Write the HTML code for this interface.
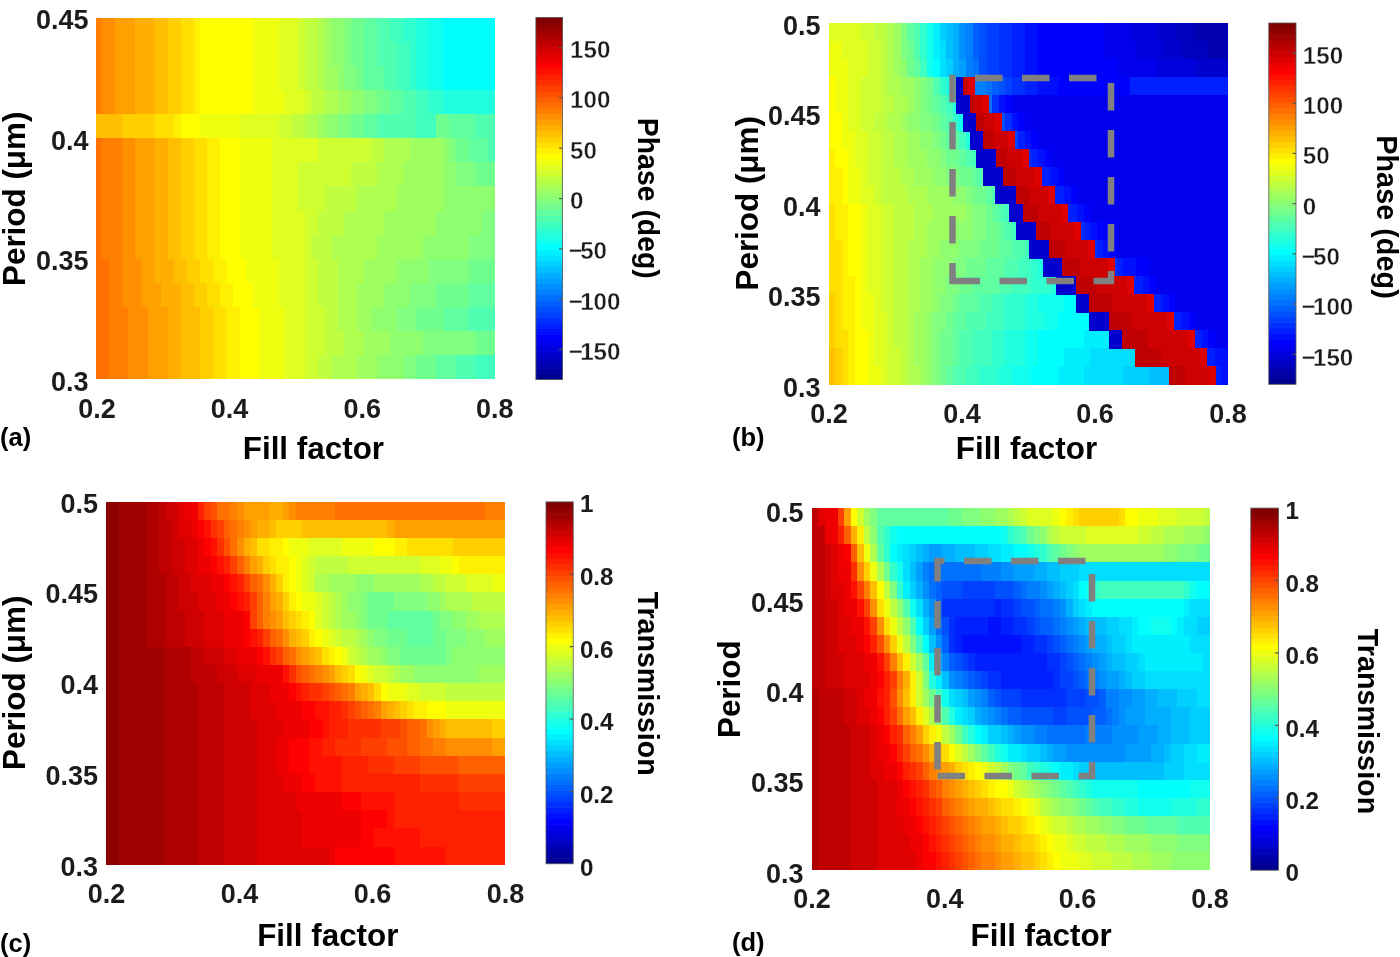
<!DOCTYPE html>
<html><head><meta charset="utf-8"><title>Figure</title><style>
html,body{margin:0;padding:0;background:#fff;width:1400px;height:957px;overflow:hidden}
svg{display:block;filter:blur(0.45px)}

text{font-family:"Liberation Sans",Arial,Helvetica,sans-serif}
.tk{font-size:27px;font-weight:bold;fill:#1c1c1c}
.cb{font-size:24.2px;font-weight:bold;fill:#1c1c1c;stroke:#fff;stroke-width:0.4px}
.cbb{font-size:24.2px;font-weight:bold;fill:#1c1c1c}
.lab{font-size:31.4px;font-weight:bold;fill:#000}
.cbl{font-size:29.6px;font-weight:bold;fill:#000}
.pl{font-size:25.5px;font-weight:bold;fill:#000}

</style></head><body>
<svg width="1400" height="957" viewBox="0 0 1400 957">
<rect width="1400" height="957" fill="#fff"/>
<g shape-rendering="crispEdges">
<rect x="95.5" y="17.6" width="7.15" height="24.72" fill="#ff8000"/>
<rect x="102.05" y="17.6" width="13.7" height="24.72" fill="#ff8f00"/>
<rect x="115.14" y="17.6" width="20.24" height="24.72" fill="#ff9f00"/>
<rect x="134.79" y="17.6" width="20.24" height="24.72" fill="#ffaf00"/>
<rect x="154.43" y="17.6" width="13.7" height="24.72" fill="#ffbf00"/>
<rect x="167.52" y="17.6" width="13.7" height="24.72" fill="#ffcf00"/>
<rect x="180.62" y="17.6" width="13.7" height="24.72" fill="#ffdf00"/>
<rect x="193.71" y="17.6" width="7.15" height="24.72" fill="#ffef00"/>
<rect x="200.26" y="17.6" width="52.98" height="24.72" fill="#ffff00"/>
<rect x="252.64" y="17.6" width="26.79" height="24.72" fill="#efff10"/>
<rect x="278.83" y="17.6" width="20.24" height="24.72" fill="#dfff20"/>
<rect x="298.47" y="17.6" width="7.15" height="24.72" fill="#cfff30"/>
<rect x="305.02" y="17.6" width="13.7" height="24.72" fill="#bfff40"/>
<rect x="318.12" y="17.6" width="7.15" height="24.72" fill="#afff50"/>
<rect x="324.66" y="17.6" width="7.15" height="24.72" fill="#9fff60"/>
<rect x="331.21" y="17.6" width="13.7" height="24.72" fill="#8fff70"/>
<rect x="344.31" y="17.6" width="7.15" height="24.72" fill="#80ff80"/>
<rect x="350.85" y="17.6" width="13.7" height="24.72" fill="#70ff8f"/>
<rect x="363.95" y="17.6" width="13.7" height="24.72" fill="#60ff9f"/>
<rect x="377.04" y="17.6" width="13.7" height="24.72" fill="#50ffaf"/>
<rect x="390.14" y="17.6" width="13.7" height="24.72" fill="#40ffbf"/>
<rect x="403.23" y="17.6" width="13.7" height="24.72" fill="#30ffcf"/>
<rect x="416.33" y="17.6" width="13.7" height="24.72" fill="#20ffdf"/>
<rect x="429.42" y="17.6" width="13.7" height="24.72" fill="#10ffef"/>
<rect x="442.52" y="17.6" width="52.38" height="24.72" fill="#00ffff"/>
<rect x="95.5" y="41.72" width="7.15" height="24.72" fill="#ff8000"/>
<rect x="102.05" y="41.72" width="13.7" height="24.72" fill="#ff8f00"/>
<rect x="115.14" y="41.72" width="20.24" height="24.72" fill="#ff9f00"/>
<rect x="134.79" y="41.72" width="20.24" height="24.72" fill="#ffaf00"/>
<rect x="154.43" y="41.72" width="13.7" height="24.72" fill="#ffbf00"/>
<rect x="167.52" y="41.72" width="13.7" height="24.72" fill="#ffcf00"/>
<rect x="180.62" y="41.72" width="13.7" height="24.72" fill="#ffdf00"/>
<rect x="193.71" y="41.72" width="7.15" height="24.72" fill="#ffef00"/>
<rect x="200.26" y="41.72" width="52.98" height="24.72" fill="#ffff00"/>
<rect x="252.64" y="41.72" width="26.79" height="24.72" fill="#efff10"/>
<rect x="278.83" y="41.72" width="20.24" height="24.72" fill="#dfff20"/>
<rect x="298.47" y="41.72" width="7.15" height="24.72" fill="#cfff30"/>
<rect x="305.02" y="41.72" width="13.7" height="24.72" fill="#bfff40"/>
<rect x="318.12" y="41.72" width="7.15" height="24.72" fill="#afff50"/>
<rect x="324.66" y="41.72" width="7.15" height="24.72" fill="#9fff60"/>
<rect x="331.21" y="41.72" width="13.7" height="24.72" fill="#8fff70"/>
<rect x="344.31" y="41.72" width="7.15" height="24.72" fill="#80ff80"/>
<rect x="350.85" y="41.72" width="13.7" height="24.72" fill="#70ff8f"/>
<rect x="363.95" y="41.72" width="13.7" height="24.72" fill="#60ff9f"/>
<rect x="377.04" y="41.72" width="20.24" height="24.72" fill="#50ffaf"/>
<rect x="396.69" y="41.72" width="13.7" height="24.72" fill="#40ffbf"/>
<rect x="409.78" y="41.72" width="7.15" height="24.72" fill="#30ffcf"/>
<rect x="416.33" y="41.72" width="13.7" height="24.72" fill="#20ffdf"/>
<rect x="429.42" y="41.72" width="13.7" height="24.72" fill="#10ffef"/>
<rect x="442.52" y="41.72" width="52.38" height="24.72" fill="#00ffff"/>
<rect x="95.5" y="65.84" width="7.15" height="24.72" fill="#ff8000"/>
<rect x="102.05" y="65.84" width="13.7" height="24.72" fill="#ff8f00"/>
<rect x="115.14" y="65.84" width="20.24" height="24.72" fill="#ff9f00"/>
<rect x="134.79" y="65.84" width="20.24" height="24.72" fill="#ffaf00"/>
<rect x="154.43" y="65.84" width="13.7" height="24.72" fill="#ffbf00"/>
<rect x="167.52" y="65.84" width="13.7" height="24.72" fill="#ffcf00"/>
<rect x="180.62" y="65.84" width="13.7" height="24.72" fill="#ffdf00"/>
<rect x="193.71" y="65.84" width="7.15" height="24.72" fill="#ffef00"/>
<rect x="200.26" y="65.84" width="52.98" height="24.72" fill="#ffff00"/>
<rect x="252.64" y="65.84" width="26.79" height="24.72" fill="#efff10"/>
<rect x="278.83" y="65.84" width="20.24" height="24.72" fill="#dfff20"/>
<rect x="298.47" y="65.84" width="7.15" height="24.72" fill="#cfff30"/>
<rect x="305.02" y="65.84" width="13.7" height="24.72" fill="#bfff40"/>
<rect x="318.12" y="65.84" width="7.15" height="24.72" fill="#afff50"/>
<rect x="324.66" y="65.84" width="13.7" height="24.72" fill="#9fff60"/>
<rect x="337.76" y="65.84" width="7.15" height="24.72" fill="#8fff70"/>
<rect x="344.31" y="65.84" width="13.7" height="24.72" fill="#80ff80"/>
<rect x="357.4" y="65.84" width="7.15" height="24.72" fill="#70ff8f"/>
<rect x="363.95" y="65.84" width="20.24" height="24.72" fill="#60ff9f"/>
<rect x="383.59" y="65.84" width="13.7" height="24.72" fill="#50ffaf"/>
<rect x="396.69" y="65.84" width="13.7" height="24.72" fill="#40ffbf"/>
<rect x="409.78" y="65.84" width="7.15" height="24.72" fill="#30ffcf"/>
<rect x="416.33" y="65.84" width="13.7" height="24.72" fill="#20ffdf"/>
<rect x="429.42" y="65.84" width="13.7" height="24.72" fill="#10ffef"/>
<rect x="442.52" y="65.84" width="52.38" height="24.72" fill="#00ffff"/>
<rect x="95.5" y="89.96" width="7.15" height="24.72" fill="#ff8000"/>
<rect x="102.05" y="89.96" width="13.7" height="24.72" fill="#ff8f00"/>
<rect x="115.14" y="89.96" width="20.24" height="24.72" fill="#ff9f00"/>
<rect x="134.79" y="89.96" width="20.24" height="24.72" fill="#ffaf00"/>
<rect x="154.43" y="89.96" width="13.7" height="24.72" fill="#ffbf00"/>
<rect x="167.52" y="89.96" width="13.7" height="24.72" fill="#ffcf00"/>
<rect x="180.62" y="89.96" width="13.7" height="24.72" fill="#ffdf00"/>
<rect x="193.71" y="89.96" width="7.15" height="24.72" fill="#ffef00"/>
<rect x="200.26" y="89.96" width="52.98" height="24.72" fill="#ffff00"/>
<rect x="252.64" y="89.96" width="33.34" height="24.72" fill="#efff10"/>
<rect x="285.38" y="89.96" width="20.24" height="24.72" fill="#dfff20"/>
<rect x="305.02" y="89.96" width="7.15" height="24.72" fill="#cfff30"/>
<rect x="311.57" y="89.96" width="13.7" height="24.72" fill="#bfff40"/>
<rect x="324.66" y="89.96" width="13.7" height="24.72" fill="#afff50"/>
<rect x="337.76" y="89.96" width="13.7" height="24.72" fill="#9fff60"/>
<rect x="350.85" y="89.96" width="13.7" height="24.72" fill="#8fff70"/>
<rect x="363.95" y="89.96" width="13.7" height="24.72" fill="#80ff80"/>
<rect x="377.04" y="89.96" width="13.7" height="24.72" fill="#70ff8f"/>
<rect x="390.14" y="89.96" width="13.7" height="24.72" fill="#60ff9f"/>
<rect x="403.23" y="89.96" width="13.7" height="24.72" fill="#50ffaf"/>
<rect x="416.33" y="89.96" width="13.7" height="24.72" fill="#40ffbf"/>
<rect x="429.42" y="89.96" width="13.7" height="24.72" fill="#30ffcf"/>
<rect x="442.52" y="89.96" width="52.38" height="24.72" fill="#20ffdf"/>
<rect x="95.5" y="114.08" width="26.79" height="24.72" fill="#ffbf00"/>
<rect x="121.69" y="114.08" width="33.34" height="24.72" fill="#ffcf00"/>
<rect x="154.43" y="114.08" width="20.24" height="24.72" fill="#ffdf00"/>
<rect x="174.07" y="114.08" width="7.15" height="24.72" fill="#ffef00"/>
<rect x="180.62" y="114.08" width="20.24" height="24.72" fill="#ffff00"/>
<rect x="200.26" y="114.08" width="39.89" height="24.72" fill="#efff10"/>
<rect x="239.55" y="114.08" width="39.89" height="24.72" fill="#dfff20"/>
<rect x="278.83" y="114.08" width="13.7" height="24.72" fill="#cfff30"/>
<rect x="291.93" y="114.08" width="13.7" height="24.72" fill="#bfff40"/>
<rect x="305.02" y="114.08" width="13.7" height="24.72" fill="#afff50"/>
<rect x="318.12" y="114.08" width="7.15" height="24.72" fill="#9fff60"/>
<rect x="324.66" y="114.08" width="13.7" height="24.72" fill="#8fff70"/>
<rect x="337.76" y="114.08" width="13.7" height="24.72" fill="#80ff80"/>
<rect x="350.85" y="114.08" width="13.7" height="24.72" fill="#70ff8f"/>
<rect x="363.95" y="114.08" width="13.7" height="24.72" fill="#60ff9f"/>
<rect x="377.04" y="114.08" width="39.89" height="24.72" fill="#50ffaf"/>
<rect x="416.33" y="114.08" width="20.24" height="24.72" fill="#40ffbf"/>
<rect x="435.97" y="114.08" width="13.7" height="24.72" fill="#70ff8f"/>
<rect x="449.07" y="114.08" width="26.79" height="24.72" fill="#60ff9f"/>
<rect x="475.26" y="114.08" width="19.64" height="24.72" fill="#50ffaf"/>
<rect x="95.5" y="138.2" width="7.15" height="24.72" fill="#ff7000"/>
<rect x="102.05" y="138.2" width="20.24" height="24.72" fill="#ff8000"/>
<rect x="121.69" y="138.2" width="13.7" height="24.72" fill="#ff8f00"/>
<rect x="134.79" y="138.2" width="20.24" height="24.72" fill="#ff9f00"/>
<rect x="154.43" y="138.2" width="13.7" height="24.72" fill="#ffaf00"/>
<rect x="167.52" y="138.2" width="13.7" height="24.72" fill="#ffbf00"/>
<rect x="180.62" y="138.2" width="13.7" height="24.72" fill="#ffcf00"/>
<rect x="193.71" y="138.2" width="13.7" height="24.72" fill="#ffdf00"/>
<rect x="206.81" y="138.2" width="13.7" height="24.72" fill="#ffef00"/>
<rect x="219.9" y="138.2" width="20.24" height="24.72" fill="#ffff00"/>
<rect x="239.55" y="138.2" width="33.34" height="24.72" fill="#efff10"/>
<rect x="272.28" y="138.2" width="46.43" height="24.72" fill="#dfff20"/>
<rect x="318.12" y="138.2" width="52.98" height="24.72" fill="#cfff30"/>
<rect x="370.5" y="138.2" width="13.7" height="24.72" fill="#bfff40"/>
<rect x="383.59" y="138.2" width="26.79" height="24.72" fill="#afff50"/>
<rect x="409.78" y="138.2" width="33.34" height="24.72" fill="#9fff60"/>
<rect x="442.52" y="138.2" width="7.15" height="24.72" fill="#8fff70"/>
<rect x="449.07" y="138.2" width="7.15" height="24.72" fill="#80ff80"/>
<rect x="455.61" y="138.2" width="13.7" height="24.72" fill="#70ff8f"/>
<rect x="468.71" y="138.2" width="20.24" height="24.72" fill="#60ff9f"/>
<rect x="488.35" y="138.2" width="6.55" height="24.72" fill="#50ffaf"/>
<rect x="95.5" y="162.32" width="7.15" height="24.72" fill="#ff7000"/>
<rect x="102.05" y="162.32" width="20.24" height="24.72" fill="#ff8000"/>
<rect x="121.69" y="162.32" width="13.7" height="24.72" fill="#ff8f00"/>
<rect x="134.79" y="162.32" width="20.24" height="24.72" fill="#ff9f00"/>
<rect x="154.43" y="162.32" width="13.7" height="24.72" fill="#ffaf00"/>
<rect x="167.52" y="162.32" width="13.7" height="24.72" fill="#ffbf00"/>
<rect x="180.62" y="162.32" width="13.7" height="24.72" fill="#ffcf00"/>
<rect x="193.71" y="162.32" width="13.7" height="24.72" fill="#ffdf00"/>
<rect x="206.81" y="162.32" width="13.7" height="24.72" fill="#ffef00"/>
<rect x="219.9" y="162.32" width="20.24" height="24.72" fill="#ffff00"/>
<rect x="239.55" y="162.32" width="33.34" height="24.72" fill="#efff10"/>
<rect x="272.28" y="162.32" width="26.79" height="24.72" fill="#dfff20"/>
<rect x="298.47" y="162.32" width="52.98" height="24.72" fill="#cfff30"/>
<rect x="350.85" y="162.32" width="26.79" height="24.72" fill="#bfff40"/>
<rect x="377.04" y="162.32" width="26.79" height="24.72" fill="#afff50"/>
<rect x="403.23" y="162.32" width="39.89" height="24.72" fill="#9fff60"/>
<rect x="442.52" y="162.32" width="13.7" height="24.72" fill="#8fff70"/>
<rect x="455.61" y="162.32" width="20.24" height="24.72" fill="#80ff80"/>
<rect x="475.26" y="162.32" width="19.64" height="24.72" fill="#70ff8f"/>
<rect x="95.5" y="186.44" width="7.15" height="24.72" fill="#ff7000"/>
<rect x="102.05" y="186.44" width="20.24" height="24.72" fill="#ff8000"/>
<rect x="121.69" y="186.44" width="13.7" height="24.72" fill="#ff8f00"/>
<rect x="134.79" y="186.44" width="20.24" height="24.72" fill="#ff9f00"/>
<rect x="154.43" y="186.44" width="13.7" height="24.72" fill="#ffaf00"/>
<rect x="167.52" y="186.44" width="13.7" height="24.72" fill="#ffbf00"/>
<rect x="180.62" y="186.44" width="13.7" height="24.72" fill="#ffcf00"/>
<rect x="193.71" y="186.44" width="13.7" height="24.72" fill="#ffdf00"/>
<rect x="206.81" y="186.44" width="13.7" height="24.72" fill="#ffef00"/>
<rect x="219.9" y="186.44" width="20.24" height="24.72" fill="#ffff00"/>
<rect x="239.55" y="186.44" width="33.34" height="24.72" fill="#efff10"/>
<rect x="272.28" y="186.44" width="26.79" height="24.72" fill="#dfff20"/>
<rect x="298.47" y="186.44" width="26.79" height="24.72" fill="#cfff30"/>
<rect x="324.66" y="186.44" width="33.34" height="24.72" fill="#bfff40"/>
<rect x="357.4" y="186.44" width="39.89" height="24.72" fill="#afff50"/>
<rect x="396.69" y="186.44" width="46.43" height="24.72" fill="#9fff60"/>
<rect x="442.52" y="186.44" width="52.38" height="24.72" fill="#8fff70"/>
<rect x="95.5" y="210.56" width="7.15" height="24.72" fill="#ff7000"/>
<rect x="102.05" y="210.56" width="20.24" height="24.72" fill="#ff8000"/>
<rect x="121.69" y="210.56" width="13.7" height="24.72" fill="#ff8f00"/>
<rect x="134.79" y="210.56" width="20.24" height="24.72" fill="#ff9f00"/>
<rect x="154.43" y="210.56" width="13.7" height="24.72" fill="#ffaf00"/>
<rect x="167.52" y="210.56" width="13.7" height="24.72" fill="#ffbf00"/>
<rect x="180.62" y="210.56" width="13.7" height="24.72" fill="#ffcf00"/>
<rect x="193.71" y="210.56" width="13.7" height="24.72" fill="#ffdf00"/>
<rect x="206.81" y="210.56" width="13.7" height="24.72" fill="#ffef00"/>
<rect x="219.9" y="210.56" width="20.24" height="24.72" fill="#ffff00"/>
<rect x="239.55" y="210.56" width="33.34" height="24.72" fill="#efff10"/>
<rect x="272.28" y="210.56" width="33.34" height="24.72" fill="#dfff20"/>
<rect x="305.02" y="210.56" width="13.7" height="24.72" fill="#cfff30"/>
<rect x="318.12" y="210.56" width="26.79" height="24.72" fill="#bfff40"/>
<rect x="344.31" y="210.56" width="39.89" height="24.72" fill="#afff50"/>
<rect x="383.59" y="210.56" width="52.98" height="24.72" fill="#9fff60"/>
<rect x="435.97" y="210.56" width="46.43" height="24.72" fill="#8fff70"/>
<rect x="481.8" y="210.56" width="13.1" height="24.72" fill="#80ff80"/>
<rect x="95.5" y="234.68" width="7.15" height="24.72" fill="#ff7000"/>
<rect x="102.05" y="234.68" width="20.24" height="24.72" fill="#ff8000"/>
<rect x="121.69" y="234.68" width="13.7" height="24.72" fill="#ff8f00"/>
<rect x="134.79" y="234.68" width="20.24" height="24.72" fill="#ff9f00"/>
<rect x="154.43" y="234.68" width="13.7" height="24.72" fill="#ffaf00"/>
<rect x="167.52" y="234.68" width="13.7" height="24.72" fill="#ffbf00"/>
<rect x="180.62" y="234.68" width="13.7" height="24.72" fill="#ffcf00"/>
<rect x="193.71" y="234.68" width="13.7" height="24.72" fill="#ffdf00"/>
<rect x="206.81" y="234.68" width="13.7" height="24.72" fill="#ffef00"/>
<rect x="219.9" y="234.68" width="20.24" height="24.72" fill="#ffff00"/>
<rect x="239.55" y="234.68" width="33.34" height="24.72" fill="#efff10"/>
<rect x="272.28" y="234.68" width="33.34" height="24.72" fill="#dfff20"/>
<rect x="305.02" y="234.68" width="7.15" height="24.72" fill="#cfff30"/>
<rect x="311.57" y="234.68" width="20.24" height="24.72" fill="#bfff40"/>
<rect x="331.21" y="234.68" width="46.43" height="24.72" fill="#afff50"/>
<rect x="377.04" y="234.68" width="46.43" height="24.72" fill="#9fff60"/>
<rect x="422.88" y="234.68" width="46.43" height="24.72" fill="#8fff70"/>
<rect x="468.71" y="234.68" width="26.19" height="24.72" fill="#80ff80"/>
<rect x="95.5" y="258.8" width="13.7" height="24.72" fill="#ff7000"/>
<rect x="108.6" y="258.8" width="13.7" height="24.72" fill="#ff8000"/>
<rect x="121.69" y="258.8" width="20.24" height="24.72" fill="#ff8f00"/>
<rect x="141.33" y="258.8" width="13.7" height="24.72" fill="#ff9f00"/>
<rect x="154.43" y="258.8" width="20.24" height="24.72" fill="#ffaf00"/>
<rect x="174.07" y="258.8" width="13.7" height="24.72" fill="#ffbf00"/>
<rect x="187.17" y="258.8" width="13.7" height="24.72" fill="#ffcf00"/>
<rect x="200.26" y="258.8" width="13.7" height="24.72" fill="#ffdf00"/>
<rect x="213.36" y="258.8" width="13.7" height="24.72" fill="#ffef00"/>
<rect x="226.45" y="258.8" width="20.24" height="24.72" fill="#ffff00"/>
<rect x="246.09" y="258.8" width="33.34" height="24.72" fill="#efff10"/>
<rect x="278.83" y="258.8" width="26.79" height="24.72" fill="#dfff20"/>
<rect x="305.02" y="258.8" width="13.7" height="24.72" fill="#cfff30"/>
<rect x="318.12" y="258.8" width="20.24" height="24.72" fill="#bfff40"/>
<rect x="337.76" y="258.8" width="26.79" height="24.72" fill="#afff50"/>
<rect x="363.95" y="258.8" width="33.34" height="24.72" fill="#9fff60"/>
<rect x="396.69" y="258.8" width="33.34" height="24.72" fill="#8fff70"/>
<rect x="429.42" y="258.8" width="39.89" height="24.72" fill="#80ff80"/>
<rect x="468.71" y="258.8" width="26.19" height="24.72" fill="#70ff8f"/>
<rect x="95.5" y="282.92" width="13.7" height="24.72" fill="#ff7000"/>
<rect x="108.6" y="282.92" width="13.7" height="24.72" fill="#ff8000"/>
<rect x="121.69" y="282.92" width="20.24" height="24.72" fill="#ff8f00"/>
<rect x="141.33" y="282.92" width="20.24" height="24.72" fill="#ff9f00"/>
<rect x="160.98" y="282.92" width="20.24" height="24.72" fill="#ffaf00"/>
<rect x="180.62" y="282.92" width="13.7" height="24.72" fill="#ffbf00"/>
<rect x="193.71" y="282.92" width="13.7" height="24.72" fill="#ffcf00"/>
<rect x="206.81" y="282.92" width="13.7" height="24.72" fill="#ffdf00"/>
<rect x="219.9" y="282.92" width="13.7" height="24.72" fill="#ffef00"/>
<rect x="233" y="282.92" width="20.24" height="24.72" fill="#ffff00"/>
<rect x="252.64" y="282.92" width="26.79" height="24.72" fill="#efff10"/>
<rect x="278.83" y="282.92" width="26.79" height="24.72" fill="#dfff20"/>
<rect x="305.02" y="282.92" width="13.7" height="24.72" fill="#cfff30"/>
<rect x="318.12" y="282.92" width="20.24" height="24.72" fill="#bfff40"/>
<rect x="337.76" y="282.92" width="20.24" height="24.72" fill="#afff50"/>
<rect x="357.4" y="282.92" width="26.79" height="24.72" fill="#9fff60"/>
<rect x="383.59" y="282.92" width="26.79" height="24.72" fill="#8fff70"/>
<rect x="409.78" y="282.92" width="26.79" height="24.72" fill="#80ff80"/>
<rect x="435.97" y="282.92" width="33.34" height="24.72" fill="#70ff8f"/>
<rect x="468.71" y="282.92" width="26.19" height="24.72" fill="#60ff9f"/>
<rect x="95.5" y="307.04" width="13.7" height="24.72" fill="#ff7000"/>
<rect x="108.6" y="307.04" width="20.24" height="24.72" fill="#ff8000"/>
<rect x="128.24" y="307.04" width="20.24" height="24.72" fill="#ff8f00"/>
<rect x="147.88" y="307.04" width="20.24" height="24.72" fill="#ff9f00"/>
<rect x="167.52" y="307.04" width="13.7" height="24.72" fill="#ffaf00"/>
<rect x="180.62" y="307.04" width="20.24" height="24.72" fill="#ffbf00"/>
<rect x="200.26" y="307.04" width="13.7" height="24.72" fill="#ffcf00"/>
<rect x="213.36" y="307.04" width="13.7" height="24.72" fill="#ffdf00"/>
<rect x="226.45" y="307.04" width="13.7" height="24.72" fill="#ffef00"/>
<rect x="239.55" y="307.04" width="20.24" height="24.72" fill="#ffff00"/>
<rect x="259.19" y="307.04" width="26.79" height="24.72" fill="#efff10"/>
<rect x="285.38" y="307.04" width="20.24" height="24.72" fill="#dfff20"/>
<rect x="305.02" y="307.04" width="20.24" height="24.72" fill="#cfff30"/>
<rect x="324.66" y="307.04" width="13.7" height="24.72" fill="#bfff40"/>
<rect x="337.76" y="307.04" width="20.24" height="24.72" fill="#afff50"/>
<rect x="357.4" y="307.04" width="13.7" height="24.72" fill="#9fff60"/>
<rect x="370.5" y="307.04" width="26.79" height="24.72" fill="#8fff70"/>
<rect x="396.69" y="307.04" width="20.24" height="24.72" fill="#80ff80"/>
<rect x="416.33" y="307.04" width="26.79" height="24.72" fill="#70ff8f"/>
<rect x="442.52" y="307.04" width="26.79" height="24.72" fill="#60ff9f"/>
<rect x="468.71" y="307.04" width="26.19" height="24.72" fill="#50ffaf"/>
<rect x="95.5" y="331.16" width="13.7" height="24.72" fill="#ff7000"/>
<rect x="108.6" y="331.16" width="20.24" height="24.72" fill="#ff8000"/>
<rect x="128.24" y="331.16" width="20.24" height="24.72" fill="#ff8f00"/>
<rect x="147.88" y="331.16" width="20.24" height="24.72" fill="#ff9f00"/>
<rect x="167.52" y="331.16" width="13.7" height="24.72" fill="#ffaf00"/>
<rect x="180.62" y="331.16" width="20.24" height="24.72" fill="#ffbf00"/>
<rect x="200.26" y="331.16" width="13.7" height="24.72" fill="#ffcf00"/>
<rect x="213.36" y="331.16" width="13.7" height="24.72" fill="#ffdf00"/>
<rect x="226.45" y="331.16" width="13.7" height="24.72" fill="#ffef00"/>
<rect x="239.55" y="331.16" width="20.24" height="24.72" fill="#ffff00"/>
<rect x="259.19" y="331.16" width="26.79" height="24.72" fill="#efff10"/>
<rect x="285.38" y="331.16" width="20.24" height="24.72" fill="#dfff20"/>
<rect x="305.02" y="331.16" width="20.24" height="24.72" fill="#cfff30"/>
<rect x="324.66" y="331.16" width="20.24" height="24.72" fill="#bfff40"/>
<rect x="344.31" y="331.16" width="20.24" height="24.72" fill="#afff50"/>
<rect x="363.95" y="331.16" width="26.79" height="24.72" fill="#9fff60"/>
<rect x="390.14" y="331.16" width="33.34" height="24.72" fill="#8fff70"/>
<rect x="422.88" y="331.16" width="52.98" height="24.72" fill="#80ff80"/>
<rect x="475.26" y="331.16" width="19.64" height="24.72" fill="#70ff8f"/>
<rect x="95.5" y="355.28" width="13.7" height="24.12" fill="#ff7000"/>
<rect x="108.6" y="355.28" width="20.24" height="24.12" fill="#ff8000"/>
<rect x="128.24" y="355.28" width="20.24" height="24.12" fill="#ff8f00"/>
<rect x="147.88" y="355.28" width="20.24" height="24.12" fill="#ff9f00"/>
<rect x="167.52" y="355.28" width="13.7" height="24.12" fill="#ffaf00"/>
<rect x="180.62" y="355.28" width="20.24" height="24.12" fill="#ffbf00"/>
<rect x="200.26" y="355.28" width="13.7" height="24.12" fill="#ffcf00"/>
<rect x="213.36" y="355.28" width="13.7" height="24.12" fill="#ffdf00"/>
<rect x="226.45" y="355.28" width="13.7" height="24.12" fill="#ffef00"/>
<rect x="239.55" y="355.28" width="20.24" height="24.12" fill="#ffff00"/>
<rect x="259.19" y="355.28" width="26.79" height="24.12" fill="#efff10"/>
<rect x="285.38" y="355.28" width="20.24" height="24.12" fill="#dfff20"/>
<rect x="305.02" y="355.28" width="13.7" height="24.12" fill="#cfff30"/>
<rect x="318.12" y="355.28" width="13.7" height="24.12" fill="#bfff40"/>
<rect x="331.21" y="355.28" width="26.79" height="24.12" fill="#afff50"/>
<rect x="357.4" y="355.28" width="20.24" height="24.12" fill="#9fff60"/>
<rect x="377.04" y="355.28" width="26.79" height="24.12" fill="#8fff70"/>
<rect x="403.23" y="355.28" width="13.7" height="24.12" fill="#80ff80"/>
<rect x="416.33" y="355.28" width="20.24" height="24.12" fill="#70ff8f"/>
<rect x="435.97" y="355.28" width="20.24" height="24.12" fill="#60ff9f"/>
<rect x="455.61" y="355.28" width="20.24" height="24.12" fill="#50ffaf"/>
<rect x="475.26" y="355.28" width="19.64" height="24.12" fill="#40ffbf"/>
</g>
<g shape-rendering="crispEdges">
<rect x="828.5" y="22.8" width="33.33" height="18.69" fill="#dfff20"/>
<rect x="861.23" y="22.8" width="13.69" height="18.69" fill="#cfff30"/>
<rect x="874.32" y="22.8" width="13.69" height="18.69" fill="#bfff40"/>
<rect x="887.41" y="22.8" width="7.15" height="18.69" fill="#afff50"/>
<rect x="893.96" y="22.8" width="7.15" height="18.69" fill="#9fff60"/>
<rect x="900.5" y="22.8" width="7.15" height="18.69" fill="#80ff80"/>
<rect x="907.05" y="22.8" width="7.15" height="18.69" fill="#60ff9f"/>
<rect x="913.6" y="22.8" width="7.15" height="18.69" fill="#50ffaf"/>
<rect x="920.14" y="22.8" width="7.15" height="18.69" fill="#30ffcf"/>
<rect x="926.69" y="22.8" width="7.15" height="18.69" fill="#10ffef"/>
<rect x="933.23" y="22.8" width="7.15" height="18.69" fill="#00efff"/>
<rect x="939.78" y="22.8" width="7.15" height="18.69" fill="#00cfff"/>
<rect x="946.33" y="22.8" width="7.15" height="18.69" fill="#00bfff"/>
<rect x="952.87" y="22.8" width="7.15" height="18.69" fill="#00afff"/>
<rect x="959.42" y="22.8" width="7.15" height="18.69" fill="#008fff"/>
<rect x="965.96" y="22.8" width="7.15" height="18.69" fill="#0080ff"/>
<rect x="972.51" y="22.8" width="7.15" height="18.69" fill="#0060ff"/>
<rect x="979.06" y="22.8" width="7.15" height="18.69" fill="#0050ff"/>
<rect x="985.6" y="22.8" width="13.69" height="18.69" fill="#0040ff"/>
<rect x="998.69" y="22.8" width="13.69" height="18.69" fill="#0030ff"/>
<rect x="1011.79" y="22.8" width="13.69" height="18.69" fill="#0020ff"/>
<rect x="1024.88" y="22.8" width="13.69" height="18.69" fill="#0010ff"/>
<rect x="1037.97" y="22.8" width="66.06" height="18.69" fill="#0000ff"/>
<rect x="1103.43" y="22.8" width="26.78" height="18.69" fill="#0000ef"/>
<rect x="1129.61" y="22.8" width="26.78" height="18.69" fill="#0000df"/>
<rect x="1155.8" y="22.8" width="20.24" height="18.69" fill="#0000cf"/>
<rect x="1175.43" y="22.8" width="20.24" height="18.69" fill="#0000bf"/>
<rect x="1195.07" y="22.8" width="32.73" height="18.69" fill="#0000af"/>
<rect x="828.5" y="40.89" width="13.69" height="18.69" fill="#efff10"/>
<rect x="841.59" y="40.89" width="26.78" height="18.69" fill="#dfff20"/>
<rect x="867.78" y="40.89" width="13.69" height="18.69" fill="#cfff30"/>
<rect x="880.87" y="40.89" width="7.15" height="18.69" fill="#bfff40"/>
<rect x="887.41" y="40.89" width="7.15" height="18.69" fill="#afff50"/>
<rect x="893.96" y="40.89" width="7.15" height="18.69" fill="#9fff60"/>
<rect x="900.5" y="40.89" width="7.15" height="18.69" fill="#80ff80"/>
<rect x="907.05" y="40.89" width="7.15" height="18.69" fill="#70ff8f"/>
<rect x="913.6" y="40.89" width="7.15" height="18.69" fill="#50ffaf"/>
<rect x="920.14" y="40.89" width="7.15" height="18.69" fill="#30ffcf"/>
<rect x="926.69" y="40.89" width="7.15" height="18.69" fill="#10ffef"/>
<rect x="933.23" y="40.89" width="7.15" height="18.69" fill="#00efff"/>
<rect x="939.78" y="40.89" width="7.15" height="18.69" fill="#00dfff"/>
<rect x="946.33" y="40.89" width="7.15" height="18.69" fill="#00bfff"/>
<rect x="952.87" y="40.89" width="7.15" height="18.69" fill="#00afff"/>
<rect x="959.42" y="40.89" width="7.15" height="18.69" fill="#008fff"/>
<rect x="965.96" y="40.89" width="7.15" height="18.69" fill="#0080ff"/>
<rect x="972.51" y="40.89" width="7.15" height="18.69" fill="#0060ff"/>
<rect x="979.06" y="40.89" width="7.15" height="18.69" fill="#0050ff"/>
<rect x="985.6" y="40.89" width="13.69" height="18.69" fill="#0040ff"/>
<rect x="998.69" y="40.89" width="13.69" height="18.69" fill="#0030ff"/>
<rect x="1011.79" y="40.89" width="13.69" height="18.69" fill="#0020ff"/>
<rect x="1024.88" y="40.89" width="13.69" height="18.69" fill="#0010ff"/>
<rect x="1037.97" y="40.89" width="66.06" height="18.69" fill="#0000ff"/>
<rect x="1103.43" y="40.89" width="33.33" height="18.69" fill="#0000ef"/>
<rect x="1136.16" y="40.89" width="26.78" height="18.69" fill="#0000df"/>
<rect x="1162.34" y="40.89" width="20.24" height="18.69" fill="#0000cf"/>
<rect x="1181.98" y="40.89" width="26.78" height="18.69" fill="#0000bf"/>
<rect x="1208.16" y="40.89" width="19.64" height="18.69" fill="#0000af"/>
<rect x="828.5" y="58.97" width="20.24" height="18.69" fill="#efff10"/>
<rect x="848.14" y="58.97" width="20.24" height="18.69" fill="#dfff20"/>
<rect x="867.78" y="58.97" width="13.69" height="18.69" fill="#cfff30"/>
<rect x="880.87" y="58.97" width="7.15" height="18.69" fill="#bfff40"/>
<rect x="887.41" y="58.97" width="7.15" height="18.69" fill="#afff50"/>
<rect x="893.96" y="58.97" width="7.15" height="18.69" fill="#9fff60"/>
<rect x="900.5" y="58.97" width="7.15" height="18.69" fill="#8fff70"/>
<rect x="907.05" y="58.97" width="7.15" height="18.69" fill="#70ff8f"/>
<rect x="913.6" y="58.97" width="7.15" height="18.69" fill="#60ff9f"/>
<rect x="920.14" y="58.97" width="7.15" height="18.69" fill="#40ffbf"/>
<rect x="926.69" y="58.97" width="7.15" height="18.69" fill="#10ffef"/>
<rect x="933.23" y="58.97" width="7.15" height="18.69" fill="#00ffff"/>
<rect x="939.78" y="58.97" width="7.15" height="18.69" fill="#00dfff"/>
<rect x="946.33" y="58.97" width="7.15" height="18.69" fill="#00cfff"/>
<rect x="952.87" y="58.97" width="7.15" height="18.69" fill="#00afff"/>
<rect x="959.42" y="58.97" width="7.15" height="18.69" fill="#009fff"/>
<rect x="965.96" y="58.97" width="7.15" height="18.69" fill="#0080ff"/>
<rect x="972.51" y="58.97" width="7.15" height="18.69" fill="#0070ff"/>
<rect x="979.06" y="58.97" width="7.15" height="18.69" fill="#0050ff"/>
<rect x="985.6" y="58.97" width="13.69" height="18.69" fill="#0040ff"/>
<rect x="998.69" y="58.97" width="13.69" height="18.69" fill="#0030ff"/>
<rect x="1011.79" y="58.97" width="13.69" height="18.69" fill="#0020ff"/>
<rect x="1024.88" y="58.97" width="13.69" height="18.69" fill="#0010ff"/>
<rect x="1037.97" y="58.97" width="79.15" height="18.69" fill="#0000ff"/>
<rect x="1116.52" y="58.97" width="39.88" height="18.69" fill="#0000ef"/>
<rect x="1155.8" y="58.97" width="39.88" height="18.69" fill="#0000df"/>
<rect x="1195.07" y="58.97" width="32.73" height="18.69" fill="#0000cf"/>
<rect x="828.5" y="77.06" width="7.15" height="18.69" fill="#ffff00"/>
<rect x="835.05" y="77.06" width="13.69" height="18.69" fill="#efff10"/>
<rect x="848.14" y="77.06" width="13.69" height="18.69" fill="#dfff20"/>
<rect x="861.23" y="77.06" width="20.24" height="18.69" fill="#cfff30"/>
<rect x="880.87" y="77.06" width="7.15" height="18.69" fill="#bfff40"/>
<rect x="887.41" y="77.06" width="13.69" height="18.69" fill="#afff50"/>
<rect x="900.5" y="77.06" width="13.69" height="18.69" fill="#9fff60"/>
<rect x="913.6" y="77.06" width="7.15" height="18.69" fill="#8fff70"/>
<rect x="920.14" y="77.06" width="7.15" height="18.69" fill="#80ff80"/>
<rect x="926.69" y="77.06" width="7.15" height="18.69" fill="#70ff8f"/>
<rect x="933.23" y="77.06" width="7.15" height="18.69" fill="#50ffaf"/>
<rect x="939.78" y="77.06" width="7.15" height="18.69" fill="#30ffcf"/>
<rect x="946.33" y="77.06" width="7.15" height="18.69" fill="#20ffdf"/>
<rect x="952.87" y="77.06" width="7.15" height="18.69" fill="#00ffff"/>
<rect x="959.42" y="77.06" width="7.15" height="18.69" fill="#00dfff"/>
<rect x="965.96" y="77.06" width="7.15" height="18.69" fill="#00afff"/>
<rect x="972.51" y="77.06" width="13.69" height="18.69" fill="#0080ff"/>
<rect x="985.6" y="77.06" width="7.15" height="18.69" fill="#0070ff"/>
<rect x="992.15" y="77.06" width="7.15" height="18.69" fill="#0060ff"/>
<rect x="998.69" y="77.06" width="7.15" height="18.69" fill="#0050ff"/>
<rect x="1005.24" y="77.06" width="7.15" height="18.69" fill="#0040ff"/>
<rect x="1011.79" y="77.06" width="13.69" height="18.69" fill="#0030ff"/>
<rect x="1024.88" y="77.06" width="13.69" height="18.69" fill="#0020ff"/>
<rect x="1037.97" y="77.06" width="20.24" height="18.69" fill="#0010ff"/>
<rect x="1057.61" y="77.06" width="72.6" height="18.69" fill="#0000ff"/>
<rect x="1129.61" y="77.06" width="98.19" height="18.69" fill="#0020ff"/>
<rect x="828.5" y="95.14" width="7.15" height="18.69" fill="#ffff00"/>
<rect x="835.05" y="95.14" width="13.69" height="18.69" fill="#efff10"/>
<rect x="848.14" y="95.14" width="13.69" height="18.69" fill="#dfff20"/>
<rect x="861.23" y="95.14" width="20.24" height="18.69" fill="#cfff30"/>
<rect x="880.87" y="95.14" width="13.69" height="18.69" fill="#bfff40"/>
<rect x="893.96" y="95.14" width="13.69" height="18.69" fill="#afff50"/>
<rect x="907.05" y="95.14" width="7.15" height="18.69" fill="#9fff60"/>
<rect x="913.6" y="95.14" width="7.15" height="18.69" fill="#8fff70"/>
<rect x="920.14" y="95.14" width="7.15" height="18.69" fill="#80ff80"/>
<rect x="926.69" y="95.14" width="7.15" height="18.69" fill="#70ff8f"/>
<rect x="933.23" y="95.14" width="7.15" height="18.69" fill="#60ff9f"/>
<rect x="939.78" y="95.14" width="7.15" height="18.69" fill="#50ffaf"/>
<rect x="946.33" y="95.14" width="7.15" height="18.69" fill="#40ffbf"/>
<rect x="952.87" y="95.14" width="7.15" height="18.69" fill="#20ffdf"/>
<rect x="959.42" y="95.14" width="7.15" height="18.69" fill="#00ffff"/>
<rect x="965.96" y="95.14" width="7.15" height="18.69" fill="#00cfff"/>
<rect x="972.51" y="95.14" width="7.15" height="18.69" fill="#00afff"/>
<rect x="979.06" y="95.14" width="7.15" height="18.69" fill="#008fff"/>
<rect x="985.6" y="95.14" width="7.15" height="18.69" fill="#0070ff"/>
<rect x="992.15" y="95.14" width="7.15" height="18.69" fill="#0030ff"/>
<rect x="998.69" y="95.14" width="7.15" height="18.69" fill="#0010ff"/>
<rect x="1005.24" y="95.14" width="7.15" height="18.69" fill="#0000ff"/>
<rect x="1011.79" y="95.14" width="216.01" height="18.69" fill="#0000ef"/>
<rect x="828.5" y="113.23" width="13.69" height="18.69" fill="#ffff00"/>
<rect x="841.59" y="113.23" width="7.15" height="18.69" fill="#efff10"/>
<rect x="848.14" y="113.23" width="13.69" height="18.69" fill="#dfff20"/>
<rect x="861.23" y="113.23" width="13.69" height="18.69" fill="#cfff30"/>
<rect x="874.32" y="113.23" width="13.69" height="18.69" fill="#bfff40"/>
<rect x="887.41" y="113.23" width="13.69" height="18.69" fill="#afff50"/>
<rect x="900.5" y="113.23" width="7.15" height="18.69" fill="#9fff60"/>
<rect x="907.05" y="113.23" width="13.69" height="18.69" fill="#8fff70"/>
<rect x="920.14" y="113.23" width="13.69" height="18.69" fill="#80ff80"/>
<rect x="933.23" y="113.23" width="7.15" height="18.69" fill="#70ff8f"/>
<rect x="939.78" y="113.23" width="7.15" height="18.69" fill="#60ff9f"/>
<rect x="946.33" y="113.23" width="7.15" height="18.69" fill="#50ffaf"/>
<rect x="952.87" y="113.23" width="7.15" height="18.69" fill="#30ffcf"/>
<rect x="959.42" y="113.23" width="7.15" height="18.69" fill="#10ffef"/>
<rect x="965.96" y="113.23" width="7.15" height="18.69" fill="#00efff"/>
<rect x="972.51" y="113.23" width="7.15" height="18.69" fill="#00cfff"/>
<rect x="979.06" y="113.23" width="7.15" height="18.69" fill="#00afff"/>
<rect x="985.6" y="113.23" width="7.15" height="18.69" fill="#008fff"/>
<rect x="992.15" y="113.23" width="7.15" height="18.69" fill="#0070ff"/>
<rect x="998.69" y="113.23" width="7.15" height="18.69" fill="#0050ff"/>
<rect x="1005.24" y="113.23" width="7.15" height="18.69" fill="#0030ff"/>
<rect x="1011.79" y="113.23" width="7.15" height="18.69" fill="#0010ff"/>
<rect x="1018.33" y="113.23" width="7.15" height="18.69" fill="#0000ff"/>
<rect x="1024.88" y="113.23" width="202.92" height="18.69" fill="#0000ef"/>
<rect x="828.5" y="131.31" width="13.69" height="18.69" fill="#ffff00"/>
<rect x="841.59" y="131.31" width="13.69" height="18.69" fill="#efff10"/>
<rect x="854.68" y="131.31" width="13.69" height="18.69" fill="#dfff20"/>
<rect x="867.78" y="131.31" width="13.69" height="18.69" fill="#cfff30"/>
<rect x="880.87" y="131.31" width="13.69" height="18.69" fill="#bfff40"/>
<rect x="893.96" y="131.31" width="13.69" height="18.69" fill="#afff50"/>
<rect x="907.05" y="131.31" width="13.69" height="18.69" fill="#9fff60"/>
<rect x="920.14" y="131.31" width="13.69" height="18.69" fill="#8fff70"/>
<rect x="933.23" y="131.31" width="7.15" height="18.69" fill="#80ff80"/>
<rect x="939.78" y="131.31" width="7.15" height="18.69" fill="#70ff8f"/>
<rect x="946.33" y="131.31" width="13.69" height="18.69" fill="#60ff9f"/>
<rect x="959.42" y="131.31" width="7.15" height="18.69" fill="#40ffbf"/>
<rect x="965.96" y="131.31" width="7.15" height="18.69" fill="#20ffdf"/>
<rect x="972.51" y="131.31" width="7.15" height="18.69" fill="#00ffff"/>
<rect x="979.06" y="131.31" width="7.15" height="18.69" fill="#00dfff"/>
<rect x="985.6" y="131.31" width="7.15" height="18.69" fill="#00bfff"/>
<rect x="992.15" y="131.31" width="7.15" height="18.69" fill="#009fff"/>
<rect x="998.69" y="131.31" width="7.15" height="18.69" fill="#0080ff"/>
<rect x="1005.24" y="131.31" width="7.15" height="18.69" fill="#0060ff"/>
<rect x="1011.79" y="131.31" width="7.15" height="18.69" fill="#0040ff"/>
<rect x="1018.33" y="131.31" width="7.15" height="18.69" fill="#0020ff"/>
<rect x="1024.88" y="131.31" width="7.15" height="18.69" fill="#0010ff"/>
<rect x="1031.42" y="131.31" width="7.15" height="18.69" fill="#0000ff"/>
<rect x="1037.97" y="131.31" width="189.83" height="18.69" fill="#0000ef"/>
<rect x="828.5" y="149.4" width="7.15" height="18.69" fill="#ffef00"/>
<rect x="835.05" y="149.4" width="13.69" height="18.69" fill="#ffff00"/>
<rect x="848.14" y="149.4" width="7.15" height="18.69" fill="#efff10"/>
<rect x="854.68" y="149.4" width="13.69" height="18.69" fill="#dfff20"/>
<rect x="867.78" y="149.4" width="13.69" height="18.69" fill="#cfff30"/>
<rect x="880.87" y="149.4" width="13.69" height="18.69" fill="#bfff40"/>
<rect x="893.96" y="149.4" width="13.69" height="18.69" fill="#afff50"/>
<rect x="907.05" y="149.4" width="20.24" height="18.69" fill="#9fff60"/>
<rect x="926.69" y="149.4" width="13.69" height="18.69" fill="#8fff70"/>
<rect x="939.78" y="149.4" width="7.15" height="18.69" fill="#80ff80"/>
<rect x="946.33" y="149.4" width="13.69" height="18.69" fill="#70ff8f"/>
<rect x="959.42" y="149.4" width="7.15" height="18.69" fill="#60ff9f"/>
<rect x="965.96" y="149.4" width="7.15" height="18.69" fill="#50ffaf"/>
<rect x="972.51" y="149.4" width="7.15" height="18.69" fill="#40ffbf"/>
<rect x="979.06" y="149.4" width="7.15" height="18.69" fill="#20ffdf"/>
<rect x="985.6" y="149.4" width="7.15" height="18.69" fill="#00ffff"/>
<rect x="992.15" y="149.4" width="7.15" height="18.69" fill="#00dfff"/>
<rect x="998.69" y="149.4" width="7.15" height="18.69" fill="#00bfff"/>
<rect x="1005.24" y="149.4" width="7.15" height="18.69" fill="#008fff"/>
<rect x="1011.79" y="149.4" width="7.15" height="18.69" fill="#0070ff"/>
<rect x="1018.33" y="149.4" width="7.15" height="18.69" fill="#0050ff"/>
<rect x="1024.88" y="149.4" width="7.15" height="18.69" fill="#0030ff"/>
<rect x="1031.42" y="149.4" width="7.15" height="18.69" fill="#0020ff"/>
<rect x="1037.97" y="149.4" width="7.15" height="18.69" fill="#0010ff"/>
<rect x="1044.51" y="149.4" width="7.15" height="18.69" fill="#0000ff"/>
<rect x="1051.06" y="149.4" width="176.74" height="18.69" fill="#0000ef"/>
<rect x="828.5" y="167.48" width="13.69" height="18.69" fill="#ffef00"/>
<rect x="841.59" y="167.48" width="7.15" height="18.69" fill="#ffff00"/>
<rect x="848.14" y="167.48" width="13.69" height="18.69" fill="#efff10"/>
<rect x="861.23" y="167.48" width="7.15" height="18.69" fill="#dfff20"/>
<rect x="867.78" y="167.48" width="13.69" height="18.69" fill="#cfff30"/>
<rect x="880.87" y="167.48" width="20.24" height="18.69" fill="#bfff40"/>
<rect x="900.5" y="167.48" width="13.69" height="18.69" fill="#afff50"/>
<rect x="913.6" y="167.48" width="20.24" height="18.69" fill="#9fff60"/>
<rect x="933.23" y="167.48" width="13.69" height="18.69" fill="#8fff70"/>
<rect x="946.33" y="167.48" width="13.69" height="18.69" fill="#80ff80"/>
<rect x="959.42" y="167.48" width="13.69" height="18.69" fill="#70ff8f"/>
<rect x="972.51" y="167.48" width="7.15" height="18.69" fill="#60ff9f"/>
<rect x="979.06" y="167.48" width="7.15" height="18.69" fill="#50ffaf"/>
<rect x="985.6" y="167.48" width="7.15" height="18.69" fill="#30ffcf"/>
<rect x="992.15" y="167.48" width="7.15" height="18.69" fill="#10ffef"/>
<rect x="998.69" y="167.48" width="7.15" height="18.69" fill="#00efff"/>
<rect x="1005.24" y="167.48" width="7.15" height="18.69" fill="#00bfff"/>
<rect x="1011.79" y="167.48" width="7.15" height="18.69" fill="#009fff"/>
<rect x="1018.33" y="167.48" width="7.15" height="18.69" fill="#0080ff"/>
<rect x="1024.88" y="167.48" width="7.15" height="18.69" fill="#0060ff"/>
<rect x="1031.42" y="167.48" width="7.15" height="18.69" fill="#0040ff"/>
<rect x="1037.97" y="167.48" width="13.69" height="18.69" fill="#0020ff"/>
<rect x="1051.06" y="167.48" width="7.15" height="18.69" fill="#0010ff"/>
<rect x="1057.61" y="167.48" width="7.15" height="18.69" fill="#0000ff"/>
<rect x="1064.15" y="167.48" width="163.65" height="18.69" fill="#0000ef"/>
<rect x="828.5" y="185.57" width="13.69" height="18.69" fill="#ffef00"/>
<rect x="841.59" y="185.57" width="7.15" height="18.69" fill="#ffff00"/>
<rect x="848.14" y="185.57" width="13.69" height="18.69" fill="#efff10"/>
<rect x="861.23" y="185.57" width="13.69" height="18.69" fill="#dfff20"/>
<rect x="874.32" y="185.57" width="7.15" height="18.69" fill="#cfff30"/>
<rect x="880.87" y="185.57" width="26.78" height="18.69" fill="#bfff40"/>
<rect x="907.05" y="185.57" width="20.24" height="18.69" fill="#afff50"/>
<rect x="926.69" y="185.57" width="26.78" height="18.69" fill="#9fff60"/>
<rect x="952.87" y="185.57" width="13.69" height="18.69" fill="#8fff70"/>
<rect x="965.96" y="185.57" width="7.15" height="18.69" fill="#80ff80"/>
<rect x="972.51" y="185.57" width="13.69" height="18.69" fill="#70ff8f"/>
<rect x="985.6" y="185.57" width="7.15" height="18.69" fill="#60ff9f"/>
<rect x="992.15" y="185.57" width="7.15" height="18.69" fill="#50ffaf"/>
<rect x="998.69" y="185.57" width="7.15" height="18.69" fill="#30ffcf"/>
<rect x="1005.24" y="185.57" width="7.15" height="18.69" fill="#10ffef"/>
<rect x="1011.79" y="185.57" width="7.15" height="18.69" fill="#00efff"/>
<rect x="1018.33" y="185.57" width="7.15" height="18.69" fill="#00cfff"/>
<rect x="1024.88" y="185.57" width="7.15" height="18.69" fill="#00afff"/>
<rect x="1031.42" y="185.57" width="7.15" height="18.69" fill="#008fff"/>
<rect x="1037.97" y="185.57" width="7.15" height="18.69" fill="#0070ff"/>
<rect x="1044.51" y="185.57" width="7.15" height="18.69" fill="#0040ff"/>
<rect x="1051.06" y="185.57" width="13.69" height="18.69" fill="#0020ff"/>
<rect x="1064.15" y="185.57" width="7.15" height="18.69" fill="#0010ff"/>
<rect x="1070.7" y="185.57" width="7.15" height="18.69" fill="#0000ff"/>
<rect x="1077.24" y="185.57" width="150.56" height="18.69" fill="#0000ef"/>
<rect x="828.5" y="203.65" width="7.15" height="18.69" fill="#ffdf00"/>
<rect x="835.05" y="203.65" width="13.69" height="18.69" fill="#ffef00"/>
<rect x="848.14" y="203.65" width="13.69" height="18.69" fill="#ffff00"/>
<rect x="861.23" y="203.65" width="7.15" height="18.69" fill="#efff10"/>
<rect x="867.78" y="203.65" width="13.69" height="18.69" fill="#dfff20"/>
<rect x="880.87" y="203.65" width="13.69" height="18.69" fill="#cfff30"/>
<rect x="893.96" y="203.65" width="20.24" height="18.69" fill="#bfff40"/>
<rect x="913.6" y="203.65" width="20.24" height="18.69" fill="#afff50"/>
<rect x="933.23" y="203.65" width="33.33" height="18.69" fill="#9fff60"/>
<rect x="965.96" y="203.65" width="7.15" height="18.69" fill="#8fff70"/>
<rect x="972.51" y="203.65" width="13.69" height="18.69" fill="#80ff80"/>
<rect x="985.6" y="203.65" width="7.15" height="18.69" fill="#70ff8f"/>
<rect x="992.15" y="203.65" width="7.15" height="18.69" fill="#60ff9f"/>
<rect x="998.69" y="203.65" width="7.15" height="18.69" fill="#50ffaf"/>
<rect x="1005.24" y="203.65" width="7.15" height="18.69" fill="#40ffbf"/>
<rect x="1011.79" y="203.65" width="7.15" height="18.69" fill="#20ffdf"/>
<rect x="1018.33" y="203.65" width="7.15" height="18.69" fill="#00ffff"/>
<rect x="1024.88" y="203.65" width="7.15" height="18.69" fill="#00dfff"/>
<rect x="1031.42" y="203.65" width="7.15" height="18.69" fill="#00bfff"/>
<rect x="1037.97" y="203.65" width="7.15" height="18.69" fill="#009fff"/>
<rect x="1044.51" y="203.65" width="7.15" height="18.69" fill="#0080ff"/>
<rect x="1051.06" y="203.65" width="7.15" height="18.69" fill="#0060ff"/>
<rect x="1057.61" y="203.65" width="7.15" height="18.69" fill="#0040ff"/>
<rect x="1064.15" y="203.65" width="13.69" height="18.69" fill="#0020ff"/>
<rect x="1077.24" y="203.65" width="7.15" height="18.69" fill="#0010ff"/>
<rect x="1083.79" y="203.65" width="7.15" height="18.69" fill="#0000ff"/>
<rect x="1090.34" y="203.65" width="137.46" height="18.69" fill="#0000ef"/>
<rect x="828.5" y="221.74" width="7.15" height="18.69" fill="#ffdf00"/>
<rect x="835.05" y="221.74" width="13.69" height="18.69" fill="#ffef00"/>
<rect x="848.14" y="221.74" width="13.69" height="18.69" fill="#ffff00"/>
<rect x="861.23" y="221.74" width="7.15" height="18.69" fill="#efff10"/>
<rect x="867.78" y="221.74" width="13.69" height="18.69" fill="#dfff20"/>
<rect x="880.87" y="221.74" width="13.69" height="18.69" fill="#cfff30"/>
<rect x="893.96" y="221.74" width="20.24" height="18.69" fill="#bfff40"/>
<rect x="913.6" y="221.74" width="13.69" height="18.69" fill="#afff50"/>
<rect x="926.69" y="221.74" width="26.78" height="18.69" fill="#9fff60"/>
<rect x="952.87" y="221.74" width="20.24" height="18.69" fill="#8fff70"/>
<rect x="972.51" y="221.74" width="13.69" height="18.69" fill="#80ff80"/>
<rect x="985.6" y="221.74" width="13.69" height="18.69" fill="#70ff8f"/>
<rect x="998.69" y="221.74" width="7.15" height="18.69" fill="#60ff9f"/>
<rect x="1005.24" y="221.74" width="7.15" height="18.69" fill="#50ffaf"/>
<rect x="1011.79" y="221.74" width="7.15" height="18.69" fill="#40ffbf"/>
<rect x="1018.33" y="221.74" width="7.15" height="18.69" fill="#20ffdf"/>
<rect x="1024.88" y="221.74" width="7.15" height="18.69" fill="#10ffef"/>
<rect x="1031.42" y="221.74" width="7.15" height="18.69" fill="#00efff"/>
<rect x="1037.97" y="221.74" width="7.15" height="18.69" fill="#00cfff"/>
<rect x="1044.51" y="221.74" width="7.15" height="18.69" fill="#00bfff"/>
<rect x="1051.06" y="221.74" width="7.15" height="18.69" fill="#009fff"/>
<rect x="1057.61" y="221.74" width="7.15" height="18.69" fill="#0080ff"/>
<rect x="1064.15" y="221.74" width="7.15" height="18.69" fill="#0060ff"/>
<rect x="1070.7" y="221.74" width="7.15" height="18.69" fill="#0050ff"/>
<rect x="1077.24" y="221.74" width="7.15" height="18.69" fill="#0030ff"/>
<rect x="1083.79" y="221.74" width="7.15" height="18.69" fill="#0020ff"/>
<rect x="1090.34" y="221.74" width="7.15" height="18.69" fill="#0010ff"/>
<rect x="1096.88" y="221.74" width="20.24" height="18.69" fill="#0000ff"/>
<rect x="1116.52" y="221.74" width="111.28" height="18.69" fill="#0000ef"/>
<rect x="828.5" y="239.82" width="13.69" height="18.69" fill="#ffdf00"/>
<rect x="841.59" y="239.82" width="7.15" height="18.69" fill="#ffef00"/>
<rect x="848.14" y="239.82" width="13.69" height="18.69" fill="#ffff00"/>
<rect x="861.23" y="239.82" width="7.15" height="18.69" fill="#efff10"/>
<rect x="867.78" y="239.82" width="13.69" height="18.69" fill="#dfff20"/>
<rect x="880.87" y="239.82" width="13.69" height="18.69" fill="#cfff30"/>
<rect x="893.96" y="239.82" width="13.69" height="18.69" fill="#bfff40"/>
<rect x="907.05" y="239.82" width="20.24" height="18.69" fill="#afff50"/>
<rect x="926.69" y="239.82" width="13.69" height="18.69" fill="#9fff60"/>
<rect x="939.78" y="239.82" width="20.24" height="18.69" fill="#8fff70"/>
<rect x="959.42" y="239.82" width="20.24" height="18.69" fill="#80ff80"/>
<rect x="979.06" y="239.82" width="20.24" height="18.69" fill="#70ff8f"/>
<rect x="998.69" y="239.82" width="13.69" height="18.69" fill="#60ff9f"/>
<rect x="1011.79" y="239.82" width="13.69" height="18.69" fill="#50ffaf"/>
<rect x="1024.88" y="239.82" width="7.15" height="18.69" fill="#40ffbf"/>
<rect x="1031.42" y="239.82" width="7.15" height="18.69" fill="#20ffdf"/>
<rect x="1037.97" y="239.82" width="7.15" height="18.69" fill="#10ffef"/>
<rect x="1044.51" y="239.82" width="7.15" height="18.69" fill="#00efff"/>
<rect x="1051.06" y="239.82" width="7.15" height="18.69" fill="#00cfff"/>
<rect x="1057.61" y="239.82" width="7.15" height="18.69" fill="#00afff"/>
<rect x="1064.15" y="239.82" width="7.15" height="18.69" fill="#009fff"/>
<rect x="1070.7" y="239.82" width="7.15" height="18.69" fill="#0080ff"/>
<rect x="1077.24" y="239.82" width="7.15" height="18.69" fill="#0060ff"/>
<rect x="1083.79" y="239.82" width="7.15" height="18.69" fill="#0040ff"/>
<rect x="1090.34" y="239.82" width="7.15" height="18.69" fill="#0030ff"/>
<rect x="1096.88" y="239.82" width="7.15" height="18.69" fill="#0020ff"/>
<rect x="1103.43" y="239.82" width="7.15" height="18.69" fill="#0010ff"/>
<rect x="1109.97" y="239.82" width="7.15" height="18.69" fill="#0000ff"/>
<rect x="1116.52" y="239.82" width="111.28" height="18.69" fill="#0000ef"/>
<rect x="828.5" y="257.91" width="13.69" height="18.69" fill="#ffdf00"/>
<rect x="841.59" y="257.91" width="7.15" height="18.69" fill="#ffef00"/>
<rect x="848.14" y="257.91" width="13.69" height="18.69" fill="#ffff00"/>
<rect x="861.23" y="257.91" width="7.15" height="18.69" fill="#efff10"/>
<rect x="867.78" y="257.91" width="13.69" height="18.69" fill="#dfff20"/>
<rect x="880.87" y="257.91" width="13.69" height="18.69" fill="#cfff30"/>
<rect x="893.96" y="257.91" width="13.69" height="18.69" fill="#bfff40"/>
<rect x="907.05" y="257.91" width="13.69" height="18.69" fill="#afff50"/>
<rect x="920.14" y="257.91" width="13.69" height="18.69" fill="#9fff60"/>
<rect x="933.23" y="257.91" width="20.24" height="18.69" fill="#8fff70"/>
<rect x="952.87" y="257.91" width="13.69" height="18.69" fill="#80ff80"/>
<rect x="965.96" y="257.91" width="20.24" height="18.69" fill="#70ff8f"/>
<rect x="985.6" y="257.91" width="20.24" height="18.69" fill="#60ff9f"/>
<rect x="1005.24" y="257.91" width="13.69" height="18.69" fill="#50ffaf"/>
<rect x="1018.33" y="257.91" width="13.69" height="18.69" fill="#40ffbf"/>
<rect x="1031.42" y="257.91" width="7.15" height="18.69" fill="#30ffcf"/>
<rect x="1037.97" y="257.91" width="7.15" height="18.69" fill="#20ffdf"/>
<rect x="1044.51" y="257.91" width="7.15" height="18.69" fill="#10ffef"/>
<rect x="1051.06" y="257.91" width="7.15" height="18.69" fill="#00ffff"/>
<rect x="1057.61" y="257.91" width="7.15" height="18.69" fill="#00dfff"/>
<rect x="1064.15" y="257.91" width="7.15" height="18.69" fill="#00cfff"/>
<rect x="1070.7" y="257.91" width="7.15" height="18.69" fill="#00afff"/>
<rect x="1077.24" y="257.91" width="7.15" height="18.69" fill="#009fff"/>
<rect x="1083.79" y="257.91" width="7.15" height="18.69" fill="#0080ff"/>
<rect x="1090.34" y="257.91" width="7.15" height="18.69" fill="#0060ff"/>
<rect x="1096.88" y="257.91" width="7.15" height="18.69" fill="#0050ff"/>
<rect x="1103.43" y="257.91" width="7.15" height="18.69" fill="#0040ff"/>
<rect x="1109.97" y="257.91" width="7.15" height="18.69" fill="#0030ff"/>
<rect x="1116.52" y="257.91" width="7.15" height="18.69" fill="#0020ff"/>
<rect x="1123.07" y="257.91" width="13.69" height="18.69" fill="#0010ff"/>
<rect x="1136.16" y="257.91" width="13.69" height="18.69" fill="#0000ff"/>
<rect x="1149.25" y="257.91" width="78.55" height="18.69" fill="#0000ef"/>
<rect x="828.5" y="275.99" width="13.69" height="18.69" fill="#ffdf00"/>
<rect x="841.59" y="275.99" width="13.69" height="18.69" fill="#ffef00"/>
<rect x="854.68" y="275.99" width="7.15" height="18.69" fill="#ffff00"/>
<rect x="861.23" y="275.99" width="7.15" height="18.69" fill="#efff10"/>
<rect x="867.78" y="275.99" width="13.69" height="18.69" fill="#dfff20"/>
<rect x="880.87" y="275.99" width="13.69" height="18.69" fill="#cfff30"/>
<rect x="893.96" y="275.99" width="13.69" height="18.69" fill="#bfff40"/>
<rect x="907.05" y="275.99" width="13.69" height="18.69" fill="#afff50"/>
<rect x="920.14" y="275.99" width="13.69" height="18.69" fill="#9fff60"/>
<rect x="933.23" y="275.99" width="13.69" height="18.69" fill="#8fff70"/>
<rect x="946.33" y="275.99" width="13.69" height="18.69" fill="#80ff80"/>
<rect x="959.42" y="275.99" width="13.69" height="18.69" fill="#70ff8f"/>
<rect x="972.51" y="275.99" width="26.78" height="18.69" fill="#60ff9f"/>
<rect x="998.69" y="275.99" width="13.69" height="18.69" fill="#50ffaf"/>
<rect x="1011.79" y="275.99" width="20.24" height="18.69" fill="#40ffbf"/>
<rect x="1031.42" y="275.99" width="20.24" height="18.69" fill="#30ffcf"/>
<rect x="1051.06" y="275.99" width="7.15" height="18.69" fill="#20ffdf"/>
<rect x="1057.61" y="275.99" width="7.15" height="18.69" fill="#10ffef"/>
<rect x="1064.15" y="275.99" width="7.15" height="18.69" fill="#00ffff"/>
<rect x="1070.7" y="275.99" width="7.15" height="18.69" fill="#00dfff"/>
<rect x="1077.24" y="275.99" width="7.15" height="18.69" fill="#00cfff"/>
<rect x="1083.79" y="275.99" width="7.15" height="18.69" fill="#00bfff"/>
<rect x="1090.34" y="275.99" width="7.15" height="18.69" fill="#009fff"/>
<rect x="1096.88" y="275.99" width="7.15" height="18.69" fill="#008fff"/>
<rect x="1103.43" y="275.99" width="7.15" height="18.69" fill="#0080ff"/>
<rect x="1109.97" y="275.99" width="7.15" height="18.69" fill="#0060ff"/>
<rect x="1116.52" y="275.99" width="7.15" height="18.69" fill="#0050ff"/>
<rect x="1123.07" y="275.99" width="7.15" height="18.69" fill="#0040ff"/>
<rect x="1129.61" y="275.99" width="13.69" height="18.69" fill="#0020ff"/>
<rect x="1142.7" y="275.99" width="7.15" height="18.69" fill="#0010ff"/>
<rect x="1149.25" y="275.99" width="7.15" height="18.69" fill="#0000ff"/>
<rect x="1155.8" y="275.99" width="72" height="18.69" fill="#0000ef"/>
<rect x="828.5" y="294.08" width="7.15" height="18.69" fill="#ffcf00"/>
<rect x="835.05" y="294.08" width="7.15" height="18.69" fill="#ffdf00"/>
<rect x="841.59" y="294.08" width="13.69" height="18.69" fill="#ffef00"/>
<rect x="854.68" y="294.08" width="7.15" height="18.69" fill="#ffff00"/>
<rect x="861.23" y="294.08" width="13.69" height="18.69" fill="#efff10"/>
<rect x="874.32" y="294.08" width="7.15" height="18.69" fill="#dfff20"/>
<rect x="880.87" y="294.08" width="13.69" height="18.69" fill="#cfff30"/>
<rect x="893.96" y="294.08" width="13.69" height="18.69" fill="#bfff40"/>
<rect x="907.05" y="294.08" width="13.69" height="18.69" fill="#afff50"/>
<rect x="920.14" y="294.08" width="13.69" height="18.69" fill="#9fff60"/>
<rect x="933.23" y="294.08" width="7.15" height="18.69" fill="#8fff70"/>
<rect x="939.78" y="294.08" width="13.69" height="18.69" fill="#80ff80"/>
<rect x="952.87" y="294.08" width="7.15" height="18.69" fill="#70ff8f"/>
<rect x="959.42" y="294.08" width="20.24" height="18.69" fill="#60ff9f"/>
<rect x="979.06" y="294.08" width="13.69" height="18.69" fill="#50ffaf"/>
<rect x="992.15" y="294.08" width="13.69" height="18.69" fill="#40ffbf"/>
<rect x="1005.24" y="294.08" width="20.24" height="18.69" fill="#30ffcf"/>
<rect x="1024.88" y="294.08" width="13.69" height="18.69" fill="#20ffdf"/>
<rect x="1037.97" y="294.08" width="26.78" height="18.69" fill="#10ffef"/>
<rect x="1064.15" y="294.08" width="13.69" height="18.69" fill="#00ffff"/>
<rect x="1077.24" y="294.08" width="7.15" height="18.69" fill="#00efff"/>
<rect x="1083.79" y="294.08" width="7.15" height="18.69" fill="#00dfff"/>
<rect x="1090.34" y="294.08" width="7.15" height="18.69" fill="#00cfff"/>
<rect x="1096.88" y="294.08" width="7.15" height="18.69" fill="#00bfff"/>
<rect x="1103.43" y="294.08" width="7.15" height="18.69" fill="#00afff"/>
<rect x="1109.97" y="294.08" width="7.15" height="18.69" fill="#008fff"/>
<rect x="1116.52" y="294.08" width="7.15" height="18.69" fill="#0080ff"/>
<rect x="1123.07" y="294.08" width="7.15" height="18.69" fill="#0070ff"/>
<rect x="1129.61" y="294.08" width="7.15" height="18.69" fill="#0060ff"/>
<rect x="1136.16" y="294.08" width="7.15" height="18.69" fill="#0050ff"/>
<rect x="1142.7" y="294.08" width="7.15" height="18.69" fill="#0040ff"/>
<rect x="1149.25" y="294.08" width="13.69" height="18.69" fill="#0020ff"/>
<rect x="1162.34" y="294.08" width="7.15" height="18.69" fill="#0010ff"/>
<rect x="1168.89" y="294.08" width="7.15" height="18.69" fill="#0000ff"/>
<rect x="1175.43" y="294.08" width="52.37" height="18.69" fill="#0000ef"/>
<rect x="828.5" y="312.16" width="7.15" height="18.69" fill="#ffcf00"/>
<rect x="835.05" y="312.16" width="7.15" height="18.69" fill="#ffdf00"/>
<rect x="841.59" y="312.16" width="13.69" height="18.69" fill="#ffef00"/>
<rect x="854.68" y="312.16" width="7.15" height="18.69" fill="#ffff00"/>
<rect x="861.23" y="312.16" width="13.69" height="18.69" fill="#efff10"/>
<rect x="874.32" y="312.16" width="13.69" height="18.69" fill="#dfff20"/>
<rect x="887.41" y="312.16" width="7.15" height="18.69" fill="#cfff30"/>
<rect x="893.96" y="312.16" width="13.69" height="18.69" fill="#bfff40"/>
<rect x="907.05" y="312.16" width="7.15" height="18.69" fill="#afff50"/>
<rect x="913.6" y="312.16" width="13.69" height="18.69" fill="#9fff60"/>
<rect x="926.69" y="312.16" width="7.15" height="18.69" fill="#8fff70"/>
<rect x="933.23" y="312.16" width="13.69" height="18.69" fill="#80ff80"/>
<rect x="946.33" y="312.16" width="7.15" height="18.69" fill="#70ff8f"/>
<rect x="952.87" y="312.16" width="13.69" height="18.69" fill="#60ff9f"/>
<rect x="965.96" y="312.16" width="20.24" height="18.69" fill="#50ffaf"/>
<rect x="985.6" y="312.16" width="20.24" height="18.69" fill="#40ffbf"/>
<rect x="1005.24" y="312.16" width="20.24" height="18.69" fill="#30ffcf"/>
<rect x="1024.88" y="312.16" width="20.24" height="18.69" fill="#20ffdf"/>
<rect x="1044.51" y="312.16" width="13.69" height="18.69" fill="#10ffef"/>
<rect x="1057.61" y="312.16" width="33.33" height="18.69" fill="#00ffff"/>
<rect x="1090.34" y="312.16" width="7.15" height="18.69" fill="#00efff"/>
<rect x="1096.88" y="312.16" width="7.15" height="18.69" fill="#00dfff"/>
<rect x="1103.43" y="312.16" width="7.15" height="18.69" fill="#00cfff"/>
<rect x="1109.97" y="312.16" width="7.15" height="18.69" fill="#00bfff"/>
<rect x="1116.52" y="312.16" width="7.15" height="18.69" fill="#00afff"/>
<rect x="1123.07" y="312.16" width="7.15" height="18.69" fill="#009fff"/>
<rect x="1129.61" y="312.16" width="7.15" height="18.69" fill="#008fff"/>
<rect x="1136.16" y="312.16" width="7.15" height="18.69" fill="#0080ff"/>
<rect x="1142.7" y="312.16" width="7.15" height="18.69" fill="#0070ff"/>
<rect x="1149.25" y="312.16" width="7.15" height="18.69" fill="#0050ff"/>
<rect x="1155.8" y="312.16" width="7.15" height="18.69" fill="#0040ff"/>
<rect x="1162.34" y="312.16" width="7.15" height="18.69" fill="#0030ff"/>
<rect x="1168.89" y="312.16" width="13.69" height="18.69" fill="#0020ff"/>
<rect x="1181.98" y="312.16" width="7.15" height="18.69" fill="#0010ff"/>
<rect x="1188.52" y="312.16" width="7.15" height="18.69" fill="#0000ff"/>
<rect x="1195.07" y="312.16" width="32.73" height="18.69" fill="#0000ef"/>
<rect x="828.5" y="330.25" width="7.15" height="18.69" fill="#ffcf00"/>
<rect x="835.05" y="330.25" width="13.69" height="18.69" fill="#ffdf00"/>
<rect x="848.14" y="330.25" width="7.15" height="18.69" fill="#ffef00"/>
<rect x="854.68" y="330.25" width="13.69" height="18.69" fill="#ffff00"/>
<rect x="867.78" y="330.25" width="7.15" height="18.69" fill="#efff10"/>
<rect x="874.32" y="330.25" width="13.69" height="18.69" fill="#dfff20"/>
<rect x="887.41" y="330.25" width="7.15" height="18.69" fill="#cfff30"/>
<rect x="893.96" y="330.25" width="13.69" height="18.69" fill="#bfff40"/>
<rect x="907.05" y="330.25" width="7.15" height="18.69" fill="#afff50"/>
<rect x="913.6" y="330.25" width="13.69" height="18.69" fill="#9fff60"/>
<rect x="926.69" y="330.25" width="7.15" height="18.69" fill="#8fff70"/>
<rect x="933.23" y="330.25" width="7.15" height="18.69" fill="#80ff80"/>
<rect x="939.78" y="330.25" width="13.69" height="18.69" fill="#70ff8f"/>
<rect x="952.87" y="330.25" width="7.15" height="18.69" fill="#60ff9f"/>
<rect x="959.42" y="330.25" width="13.69" height="18.69" fill="#50ffaf"/>
<rect x="972.51" y="330.25" width="20.24" height="18.69" fill="#40ffbf"/>
<rect x="992.15" y="330.25" width="13.69" height="18.69" fill="#30ffcf"/>
<rect x="1005.24" y="330.25" width="20.24" height="18.69" fill="#20ffdf"/>
<rect x="1024.88" y="330.25" width="13.69" height="18.69" fill="#10ffef"/>
<rect x="1037.97" y="330.25" width="46.42" height="18.69" fill="#00ffff"/>
<rect x="1083.79" y="330.25" width="26.78" height="18.69" fill="#00efff"/>
<rect x="1109.97" y="330.25" width="7.15" height="18.69" fill="#00dfff"/>
<rect x="1116.52" y="330.25" width="7.15" height="18.69" fill="#00cfff"/>
<rect x="1123.07" y="330.25" width="7.15" height="18.69" fill="#00bfff"/>
<rect x="1129.61" y="330.25" width="7.15" height="18.69" fill="#00afff"/>
<rect x="1136.16" y="330.25" width="7.15" height="18.69" fill="#009fff"/>
<rect x="1142.7" y="330.25" width="7.15" height="18.69" fill="#008fff"/>
<rect x="1149.25" y="330.25" width="7.15" height="18.69" fill="#0080ff"/>
<rect x="1155.8" y="330.25" width="7.15" height="18.69" fill="#0070ff"/>
<rect x="1162.34" y="330.25" width="13.69" height="18.69" fill="#0060ff"/>
<rect x="1175.43" y="330.25" width="7.15" height="18.69" fill="#0050ff"/>
<rect x="1181.98" y="330.25" width="7.15" height="18.69" fill="#0040ff"/>
<rect x="1188.52" y="330.25" width="7.15" height="18.69" fill="#0030ff"/>
<rect x="1195.07" y="330.25" width="7.15" height="18.69" fill="#0020ff"/>
<rect x="1201.62" y="330.25" width="7.15" height="18.69" fill="#0010ff"/>
<rect x="1208.16" y="330.25" width="7.15" height="18.69" fill="#0000ff"/>
<rect x="1214.71" y="330.25" width="13.09" height="18.69" fill="#0000ef"/>
<rect x="828.5" y="348.33" width="7.15" height="18.69" fill="#ffbf00"/>
<rect x="835.05" y="348.33" width="7.15" height="18.69" fill="#ffcf00"/>
<rect x="841.59" y="348.33" width="7.15" height="18.69" fill="#ffdf00"/>
<rect x="848.14" y="348.33" width="7.15" height="18.69" fill="#ffef00"/>
<rect x="854.68" y="348.33" width="13.69" height="18.69" fill="#ffff00"/>
<rect x="867.78" y="348.33" width="7.15" height="18.69" fill="#efff10"/>
<rect x="874.32" y="348.33" width="13.69" height="18.69" fill="#dfff20"/>
<rect x="887.41" y="348.33" width="13.69" height="18.69" fill="#cfff30"/>
<rect x="900.5" y="348.33" width="7.15" height="18.69" fill="#bfff40"/>
<rect x="907.05" y="348.33" width="7.15" height="18.69" fill="#afff50"/>
<rect x="913.6" y="348.33" width="13.69" height="18.69" fill="#9fff60"/>
<rect x="926.69" y="348.33" width="7.15" height="18.69" fill="#8fff70"/>
<rect x="933.23" y="348.33" width="7.15" height="18.69" fill="#80ff80"/>
<rect x="939.78" y="348.33" width="13.69" height="18.69" fill="#70ff8f"/>
<rect x="952.87" y="348.33" width="7.15" height="18.69" fill="#60ff9f"/>
<rect x="959.42" y="348.33" width="13.69" height="18.69" fill="#50ffaf"/>
<rect x="972.51" y="348.33" width="20.24" height="18.69" fill="#40ffbf"/>
<rect x="992.15" y="348.33" width="13.69" height="18.69" fill="#30ffcf"/>
<rect x="1005.24" y="348.33" width="20.24" height="18.69" fill="#20ffdf"/>
<rect x="1024.88" y="348.33" width="13.69" height="18.69" fill="#10ffef"/>
<rect x="1037.97" y="348.33" width="26.78" height="18.69" fill="#00ffff"/>
<rect x="1064.15" y="348.33" width="26.78" height="18.69" fill="#00efff"/>
<rect x="1090.34" y="348.33" width="46.42" height="18.69" fill="#00dfff"/>
<rect x="1136.16" y="348.33" width="7.15" height="18.69" fill="#00cfff"/>
<rect x="1142.7" y="348.33" width="7.15" height="18.69" fill="#00bfff"/>
<rect x="1149.25" y="348.33" width="7.15" height="18.69" fill="#00afff"/>
<rect x="1155.8" y="348.33" width="7.15" height="18.69" fill="#009fff"/>
<rect x="1162.34" y="348.33" width="7.15" height="18.69" fill="#008fff"/>
<rect x="1168.89" y="348.33" width="7.15" height="18.69" fill="#0080ff"/>
<rect x="1175.43" y="348.33" width="7.15" height="18.69" fill="#0070ff"/>
<rect x="1181.98" y="348.33" width="7.15" height="18.69" fill="#0060ff"/>
<rect x="1188.52" y="348.33" width="7.15" height="18.69" fill="#0050ff"/>
<rect x="1195.07" y="348.33" width="7.15" height="18.69" fill="#0030ff"/>
<rect x="1201.62" y="348.33" width="13.69" height="18.69" fill="#0020ff"/>
<rect x="1214.71" y="348.33" width="13.09" height="18.69" fill="#0010ff"/>
<rect x="828.5" y="366.42" width="7.15" height="18.09" fill="#ffbf00"/>
<rect x="835.05" y="366.42" width="7.15" height="18.09" fill="#ffcf00"/>
<rect x="841.59" y="366.42" width="7.15" height="18.09" fill="#ffdf00"/>
<rect x="848.14" y="366.42" width="7.15" height="18.09" fill="#ffef00"/>
<rect x="854.68" y="366.42" width="13.69" height="18.09" fill="#ffff00"/>
<rect x="867.78" y="366.42" width="13.69" height="18.09" fill="#efff10"/>
<rect x="880.87" y="366.42" width="7.15" height="18.09" fill="#dfff20"/>
<rect x="887.41" y="366.42" width="13.69" height="18.09" fill="#cfff30"/>
<rect x="900.5" y="366.42" width="7.15" height="18.09" fill="#bfff40"/>
<rect x="907.05" y="366.42" width="13.69" height="18.09" fill="#afff50"/>
<rect x="920.14" y="366.42" width="7.15" height="18.09" fill="#9fff60"/>
<rect x="926.69" y="366.42" width="7.15" height="18.09" fill="#8fff70"/>
<rect x="933.23" y="366.42" width="7.15" height="18.09" fill="#80ff80"/>
<rect x="939.78" y="366.42" width="7.15" height="18.09" fill="#70ff8f"/>
<rect x="946.33" y="366.42" width="7.15" height="18.09" fill="#60ff9f"/>
<rect x="952.87" y="366.42" width="13.69" height="18.09" fill="#50ffaf"/>
<rect x="965.96" y="366.42" width="13.69" height="18.09" fill="#40ffbf"/>
<rect x="979.06" y="366.42" width="20.24" height="18.09" fill="#30ffcf"/>
<rect x="998.69" y="366.42" width="13.69" height="18.09" fill="#20ffdf"/>
<rect x="1011.79" y="366.42" width="20.24" height="18.09" fill="#10ffef"/>
<rect x="1031.42" y="366.42" width="26.78" height="18.09" fill="#00ffff"/>
<rect x="1057.61" y="366.42" width="26.78" height="18.09" fill="#00efff"/>
<rect x="1083.79" y="366.42" width="39.88" height="18.09" fill="#00dfff"/>
<rect x="1123.07" y="366.42" width="26.78" height="18.09" fill="#00cfff"/>
<rect x="1149.25" y="366.42" width="20.24" height="18.09" fill="#00bfff"/>
<rect x="1168.89" y="366.42" width="7.15" height="18.09" fill="#00afff"/>
<rect x="1175.43" y="366.42" width="7.15" height="18.09" fill="#009fff"/>
<rect x="1181.98" y="366.42" width="7.15" height="18.09" fill="#0080ff"/>
<rect x="1188.52" y="366.42" width="7.15" height="18.09" fill="#0070ff"/>
<rect x="1195.07" y="366.42" width="7.15" height="18.09" fill="#0060ff"/>
<rect x="1201.62" y="366.42" width="7.15" height="18.09" fill="#0040ff"/>
<rect x="1208.16" y="366.42" width="7.15" height="18.09" fill="#0030ff"/>
<rect x="1214.71" y="366.42" width="7.15" height="18.09" fill="#0020ff"/>
<rect x="1221.25" y="366.42" width="6.55" height="18.09" fill="#0010ff"/>
<rect x="955.7" y="77.06" width="7.5" height="18.69" fill="#0000cf"/>
<rect x="963.2" y="77.06" width="1.96" height="18.69" fill="#bf0000"/>
<rect x="965.16" y="77.06" width="2.94" height="18.69" fill="#cf0000"/>
<rect x="968.1" y="77.06" width="7" height="18.69" fill="#df0000"/>
<rect x="955.7" y="95.14" width="13.8" height="18.69" fill="#0000cf"/>
<rect x="969.5" y="95.14" width="4.96" height="18.69" fill="#bf0000"/>
<rect x="974.46" y="95.14" width="7.44" height="18.69" fill="#cf0000"/>
<rect x="981.9" y="95.14" width="7" height="18.69" fill="#df0000"/>
<rect x="962.6" y="113.23" width="13.8" height="18.69" fill="#0000cf"/>
<rect x="976.4" y="113.23" width="7.44" height="18.69" fill="#bf0000"/>
<rect x="983.84" y="113.23" width="11.16" height="18.69" fill="#cf0000"/>
<rect x="995" y="113.23" width="7" height="18.69" fill="#df0000"/>
<rect x="969.5" y="131.31" width="13.1" height="18.69" fill="#0000cf"/>
<rect x="982.6" y="131.31" width="10.24" height="18.69" fill="#bf0000"/>
<rect x="992.84" y="131.31" width="15.36" height="18.69" fill="#cf0000"/>
<rect x="1008.2" y="131.31" width="7" height="18.69" fill="#df0000"/>
<rect x="975.7" y="149.4" width="20.7" height="18.69" fill="#0000cf"/>
<rect x="996.4" y="149.4" width="10.24" height="18.69" fill="#bf0000"/>
<rect x="1006.64" y="149.4" width="15.36" height="18.69" fill="#cf0000"/>
<rect x="1022" y="149.4" width="7" height="18.69" fill="#df0000"/>
<rect x="982.6" y="167.48" width="20.4" height="18.69" fill="#0000cf"/>
<rect x="1003" y="167.48" width="12.88" height="18.69" fill="#bf0000"/>
<rect x="1015.88" y="167.48" width="19.32" height="18.69" fill="#cf0000"/>
<rect x="1035.2" y="167.48" width="7" height="18.69" fill="#df0000"/>
<rect x="995.1" y="185.57" width="20.7" height="18.69" fill="#0000cf"/>
<rect x="1015.8" y="185.57" width="13" height="18.69" fill="#bf0000"/>
<rect x="1028.8" y="185.57" width="19.5" height="18.69" fill="#cf0000"/>
<rect x="1048.3" y="185.57" width="7" height="18.69" fill="#df0000"/>
<rect x="1008.9" y="203.65" width="13.8" height="18.69" fill="#0000cf"/>
<rect x="1022.7" y="203.65" width="15.24" height="18.69" fill="#bf0000"/>
<rect x="1037.94" y="203.65" width="22.86" height="18.69" fill="#cf0000"/>
<rect x="1060.8" y="203.65" width="7" height="18.69" fill="#df0000"/>
<rect x="1015.8" y="221.74" width="20" height="18.69" fill="#0000cf"/>
<rect x="1035.8" y="221.74" width="15.44" height="18.69" fill="#bf0000"/>
<rect x="1051.24" y="221.74" width="23.16" height="18.69" fill="#cf0000"/>
<rect x="1074.4" y="221.74" width="7" height="18.69" fill="#df0000"/>
<rect x="1028.9" y="239.82" width="19.9" height="18.69" fill="#0000cf"/>
<rect x="1048.8" y="239.82" width="15.76" height="18.69" fill="#bf0000"/>
<rect x="1064.56" y="239.82" width="23.64" height="18.69" fill="#cf0000"/>
<rect x="1088.2" y="239.82" width="7" height="18.69" fill="#df0000"/>
<rect x="1042.5" y="257.91" width="19.5" height="18.69" fill="#0000cf"/>
<rect x="1062" y="257.91" width="18.24" height="18.69" fill="#bf0000"/>
<rect x="1080.24" y="257.91" width="27.36" height="18.69" fill="#cf0000"/>
<rect x="1107.6" y="257.91" width="7" height="18.69" fill="#df0000"/>
<rect x="1055.7" y="275.99" width="20" height="18.69" fill="#0000cf"/>
<rect x="1075.7" y="275.99" width="20.52" height="18.69" fill="#bf0000"/>
<rect x="1096.22" y="275.99" width="30.78" height="18.69" fill="#cf0000"/>
<rect x="1127" y="275.99" width="7" height="18.69" fill="#df0000"/>
<rect x="1075.7" y="294.08" width="13.3" height="18.69" fill="#0000cf"/>
<rect x="1089" y="294.08" width="23.32" height="18.69" fill="#bf0000"/>
<rect x="1112.32" y="294.08" width="34.98" height="18.69" fill="#cf0000"/>
<rect x="1147.3" y="294.08" width="7" height="18.69" fill="#df0000"/>
<rect x="1089" y="312.16" width="20" height="18.69" fill="#0000cf"/>
<rect x="1109" y="312.16" width="23.2" height="18.69" fill="#bf0000"/>
<rect x="1132.2" y="312.16" width="34.8" height="18.69" fill="#cf0000"/>
<rect x="1167" y="312.16" width="7" height="18.69" fill="#df0000"/>
<rect x="1109" y="330.25" width="12.5" height="18.69" fill="#0000cf"/>
<rect x="1121.5" y="330.25" width="26.68" height="18.69" fill="#bf0000"/>
<rect x="1148.18" y="330.25" width="40.02" height="18.69" fill="#cf0000"/>
<rect x="1188.2" y="330.25" width="7" height="18.69" fill="#df0000"/>
<rect x="1134.9" y="348.33" width="26.04" height="18.69" fill="#bf0000"/>
<rect x="1160.94" y="348.33" width="39.06" height="18.69" fill="#cf0000"/>
<rect x="1200" y="348.33" width="7" height="18.69" fill="#df0000"/>
<rect x="1168.6" y="366.42" width="16" height="18.09" fill="#bf0000"/>
<rect x="1184.6" y="366.42" width="24" height="18.09" fill="#cf0000"/>
<rect x="1208.6" y="366.42" width="7" height="18.09" fill="#df0000"/>
</g>
<g shape-rendering="crispEdges">
<rect x="106.3" y="501.6" width="13.67" height="18.76" fill="#8f0000"/>
<rect x="119.37" y="501.6" width="26.74" height="18.76" fill="#9f0000"/>
<rect x="145.52" y="501.6" width="13.67" height="18.76" fill="#af0000"/>
<rect x="158.59" y="501.6" width="7.14" height="18.76" fill="#bf0000"/>
<rect x="165.12" y="501.6" width="13.67" height="18.76" fill="#cf0000"/>
<rect x="178.2" y="501.6" width="7.14" height="18.76" fill="#df0000"/>
<rect x="184.73" y="501.6" width="13.67" height="18.76" fill="#ef0000"/>
<rect x="197.8" y="501.6" width="7.14" height="18.76" fill="#ff2000"/>
<rect x="204.34" y="501.6" width="7.14" height="18.76" fill="#ff4000"/>
<rect x="210.88" y="501.6" width="7.14" height="18.76" fill="#ff5000"/>
<rect x="217.41" y="501.6" width="13.67" height="18.76" fill="#ff7000"/>
<rect x="230.49" y="501.6" width="7.14" height="18.76" fill="#ff8000"/>
<rect x="237.02" y="501.6" width="7.14" height="18.76" fill="#ff8f00"/>
<rect x="243.56" y="501.6" width="26.74" height="18.76" fill="#ff9f00"/>
<rect x="269.7" y="501.6" width="13.67" height="18.76" fill="#ffaf00"/>
<rect x="282.77" y="501.6" width="7.14" height="18.76" fill="#ff9f00"/>
<rect x="289.31" y="501.6" width="7.14" height="18.76" fill="#ff8f00"/>
<rect x="295.85" y="501.6" width="39.82" height="18.76" fill="#ff8000"/>
<rect x="335.06" y="501.6" width="150.93" height="18.76" fill="#ff7000"/>
<rect x="485.39" y="501.6" width="19.61" height="18.76" fill="#ff8000"/>
<rect x="106.3" y="519.75" width="13.67" height="18.76" fill="#8f0000"/>
<rect x="119.37" y="519.75" width="26.74" height="18.76" fill="#9f0000"/>
<rect x="145.52" y="519.75" width="13.67" height="18.76" fill="#af0000"/>
<rect x="158.59" y="519.75" width="13.67" height="18.76" fill="#bf0000"/>
<rect x="171.66" y="519.75" width="7.14" height="18.76" fill="#cf0000"/>
<rect x="178.2" y="519.75" width="13.67" height="18.76" fill="#df0000"/>
<rect x="191.27" y="519.75" width="7.14" height="18.76" fill="#ef0000"/>
<rect x="197.8" y="519.75" width="7.14" height="18.76" fill="#ff0000"/>
<rect x="204.34" y="519.75" width="7.14" height="18.76" fill="#ff1000"/>
<rect x="210.88" y="519.75" width="7.14" height="18.76" fill="#ff3000"/>
<rect x="217.41" y="519.75" width="7.14" height="18.76" fill="#ff4000"/>
<rect x="223.95" y="519.75" width="7.14" height="18.76" fill="#ff6000"/>
<rect x="230.49" y="519.75" width="7.14" height="18.76" fill="#ff7000"/>
<rect x="237.02" y="519.75" width="7.14" height="18.76" fill="#ff8000"/>
<rect x="243.56" y="519.75" width="7.14" height="18.76" fill="#ff8f00"/>
<rect x="250.09" y="519.75" width="7.14" height="18.76" fill="#ff9f00"/>
<rect x="256.63" y="519.75" width="13.67" height="18.76" fill="#ffaf00"/>
<rect x="269.7" y="519.75" width="7.14" height="18.76" fill="#ffbf00"/>
<rect x="276.24" y="519.75" width="26.74" height="18.76" fill="#ffcf00"/>
<rect x="302.38" y="519.75" width="85.57" height="18.76" fill="#ffbf00"/>
<rect x="387.35" y="519.75" width="7.14" height="18.76" fill="#ffaf00"/>
<rect x="393.89" y="519.75" width="111.11" height="18.76" fill="#ff9f00"/>
<rect x="106.3" y="537.91" width="13.67" height="18.76" fill="#8f0000"/>
<rect x="119.37" y="537.91" width="26.74" height="18.76" fill="#9f0000"/>
<rect x="145.52" y="537.91" width="13.67" height="18.76" fill="#af0000"/>
<rect x="158.59" y="537.91" width="13.67" height="18.76" fill="#bf0000"/>
<rect x="171.66" y="537.91" width="13.67" height="18.76" fill="#cf0000"/>
<rect x="184.73" y="537.91" width="13.67" height="18.76" fill="#df0000"/>
<rect x="197.8" y="537.91" width="7.14" height="18.76" fill="#ef0000"/>
<rect x="204.34" y="537.91" width="7.14" height="18.76" fill="#ff0000"/>
<rect x="210.88" y="537.91" width="7.14" height="18.76" fill="#ff1000"/>
<rect x="217.41" y="537.91" width="7.14" height="18.76" fill="#ff3000"/>
<rect x="223.95" y="537.91" width="7.14" height="18.76" fill="#ff5000"/>
<rect x="230.49" y="537.91" width="7.14" height="18.76" fill="#ff7000"/>
<rect x="237.02" y="537.91" width="7.14" height="18.76" fill="#ff8f00"/>
<rect x="243.56" y="537.91" width="7.14" height="18.76" fill="#ffaf00"/>
<rect x="250.09" y="537.91" width="7.14" height="18.76" fill="#ffbf00"/>
<rect x="256.63" y="537.91" width="13.67" height="18.76" fill="#ffdf00"/>
<rect x="269.7" y="537.91" width="13.67" height="18.76" fill="#ffef00"/>
<rect x="282.77" y="537.91" width="7.14" height="18.76" fill="#ffff00"/>
<rect x="289.31" y="537.91" width="20.21" height="18.76" fill="#efff10"/>
<rect x="308.92" y="537.91" width="33.28" height="18.76" fill="#dfff20"/>
<rect x="341.6" y="537.91" width="33.28" height="18.76" fill="#efff10"/>
<rect x="374.28" y="537.91" width="20.21" height="18.76" fill="#ffff00"/>
<rect x="393.89" y="537.91" width="13.67" height="18.76" fill="#ffef00"/>
<rect x="406.96" y="537.91" width="46.35" height="18.76" fill="#ffdf00"/>
<rect x="452.71" y="537.91" width="52.29" height="18.76" fill="#ffcf00"/>
<rect x="106.3" y="556.07" width="13.67" height="18.76" fill="#8f0000"/>
<rect x="119.37" y="556.07" width="26.74" height="18.76" fill="#9f0000"/>
<rect x="145.52" y="556.07" width="13.67" height="18.76" fill="#af0000"/>
<rect x="158.59" y="556.07" width="13.67" height="18.76" fill="#bf0000"/>
<rect x="171.66" y="556.07" width="13.67" height="18.76" fill="#cf0000"/>
<rect x="184.73" y="556.07" width="13.67" height="18.76" fill="#df0000"/>
<rect x="197.8" y="556.07" width="13.67" height="18.76" fill="#ef0000"/>
<rect x="210.88" y="556.07" width="7.14" height="18.76" fill="#ff0000"/>
<rect x="217.41" y="556.07" width="7.14" height="18.76" fill="#ff1000"/>
<rect x="223.95" y="556.07" width="7.14" height="18.76" fill="#ff2000"/>
<rect x="230.49" y="556.07" width="7.14" height="18.76" fill="#ff4000"/>
<rect x="237.02" y="556.07" width="7.14" height="18.76" fill="#ff6000"/>
<rect x="243.56" y="556.07" width="7.14" height="18.76" fill="#ff8000"/>
<rect x="250.09" y="556.07" width="7.14" height="18.76" fill="#ff9f00"/>
<rect x="256.63" y="556.07" width="7.14" height="18.76" fill="#ffaf00"/>
<rect x="263.17" y="556.07" width="7.14" height="18.76" fill="#ffcf00"/>
<rect x="269.7" y="556.07" width="7.14" height="18.76" fill="#ffdf00"/>
<rect x="276.24" y="556.07" width="13.67" height="18.76" fill="#ffef00"/>
<rect x="289.31" y="556.07" width="7.14" height="18.76" fill="#ffff00"/>
<rect x="295.85" y="556.07" width="7.14" height="18.76" fill="#efff10"/>
<rect x="302.38" y="556.07" width="7.14" height="18.76" fill="#dfff20"/>
<rect x="308.92" y="556.07" width="7.14" height="18.76" fill="#cfff30"/>
<rect x="315.45" y="556.07" width="33.28" height="18.76" fill="#bfff40"/>
<rect x="348.13" y="556.07" width="72.5" height="18.76" fill="#cfff30"/>
<rect x="420.03" y="556.07" width="20.21" height="18.76" fill="#dfff20"/>
<rect x="439.64" y="556.07" width="13.67" height="18.76" fill="#efff10"/>
<rect x="452.71" y="556.07" width="7.14" height="18.76" fill="#ffff00"/>
<rect x="459.25" y="556.07" width="45.75" height="18.76" fill="#ffef00"/>
<rect x="106.3" y="574.22" width="13.67" height="18.76" fill="#8f0000"/>
<rect x="119.37" y="574.22" width="26.74" height="18.76" fill="#9f0000"/>
<rect x="145.52" y="574.22" width="20.21" height="18.76" fill="#af0000"/>
<rect x="165.12" y="574.22" width="13.67" height="18.76" fill="#bf0000"/>
<rect x="178.2" y="574.22" width="13.67" height="18.76" fill="#cf0000"/>
<rect x="191.27" y="574.22" width="20.21" height="18.76" fill="#df0000"/>
<rect x="210.88" y="574.22" width="13.67" height="18.76" fill="#ef0000"/>
<rect x="223.95" y="574.22" width="7.14" height="18.76" fill="#ff0000"/>
<rect x="230.49" y="574.22" width="7.14" height="18.76" fill="#ff1000"/>
<rect x="237.02" y="574.22" width="7.14" height="18.76" fill="#ff2000"/>
<rect x="243.56" y="574.22" width="7.14" height="18.76" fill="#ff4000"/>
<rect x="250.09" y="574.22" width="7.14" height="18.76" fill="#ff6000"/>
<rect x="256.63" y="574.22" width="7.14" height="18.76" fill="#ff7000"/>
<rect x="263.17" y="574.22" width="7.14" height="18.76" fill="#ff8f00"/>
<rect x="269.7" y="574.22" width="7.14" height="18.76" fill="#ffaf00"/>
<rect x="276.24" y="574.22" width="7.14" height="18.76" fill="#ffcf00"/>
<rect x="282.77" y="574.22" width="7.14" height="18.76" fill="#ffef00"/>
<rect x="289.31" y="574.22" width="7.14" height="18.76" fill="#ffff00"/>
<rect x="295.85" y="574.22" width="7.14" height="18.76" fill="#efff10"/>
<rect x="302.38" y="574.22" width="7.14" height="18.76" fill="#dfff20"/>
<rect x="308.92" y="574.22" width="7.14" height="18.76" fill="#cfff30"/>
<rect x="315.45" y="574.22" width="13.67" height="18.76" fill="#afff50"/>
<rect x="328.53" y="574.22" width="26.74" height="18.76" fill="#9fff60"/>
<rect x="354.67" y="574.22" width="20.21" height="18.76" fill="#8fff70"/>
<rect x="374.28" y="574.22" width="46.35" height="18.76" fill="#9fff60"/>
<rect x="420.03" y="574.22" width="13.67" height="18.76" fill="#afff50"/>
<rect x="433.1" y="574.22" width="13.67" height="18.76" fill="#bfff40"/>
<rect x="446.18" y="574.22" width="20.21" height="18.76" fill="#cfff30"/>
<rect x="465.78" y="574.22" width="26.74" height="18.76" fill="#dfff20"/>
<rect x="491.93" y="574.22" width="13.07" height="18.76" fill="#efff10"/>
<rect x="106.3" y="592.38" width="13.67" height="18.76" fill="#8f0000"/>
<rect x="119.37" y="592.38" width="26.74" height="18.76" fill="#9f0000"/>
<rect x="145.52" y="592.38" width="20.21" height="18.76" fill="#af0000"/>
<rect x="165.12" y="592.38" width="13.67" height="18.76" fill="#bf0000"/>
<rect x="178.2" y="592.38" width="20.21" height="18.76" fill="#cf0000"/>
<rect x="197.8" y="592.38" width="20.21" height="18.76" fill="#df0000"/>
<rect x="217.41" y="592.38" width="13.67" height="18.76" fill="#ef0000"/>
<rect x="230.49" y="592.38" width="7.14" height="18.76" fill="#ff0000"/>
<rect x="237.02" y="592.38" width="7.14" height="18.76" fill="#ff1000"/>
<rect x="243.56" y="592.38" width="7.14" height="18.76" fill="#ff2000"/>
<rect x="250.09" y="592.38" width="7.14" height="18.76" fill="#ff4000"/>
<rect x="256.63" y="592.38" width="7.14" height="18.76" fill="#ff6000"/>
<rect x="263.17" y="592.38" width="7.14" height="18.76" fill="#ff8000"/>
<rect x="269.7" y="592.38" width="7.14" height="18.76" fill="#ff9f00"/>
<rect x="276.24" y="592.38" width="7.14" height="18.76" fill="#ffaf00"/>
<rect x="282.77" y="592.38" width="7.14" height="18.76" fill="#ffcf00"/>
<rect x="289.31" y="592.38" width="7.14" height="18.76" fill="#ffef00"/>
<rect x="295.85" y="592.38" width="7.14" height="18.76" fill="#ffff00"/>
<rect x="302.38" y="592.38" width="13.67" height="18.76" fill="#efff10"/>
<rect x="315.45" y="592.38" width="7.14" height="18.76" fill="#dfff20"/>
<rect x="321.99" y="592.38" width="7.14" height="18.76" fill="#cfff30"/>
<rect x="328.53" y="592.38" width="7.14" height="18.76" fill="#bfff40"/>
<rect x="335.06" y="592.38" width="7.14" height="18.76" fill="#afff50"/>
<rect x="341.6" y="592.38" width="7.14" height="18.76" fill="#9fff60"/>
<rect x="348.13" y="592.38" width="13.67" height="18.76" fill="#8fff70"/>
<rect x="361.21" y="592.38" width="7.14" height="18.76" fill="#80ff80"/>
<rect x="367.74" y="592.38" width="26.74" height="18.76" fill="#70ff8f"/>
<rect x="393.89" y="592.38" width="33.28" height="18.76" fill="#80ff80"/>
<rect x="426.57" y="592.38" width="13.67" height="18.76" fill="#8fff70"/>
<rect x="439.64" y="592.38" width="7.14" height="18.76" fill="#9fff60"/>
<rect x="446.18" y="592.38" width="26.74" height="18.76" fill="#afff50"/>
<rect x="472.32" y="592.38" width="32.68" height="18.76" fill="#bfff40"/>
<rect x="106.3" y="610.53" width="13.67" height="18.76" fill="#8f0000"/>
<rect x="119.37" y="610.53" width="26.74" height="18.76" fill="#9f0000"/>
<rect x="145.52" y="610.53" width="20.21" height="18.76" fill="#af0000"/>
<rect x="165.12" y="610.53" width="20.21" height="18.76" fill="#bf0000"/>
<rect x="184.73" y="610.53" width="20.21" height="18.76" fill="#cf0000"/>
<rect x="204.34" y="610.53" width="20.21" height="18.76" fill="#df0000"/>
<rect x="223.95" y="610.53" width="20.21" height="18.76" fill="#ef0000"/>
<rect x="243.56" y="610.53" width="7.14" height="18.76" fill="#ff0000"/>
<rect x="250.09" y="610.53" width="7.14" height="18.76" fill="#ff4000"/>
<rect x="256.63" y="610.53" width="7.14" height="18.76" fill="#ff6000"/>
<rect x="263.17" y="610.53" width="7.14" height="18.76" fill="#ff8000"/>
<rect x="269.7" y="610.53" width="7.14" height="18.76" fill="#ff8f00"/>
<rect x="276.24" y="610.53" width="7.14" height="18.76" fill="#ff9f00"/>
<rect x="282.77" y="610.53" width="7.14" height="18.76" fill="#ffbf00"/>
<rect x="289.31" y="610.53" width="7.14" height="18.76" fill="#ffcf00"/>
<rect x="295.85" y="610.53" width="7.14" height="18.76" fill="#ffdf00"/>
<rect x="302.38" y="610.53" width="7.14" height="18.76" fill="#ffef00"/>
<rect x="308.92" y="610.53" width="7.14" height="18.76" fill="#ffff00"/>
<rect x="315.45" y="610.53" width="7.14" height="18.76" fill="#dfff20"/>
<rect x="321.99" y="610.53" width="7.14" height="18.76" fill="#cfff30"/>
<rect x="328.53" y="610.53" width="7.14" height="18.76" fill="#bfff40"/>
<rect x="335.06" y="610.53" width="7.14" height="18.76" fill="#afff50"/>
<rect x="341.6" y="610.53" width="13.67" height="18.76" fill="#9fff60"/>
<rect x="354.67" y="610.53" width="7.14" height="18.76" fill="#8fff70"/>
<rect x="361.21" y="610.53" width="7.14" height="18.76" fill="#80ff80"/>
<rect x="367.74" y="610.53" width="20.21" height="18.76" fill="#70ff8f"/>
<rect x="387.35" y="610.53" width="46.35" height="18.76" fill="#60ff9f"/>
<rect x="433.1" y="610.53" width="7.14" height="18.76" fill="#70ff8f"/>
<rect x="439.64" y="610.53" width="13.67" height="18.76" fill="#80ff80"/>
<rect x="452.71" y="610.53" width="13.67" height="18.76" fill="#8fff70"/>
<rect x="465.78" y="610.53" width="13.67" height="18.76" fill="#9fff60"/>
<rect x="478.86" y="610.53" width="26.14" height="18.76" fill="#afff50"/>
<rect x="106.3" y="628.69" width="13.67" height="18.76" fill="#8f0000"/>
<rect x="119.37" y="628.69" width="26.74" height="18.76" fill="#9f0000"/>
<rect x="145.52" y="628.69" width="20.21" height="18.76" fill="#af0000"/>
<rect x="165.12" y="628.69" width="20.21" height="18.76" fill="#bf0000"/>
<rect x="184.73" y="628.69" width="20.21" height="18.76" fill="#cf0000"/>
<rect x="204.34" y="628.69" width="20.21" height="18.76" fill="#df0000"/>
<rect x="223.95" y="628.69" width="20.21" height="18.76" fill="#ef0000"/>
<rect x="243.56" y="628.69" width="7.14" height="18.76" fill="#ff0000"/>
<rect x="250.09" y="628.69" width="7.14" height="18.76" fill="#ff1000"/>
<rect x="256.63" y="628.69" width="7.14" height="18.76" fill="#ff2000"/>
<rect x="263.17" y="628.69" width="7.14" height="18.76" fill="#ff4000"/>
<rect x="269.7" y="628.69" width="7.14" height="18.76" fill="#ff6000"/>
<rect x="276.24" y="628.69" width="7.14" height="18.76" fill="#ff7000"/>
<rect x="282.77" y="628.69" width="7.14" height="18.76" fill="#ff8f00"/>
<rect x="289.31" y="628.69" width="7.14" height="18.76" fill="#ffaf00"/>
<rect x="295.85" y="628.69" width="7.14" height="18.76" fill="#ffbf00"/>
<rect x="302.38" y="628.69" width="7.14" height="18.76" fill="#ffcf00"/>
<rect x="308.92" y="628.69" width="7.14" height="18.76" fill="#ffef00"/>
<rect x="315.45" y="628.69" width="7.14" height="18.76" fill="#ffff00"/>
<rect x="321.99" y="628.69" width="7.14" height="18.76" fill="#efff10"/>
<rect x="328.53" y="628.69" width="7.14" height="18.76" fill="#dfff20"/>
<rect x="335.06" y="628.69" width="7.14" height="18.76" fill="#cfff30"/>
<rect x="341.6" y="628.69" width="13.67" height="18.76" fill="#bfff40"/>
<rect x="354.67" y="628.69" width="7.14" height="18.76" fill="#afff50"/>
<rect x="361.21" y="628.69" width="7.14" height="18.76" fill="#9fff60"/>
<rect x="367.74" y="628.69" width="7.14" height="18.76" fill="#8fff70"/>
<rect x="374.28" y="628.69" width="13.67" height="18.76" fill="#80ff80"/>
<rect x="387.35" y="628.69" width="20.21" height="18.76" fill="#70ff8f"/>
<rect x="406.96" y="628.69" width="26.74" height="18.76" fill="#60ff9f"/>
<rect x="433.1" y="628.69" width="13.67" height="18.76" fill="#70ff8f"/>
<rect x="446.18" y="628.69" width="20.21" height="18.76" fill="#80ff80"/>
<rect x="465.78" y="628.69" width="20.21" height="18.76" fill="#8fff70"/>
<rect x="485.39" y="628.69" width="19.61" height="18.76" fill="#9fff60"/>
<rect x="106.3" y="646.84" width="13.67" height="18.76" fill="#8f0000"/>
<rect x="119.37" y="646.84" width="46.35" height="18.76" fill="#9f0000"/>
<rect x="165.12" y="646.84" width="26.74" height="18.76" fill="#af0000"/>
<rect x="191.27" y="646.84" width="13.67" height="18.76" fill="#bf0000"/>
<rect x="204.34" y="646.84" width="20.21" height="18.76" fill="#cf0000"/>
<rect x="223.95" y="646.84" width="13.67" height="18.76" fill="#df0000"/>
<rect x="237.02" y="646.84" width="20.21" height="18.76" fill="#ef0000"/>
<rect x="256.63" y="646.84" width="7.14" height="18.76" fill="#ff0000"/>
<rect x="263.17" y="646.84" width="7.14" height="18.76" fill="#ff1000"/>
<rect x="269.7" y="646.84" width="7.14" height="18.76" fill="#ff3000"/>
<rect x="276.24" y="646.84" width="7.14" height="18.76" fill="#ff4000"/>
<rect x="282.77" y="646.84" width="7.14" height="18.76" fill="#ff6000"/>
<rect x="289.31" y="646.84" width="7.14" height="18.76" fill="#ff7000"/>
<rect x="295.85" y="646.84" width="7.14" height="18.76" fill="#ff8f00"/>
<rect x="302.38" y="646.84" width="7.14" height="18.76" fill="#ff9f00"/>
<rect x="308.92" y="646.84" width="7.14" height="18.76" fill="#ffaf00"/>
<rect x="315.45" y="646.84" width="7.14" height="18.76" fill="#ffbf00"/>
<rect x="321.99" y="646.84" width="7.14" height="18.76" fill="#ffdf00"/>
<rect x="328.53" y="646.84" width="7.14" height="18.76" fill="#ffef00"/>
<rect x="335.06" y="646.84" width="7.14" height="18.76" fill="#ffff00"/>
<rect x="341.6" y="646.84" width="7.14" height="18.76" fill="#efff10"/>
<rect x="348.13" y="646.84" width="7.14" height="18.76" fill="#cfff30"/>
<rect x="354.67" y="646.84" width="7.14" height="18.76" fill="#bfff40"/>
<rect x="361.21" y="646.84" width="7.14" height="18.76" fill="#afff50"/>
<rect x="367.74" y="646.84" width="13.67" height="18.76" fill="#9fff60"/>
<rect x="380.81" y="646.84" width="7.14" height="18.76" fill="#8fff70"/>
<rect x="387.35" y="646.84" width="13.67" height="18.76" fill="#80ff80"/>
<rect x="400.42" y="646.84" width="46.35" height="18.76" fill="#70ff8f"/>
<rect x="446.18" y="646.84" width="7.14" height="18.76" fill="#80ff80"/>
<rect x="452.71" y="646.84" width="52.29" height="18.76" fill="#8fff70"/>
<rect x="106.3" y="665" width="13.67" height="18.76" fill="#8f0000"/>
<rect x="119.37" y="665" width="46.35" height="18.76" fill="#9f0000"/>
<rect x="165.12" y="665" width="26.74" height="18.76" fill="#af0000"/>
<rect x="191.27" y="665" width="26.74" height="18.76" fill="#bf0000"/>
<rect x="217.41" y="665" width="20.21" height="18.76" fill="#cf0000"/>
<rect x="237.02" y="665" width="20.21" height="18.76" fill="#df0000"/>
<rect x="256.63" y="665" width="26.74" height="18.76" fill="#ef0000"/>
<rect x="282.77" y="665" width="7.14" height="18.76" fill="#ff1000"/>
<rect x="289.31" y="665" width="7.14" height="18.76" fill="#ff3000"/>
<rect x="295.85" y="665" width="7.14" height="18.76" fill="#ff5000"/>
<rect x="302.38" y="665" width="7.14" height="18.76" fill="#ff6000"/>
<rect x="308.92" y="665" width="7.14" height="18.76" fill="#ff7000"/>
<rect x="315.45" y="665" width="7.14" height="18.76" fill="#ff8000"/>
<rect x="321.99" y="665" width="7.14" height="18.76" fill="#ff8f00"/>
<rect x="328.53" y="665" width="7.14" height="18.76" fill="#ff9f00"/>
<rect x="335.06" y="665" width="7.14" height="18.76" fill="#ffbf00"/>
<rect x="341.6" y="665" width="7.14" height="18.76" fill="#ffcf00"/>
<rect x="348.13" y="665" width="7.14" height="18.76" fill="#ffdf00"/>
<rect x="354.67" y="665" width="7.14" height="18.76" fill="#ffff00"/>
<rect x="361.21" y="665" width="7.14" height="18.76" fill="#efff10"/>
<rect x="367.74" y="665" width="7.14" height="18.76" fill="#dfff20"/>
<rect x="374.28" y="665" width="13.67" height="18.76" fill="#cfff30"/>
<rect x="387.35" y="665" width="7.14" height="18.76" fill="#bfff40"/>
<rect x="393.89" y="665" width="7.14" height="18.76" fill="#afff50"/>
<rect x="400.42" y="665" width="13.67" height="18.76" fill="#9fff60"/>
<rect x="413.5" y="665" width="65.96" height="18.76" fill="#8fff70"/>
<rect x="478.86" y="665" width="26.14" height="18.76" fill="#9fff60"/>
<rect x="106.3" y="683.15" width="13.67" height="18.76" fill="#8f0000"/>
<rect x="119.37" y="683.15" width="46.35" height="18.76" fill="#9f0000"/>
<rect x="165.12" y="683.15" width="33.28" height="18.76" fill="#af0000"/>
<rect x="197.8" y="683.15" width="26.74" height="18.76" fill="#bf0000"/>
<rect x="223.95" y="683.15" width="26.74" height="18.76" fill="#cf0000"/>
<rect x="250.09" y="683.15" width="20.21" height="18.76" fill="#df0000"/>
<rect x="269.7" y="683.15" width="20.21" height="18.76" fill="#ef0000"/>
<rect x="289.31" y="683.15" width="7.14" height="18.76" fill="#ff0000"/>
<rect x="295.85" y="683.15" width="7.14" height="18.76" fill="#ff1000"/>
<rect x="302.38" y="683.15" width="7.14" height="18.76" fill="#ff2000"/>
<rect x="308.92" y="683.15" width="13.67" height="18.76" fill="#ff3000"/>
<rect x="321.99" y="683.15" width="7.14" height="18.76" fill="#ff4000"/>
<rect x="328.53" y="683.15" width="7.14" height="18.76" fill="#ff5000"/>
<rect x="335.06" y="683.15" width="7.14" height="18.76" fill="#ff6000"/>
<rect x="341.6" y="683.15" width="7.14" height="18.76" fill="#ff7000"/>
<rect x="348.13" y="683.15" width="7.14" height="18.76" fill="#ff8000"/>
<rect x="354.67" y="683.15" width="7.14" height="18.76" fill="#ff9f00"/>
<rect x="361.21" y="683.15" width="7.14" height="18.76" fill="#ffaf00"/>
<rect x="367.74" y="683.15" width="7.14" height="18.76" fill="#ffbf00"/>
<rect x="374.28" y="683.15" width="7.14" height="18.76" fill="#ffdf00"/>
<rect x="380.81" y="683.15" width="7.14" height="18.76" fill="#ffff00"/>
<rect x="387.35" y="683.15" width="20.21" height="18.76" fill="#efff10"/>
<rect x="406.96" y="683.15" width="13.67" height="18.76" fill="#dfff20"/>
<rect x="420.03" y="683.15" width="26.74" height="18.76" fill="#cfff30"/>
<rect x="446.18" y="683.15" width="58.82" height="18.76" fill="#bfff40"/>
<rect x="106.3" y="701.31" width="13.67" height="18.76" fill="#8f0000"/>
<rect x="119.37" y="701.31" width="46.35" height="18.76" fill="#9f0000"/>
<rect x="165.12" y="701.31" width="33.28" height="18.76" fill="#af0000"/>
<rect x="197.8" y="701.31" width="26.74" height="18.76" fill="#bf0000"/>
<rect x="223.95" y="701.31" width="26.74" height="18.76" fill="#cf0000"/>
<rect x="250.09" y="701.31" width="26.74" height="18.76" fill="#df0000"/>
<rect x="276.24" y="701.31" width="26.74" height="18.76" fill="#ef0000"/>
<rect x="302.38" y="701.31" width="13.67" height="18.76" fill="#ff0000"/>
<rect x="315.45" y="701.31" width="13.67" height="18.76" fill="#ff1000"/>
<rect x="328.53" y="701.31" width="13.67" height="18.76" fill="#ff2000"/>
<rect x="341.6" y="701.31" width="7.14" height="18.76" fill="#ff3000"/>
<rect x="348.13" y="701.31" width="7.14" height="18.76" fill="#ff4000"/>
<rect x="354.67" y="701.31" width="7.14" height="18.76" fill="#ff5000"/>
<rect x="361.21" y="701.31" width="7.14" height="18.76" fill="#ff6000"/>
<rect x="367.74" y="701.31" width="7.14" height="18.76" fill="#ff7000"/>
<rect x="374.28" y="701.31" width="7.14" height="18.76" fill="#ff8000"/>
<rect x="380.81" y="701.31" width="7.14" height="18.76" fill="#ff9f00"/>
<rect x="387.35" y="701.31" width="7.14" height="18.76" fill="#ffaf00"/>
<rect x="393.89" y="701.31" width="7.14" height="18.76" fill="#ffbf00"/>
<rect x="400.42" y="701.31" width="7.14" height="18.76" fill="#ffcf00"/>
<rect x="406.96" y="701.31" width="7.14" height="18.76" fill="#ffdf00"/>
<rect x="413.5" y="701.31" width="13.67" height="18.76" fill="#ffef00"/>
<rect x="426.57" y="701.31" width="20.21" height="18.76" fill="#ffff00"/>
<rect x="446.18" y="701.31" width="58.82" height="18.76" fill="#efff10"/>
<rect x="106.3" y="719.46" width="13.67" height="18.76" fill="#8f0000"/>
<rect x="119.37" y="719.46" width="46.35" height="18.76" fill="#9f0000"/>
<rect x="165.12" y="719.46" width="33.28" height="18.76" fill="#af0000"/>
<rect x="197.8" y="719.46" width="26.74" height="18.76" fill="#bf0000"/>
<rect x="223.95" y="719.46" width="33.28" height="18.76" fill="#cf0000"/>
<rect x="256.63" y="719.46" width="26.74" height="18.76" fill="#df0000"/>
<rect x="282.77" y="719.46" width="26.74" height="18.76" fill="#ef0000"/>
<rect x="308.92" y="719.46" width="13.67" height="18.76" fill="#ff0000"/>
<rect x="321.99" y="719.46" width="7.14" height="18.76" fill="#ff1000"/>
<rect x="328.53" y="719.46" width="20.21" height="18.76" fill="#ff2000"/>
<rect x="348.13" y="719.46" width="33.28" height="18.76" fill="#ff3000"/>
<rect x="380.81" y="719.46" width="20.21" height="18.76" fill="#ff4000"/>
<rect x="400.42" y="719.46" width="7.14" height="18.76" fill="#ff5000"/>
<rect x="406.96" y="719.46" width="13.67" height="18.76" fill="#ff6000"/>
<rect x="420.03" y="719.46" width="7.14" height="18.76" fill="#ff7000"/>
<rect x="426.57" y="719.46" width="7.14" height="18.76" fill="#ff8f00"/>
<rect x="433.1" y="719.46" width="7.14" height="18.76" fill="#ff9f00"/>
<rect x="439.64" y="719.46" width="7.14" height="18.76" fill="#ffaf00"/>
<rect x="446.18" y="719.46" width="46.35" height="18.76" fill="#ffbf00"/>
<rect x="491.93" y="719.46" width="13.07" height="18.76" fill="#ffcf00"/>
<rect x="106.3" y="737.62" width="13.67" height="18.76" fill="#8f0000"/>
<rect x="119.37" y="737.62" width="46.35" height="18.76" fill="#9f0000"/>
<rect x="165.12" y="737.62" width="33.28" height="18.76" fill="#af0000"/>
<rect x="197.8" y="737.62" width="26.74" height="18.76" fill="#bf0000"/>
<rect x="223.95" y="737.62" width="33.28" height="18.76" fill="#cf0000"/>
<rect x="256.63" y="737.62" width="20.21" height="18.76" fill="#df0000"/>
<rect x="276.24" y="737.62" width="13.67" height="18.76" fill="#ef0000"/>
<rect x="289.31" y="737.62" width="20.21" height="18.76" fill="#ff0000"/>
<rect x="308.92" y="737.62" width="13.67" height="18.76" fill="#ff1000"/>
<rect x="321.99" y="737.62" width="13.67" height="18.76" fill="#ff2000"/>
<rect x="335.06" y="737.62" width="26.74" height="18.76" fill="#ff3000"/>
<rect x="361.21" y="737.62" width="26.74" height="18.76" fill="#ff4000"/>
<rect x="387.35" y="737.62" width="20.21" height="18.76" fill="#ff5000"/>
<rect x="406.96" y="737.62" width="13.67" height="18.76" fill="#ff6000"/>
<rect x="420.03" y="737.62" width="13.67" height="18.76" fill="#ff7000"/>
<rect x="433.1" y="737.62" width="13.67" height="18.76" fill="#ff8000"/>
<rect x="446.18" y="737.62" width="46.35" height="18.76" fill="#ff8f00"/>
<rect x="491.93" y="737.62" width="13.07" height="18.76" fill="#ff9f00"/>
<rect x="106.3" y="755.77" width="13.67" height="18.76" fill="#8f0000"/>
<rect x="119.37" y="755.77" width="46.35" height="18.76" fill="#9f0000"/>
<rect x="165.12" y="755.77" width="33.28" height="18.76" fill="#af0000"/>
<rect x="197.8" y="755.77" width="26.74" height="18.76" fill="#bf0000"/>
<rect x="223.95" y="755.77" width="33.28" height="18.76" fill="#cf0000"/>
<rect x="256.63" y="755.77" width="20.21" height="18.76" fill="#df0000"/>
<rect x="276.24" y="755.77" width="13.67" height="18.76" fill="#ef0000"/>
<rect x="289.31" y="755.77" width="20.21" height="18.76" fill="#ff0000"/>
<rect x="308.92" y="755.77" width="33.28" height="18.76" fill="#ff1000"/>
<rect x="341.6" y="755.77" width="26.74" height="18.76" fill="#ff2000"/>
<rect x="367.74" y="755.77" width="26.74" height="18.76" fill="#ff3000"/>
<rect x="393.89" y="755.77" width="26.74" height="18.76" fill="#ff4000"/>
<rect x="420.03" y="755.77" width="39.82" height="18.76" fill="#ff5000"/>
<rect x="459.25" y="755.77" width="45.75" height="18.76" fill="#ff6000"/>
<rect x="106.3" y="773.93" width="13.67" height="18.76" fill="#8f0000"/>
<rect x="119.37" y="773.93" width="46.35" height="18.76" fill="#9f0000"/>
<rect x="165.12" y="773.93" width="33.28" height="18.76" fill="#af0000"/>
<rect x="197.8" y="773.93" width="26.74" height="18.76" fill="#bf0000"/>
<rect x="223.95" y="773.93" width="33.28" height="18.76" fill="#cf0000"/>
<rect x="256.63" y="773.93" width="26.74" height="18.76" fill="#df0000"/>
<rect x="282.77" y="773.93" width="20.21" height="18.76" fill="#ef0000"/>
<rect x="302.38" y="773.93" width="13.67" height="18.76" fill="#ff0000"/>
<rect x="315.45" y="773.93" width="26.74" height="18.76" fill="#ff1000"/>
<rect x="341.6" y="773.93" width="79.03" height="18.76" fill="#ff2000"/>
<rect x="420.03" y="773.93" width="39.82" height="18.76" fill="#ff3000"/>
<rect x="459.25" y="773.93" width="45.75" height="18.76" fill="#ff4000"/>
<rect x="106.3" y="792.08" width="13.67" height="18.76" fill="#8f0000"/>
<rect x="119.37" y="792.08" width="46.35" height="18.76" fill="#9f0000"/>
<rect x="165.12" y="792.08" width="33.28" height="18.76" fill="#af0000"/>
<rect x="197.8" y="792.08" width="26.74" height="18.76" fill="#bf0000"/>
<rect x="223.95" y="792.08" width="33.28" height="18.76" fill="#cf0000"/>
<rect x="256.63" y="792.08" width="39.82" height="18.76" fill="#df0000"/>
<rect x="295.85" y="792.08" width="46.35" height="18.76" fill="#ef0000"/>
<rect x="341.6" y="792.08" width="20.21" height="18.76" fill="#ff0000"/>
<rect x="361.21" y="792.08" width="33.28" height="18.76" fill="#ff1000"/>
<rect x="393.89" y="792.08" width="65.96" height="18.76" fill="#ff2000"/>
<rect x="459.25" y="792.08" width="45.75" height="18.76" fill="#ff3000"/>
<rect x="106.3" y="810.24" width="13.67" height="18.76" fill="#8f0000"/>
<rect x="119.37" y="810.24" width="46.35" height="18.76" fill="#9f0000"/>
<rect x="165.12" y="810.24" width="33.28" height="18.76" fill="#af0000"/>
<rect x="197.8" y="810.24" width="26.74" height="18.76" fill="#bf0000"/>
<rect x="223.95" y="810.24" width="33.28" height="18.76" fill="#cf0000"/>
<rect x="256.63" y="810.24" width="46.35" height="18.76" fill="#df0000"/>
<rect x="302.38" y="810.24" width="59.42" height="18.76" fill="#ef0000"/>
<rect x="361.21" y="810.24" width="26.74" height="18.76" fill="#ff0000"/>
<rect x="387.35" y="810.24" width="7.14" height="18.76" fill="#ff1000"/>
<rect x="393.89" y="810.24" width="111.11" height="18.76" fill="#ff2000"/>
<rect x="106.3" y="828.39" width="13.67" height="18.76" fill="#8f0000"/>
<rect x="119.37" y="828.39" width="46.35" height="18.76" fill="#9f0000"/>
<rect x="165.12" y="828.39" width="33.28" height="18.76" fill="#af0000"/>
<rect x="197.8" y="828.39" width="26.74" height="18.76" fill="#bf0000"/>
<rect x="223.95" y="828.39" width="33.28" height="18.76" fill="#cf0000"/>
<rect x="256.63" y="828.39" width="46.35" height="18.76" fill="#df0000"/>
<rect x="302.38" y="828.39" width="59.42" height="18.76" fill="#ef0000"/>
<rect x="361.21" y="828.39" width="13.67" height="18.76" fill="#ff0000"/>
<rect x="374.28" y="828.39" width="46.35" height="18.76" fill="#ff1000"/>
<rect x="420.03" y="828.39" width="84.97" height="18.76" fill="#ff2000"/>
<rect x="106.3" y="846.55" width="13.67" height="18.16" fill="#8f0000"/>
<rect x="119.37" y="846.55" width="46.35" height="18.16" fill="#9f0000"/>
<rect x="165.12" y="846.55" width="33.28" height="18.16" fill="#af0000"/>
<rect x="197.8" y="846.55" width="26.74" height="18.16" fill="#bf0000"/>
<rect x="223.95" y="846.55" width="33.28" height="18.16" fill="#cf0000"/>
<rect x="256.63" y="846.55" width="72.5" height="18.16" fill="#df0000"/>
<rect x="328.53" y="846.55" width="7.14" height="18.16" fill="#ef0000"/>
<rect x="335.06" y="846.55" width="59.42" height="18.16" fill="#ff0000"/>
<rect x="393.89" y="846.55" width="52.89" height="18.16" fill="#ff1000"/>
<rect x="446.18" y="846.55" width="58.82" height="18.16" fill="#ff2000"/>
</g>
<g shape-rendering="crispEdges">
<rect x="811.7" y="508.1" width="7.13" height="18.71" fill="#bf0000"/>
<rect x="818.23" y="508.1" width="7.13" height="18.71" fill="#df0000"/>
<rect x="824.76" y="508.1" width="13.66" height="18.71" fill="#ef0000"/>
<rect x="837.82" y="508.1" width="7.13" height="18.71" fill="#ff4000"/>
<rect x="844.35" y="508.1" width="7.13" height="18.71" fill="#ff9f00"/>
<rect x="850.88" y="508.1" width="7.13" height="18.71" fill="#ffff00"/>
<rect x="857.41" y="508.1" width="7.13" height="18.71" fill="#cfff30"/>
<rect x="863.94" y="508.1" width="7.13" height="18.71" fill="#9fff60"/>
<rect x="870.47" y="508.1" width="7.13" height="18.71" fill="#80ff80"/>
<rect x="877" y="508.1" width="72.42" height="18.71" fill="#60ff9f"/>
<rect x="948.82" y="508.1" width="13.66" height="18.71" fill="#70ff8f"/>
<rect x="961.88" y="508.1" width="20.19" height="18.71" fill="#80ff80"/>
<rect x="981.47" y="508.1" width="13.66" height="18.71" fill="#8fff70"/>
<rect x="994.53" y="508.1" width="13.66" height="18.71" fill="#9fff60"/>
<rect x="1007.59" y="508.1" width="7.13" height="18.71" fill="#afff50"/>
<rect x="1014.11" y="508.1" width="7.13" height="18.71" fill="#bfff40"/>
<rect x="1020.64" y="508.1" width="7.13" height="18.71" fill="#cfff30"/>
<rect x="1027.17" y="508.1" width="26.72" height="18.71" fill="#dfff20"/>
<rect x="1053.29" y="508.1" width="7.13" height="18.71" fill="#efff10"/>
<rect x="1059.82" y="508.1" width="7.13" height="18.71" fill="#ffff00"/>
<rect x="1066.35" y="508.1" width="7.13" height="18.71" fill="#ffef00"/>
<rect x="1072.88" y="508.1" width="7.13" height="18.71" fill="#ffdf00"/>
<rect x="1079.41" y="508.1" width="39.78" height="18.71" fill="#ffcf00"/>
<rect x="1118.59" y="508.1" width="7.13" height="18.71" fill="#ffdf00"/>
<rect x="1125.12" y="508.1" width="13.66" height="18.71" fill="#ffff00"/>
<rect x="1138.18" y="508.1" width="20.19" height="18.71" fill="#efff10"/>
<rect x="1157.76" y="508.1" width="20.19" height="18.71" fill="#dfff20"/>
<rect x="1177.35" y="508.1" width="26.72" height="18.71" fill="#cfff30"/>
<rect x="1203.47" y="508.1" width="6.53" height="18.71" fill="#bfff40"/>
<rect x="811.7" y="526.21" width="13.66" height="18.71" fill="#bf0000"/>
<rect x="824.76" y="526.21" width="13.66" height="18.71" fill="#ef0000"/>
<rect x="837.82" y="526.21" width="7.13" height="18.71" fill="#ff2000"/>
<rect x="844.35" y="526.21" width="7.13" height="18.71" fill="#ff6000"/>
<rect x="850.88" y="526.21" width="7.13" height="18.71" fill="#ffaf00"/>
<rect x="857.41" y="526.21" width="7.13" height="18.71" fill="#ffef00"/>
<rect x="863.94" y="526.21" width="7.13" height="18.71" fill="#bfff40"/>
<rect x="870.47" y="526.21" width="7.13" height="18.71" fill="#8fff70"/>
<rect x="877" y="526.21" width="7.13" height="18.71" fill="#50ffaf"/>
<rect x="883.52" y="526.21" width="7.13" height="18.71" fill="#30ffcf"/>
<rect x="890.05" y="526.21" width="7.13" height="18.71" fill="#10ffef"/>
<rect x="896.58" y="526.21" width="105.07" height="18.71" fill="#00ffff"/>
<rect x="1001.06" y="526.21" width="7.13" height="18.71" fill="#10ffef"/>
<rect x="1007.59" y="526.21" width="7.13" height="18.71" fill="#30ffcf"/>
<rect x="1014.11" y="526.21" width="7.13" height="18.71" fill="#40ffbf"/>
<rect x="1020.64" y="526.21" width="7.13" height="18.71" fill="#50ffaf"/>
<rect x="1027.17" y="526.21" width="7.13" height="18.71" fill="#70ff8f"/>
<rect x="1033.7" y="526.21" width="7.13" height="18.71" fill="#80ff80"/>
<rect x="1040.23" y="526.21" width="7.13" height="18.71" fill="#8fff70"/>
<rect x="1046.76" y="526.21" width="7.13" height="18.71" fill="#afff50"/>
<rect x="1053.29" y="526.21" width="7.13" height="18.71" fill="#bfff40"/>
<rect x="1059.82" y="526.21" width="26.72" height="18.71" fill="#cfff30"/>
<rect x="1085.94" y="526.21" width="52.84" height="18.71" fill="#dfff20"/>
<rect x="1138.18" y="526.21" width="13.66" height="18.71" fill="#cfff30"/>
<rect x="1151.23" y="526.21" width="13.66" height="18.71" fill="#bfff40"/>
<rect x="1164.29" y="526.21" width="20.19" height="18.71" fill="#afff50"/>
<rect x="1183.88" y="526.21" width="20.19" height="18.71" fill="#9fff60"/>
<rect x="1203.47" y="526.21" width="6.53" height="18.71" fill="#8fff70"/>
<rect x="811.7" y="544.32" width="13.66" height="18.71" fill="#bf0000"/>
<rect x="824.76" y="544.32" width="7.13" height="18.71" fill="#cf0000"/>
<rect x="831.29" y="544.32" width="7.13" height="18.71" fill="#df0000"/>
<rect x="837.82" y="544.32" width="7.13" height="18.71" fill="#ef0000"/>
<rect x="844.35" y="544.32" width="7.13" height="18.71" fill="#ff0000"/>
<rect x="850.88" y="544.32" width="7.13" height="18.71" fill="#ff6000"/>
<rect x="857.41" y="544.32" width="7.13" height="18.71" fill="#ffbf00"/>
<rect x="863.94" y="544.32" width="7.13" height="18.71" fill="#efff10"/>
<rect x="870.47" y="544.32" width="7.13" height="18.71" fill="#afff50"/>
<rect x="877" y="544.32" width="7.13" height="18.71" fill="#60ff9f"/>
<rect x="883.52" y="544.32" width="7.13" height="18.71" fill="#30ffcf"/>
<rect x="890.05" y="544.32" width="7.13" height="18.71" fill="#00ffff"/>
<rect x="896.58" y="544.32" width="7.13" height="18.71" fill="#00efff"/>
<rect x="903.11" y="544.32" width="7.13" height="18.71" fill="#00dfff"/>
<rect x="909.64" y="544.32" width="7.13" height="18.71" fill="#00cfff"/>
<rect x="916.17" y="544.32" width="7.13" height="18.71" fill="#00bfff"/>
<rect x="922.7" y="544.32" width="7.13" height="18.71" fill="#00afff"/>
<rect x="929.23" y="544.32" width="13.66" height="18.71" fill="#009fff"/>
<rect x="942.29" y="544.32" width="13.66" height="18.71" fill="#00afff"/>
<rect x="955.35" y="544.32" width="20.19" height="18.71" fill="#00bfff"/>
<rect x="974.94" y="544.32" width="13.66" height="18.71" fill="#00cfff"/>
<rect x="988" y="544.32" width="13.66" height="18.71" fill="#00dfff"/>
<rect x="1001.06" y="544.32" width="13.66" height="18.71" fill="#00efff"/>
<rect x="1014.11" y="544.32" width="13.66" height="18.71" fill="#00ffff"/>
<rect x="1027.17" y="544.32" width="7.13" height="18.71" fill="#10ffef"/>
<rect x="1033.7" y="544.32" width="7.13" height="18.71" fill="#20ffdf"/>
<rect x="1040.23" y="544.32" width="7.13" height="18.71" fill="#30ffcf"/>
<rect x="1046.76" y="544.32" width="7.13" height="18.71" fill="#50ffaf"/>
<rect x="1053.29" y="544.32" width="7.13" height="18.71" fill="#60ff9f"/>
<rect x="1059.82" y="544.32" width="7.13" height="18.71" fill="#70ff8f"/>
<rect x="1066.35" y="544.32" width="7.13" height="18.71" fill="#80ff80"/>
<rect x="1072.88" y="544.32" width="7.13" height="18.71" fill="#8fff70"/>
<rect x="1079.41" y="544.32" width="85.48" height="18.71" fill="#9fff60"/>
<rect x="1164.29" y="544.32" width="13.66" height="18.71" fill="#8fff70"/>
<rect x="1177.35" y="544.32" width="20.19" height="18.71" fill="#80ff80"/>
<rect x="1196.94" y="544.32" width="13.06" height="18.71" fill="#70ff8f"/>
<rect x="811.7" y="562.43" width="13.66" height="18.71" fill="#bf0000"/>
<rect x="824.76" y="562.43" width="7.13" height="18.71" fill="#cf0000"/>
<rect x="831.29" y="562.43" width="7.13" height="18.71" fill="#df0000"/>
<rect x="837.82" y="562.43" width="13.66" height="18.71" fill="#ef0000"/>
<rect x="850.88" y="562.43" width="7.13" height="18.71" fill="#ff3000"/>
<rect x="857.41" y="562.43" width="7.13" height="18.71" fill="#ff8f00"/>
<rect x="863.94" y="562.43" width="7.13" height="18.71" fill="#ffcf00"/>
<rect x="870.47" y="562.43" width="7.13" height="18.71" fill="#efff10"/>
<rect x="877" y="562.43" width="7.13" height="18.71" fill="#afff50"/>
<rect x="883.52" y="562.43" width="7.13" height="18.71" fill="#70ff8f"/>
<rect x="890.05" y="562.43" width="7.13" height="18.71" fill="#30ffcf"/>
<rect x="896.58" y="562.43" width="7.13" height="18.71" fill="#10ffef"/>
<rect x="903.11" y="562.43" width="7.13" height="18.71" fill="#00dfff"/>
<rect x="909.64" y="562.43" width="7.13" height="18.71" fill="#00bfff"/>
<rect x="916.17" y="562.43" width="7.13" height="18.71" fill="#009fff"/>
<rect x="922.7" y="562.43" width="7.13" height="18.71" fill="#0080ff"/>
<rect x="929.23" y="562.43" width="52.84" height="18.71" fill="#0070ff"/>
<rect x="981.47" y="562.43" width="20.19" height="18.71" fill="#0080ff"/>
<rect x="1001.06" y="562.43" width="13.66" height="18.71" fill="#008fff"/>
<rect x="1014.11" y="562.43" width="20.19" height="18.71" fill="#009fff"/>
<rect x="1033.7" y="562.43" width="13.66" height="18.71" fill="#00afff"/>
<rect x="1046.76" y="562.43" width="13.66" height="18.71" fill="#00bfff"/>
<rect x="1059.82" y="562.43" width="20.19" height="18.71" fill="#00cfff"/>
<rect x="1079.41" y="562.43" width="130.59" height="18.71" fill="#00dfff"/>
<rect x="811.7" y="580.54" width="13.66" height="18.71" fill="#bf0000"/>
<rect x="824.76" y="580.54" width="7.13" height="18.71" fill="#cf0000"/>
<rect x="831.29" y="580.54" width="13.66" height="18.71" fill="#df0000"/>
<rect x="844.35" y="580.54" width="7.13" height="18.71" fill="#ef0000"/>
<rect x="850.88" y="580.54" width="7.13" height="18.71" fill="#ff1000"/>
<rect x="857.41" y="580.54" width="7.13" height="18.71" fill="#ff4000"/>
<rect x="863.94" y="580.54" width="7.13" height="18.71" fill="#ff8000"/>
<rect x="870.47" y="580.54" width="7.13" height="18.71" fill="#ffbf00"/>
<rect x="877" y="580.54" width="7.13" height="18.71" fill="#ffff00"/>
<rect x="883.52" y="580.54" width="7.13" height="18.71" fill="#bfff40"/>
<rect x="890.05" y="580.54" width="7.13" height="18.71" fill="#80ff80"/>
<rect x="896.58" y="580.54" width="7.13" height="18.71" fill="#30ffcf"/>
<rect x="903.11" y="580.54" width="7.13" height="18.71" fill="#00efff"/>
<rect x="909.64" y="580.54" width="7.13" height="18.71" fill="#00cfff"/>
<rect x="916.17" y="580.54" width="7.13" height="18.71" fill="#00afff"/>
<rect x="922.7" y="580.54" width="7.13" height="18.71" fill="#008fff"/>
<rect x="929.23" y="580.54" width="7.13" height="18.71" fill="#0070ff"/>
<rect x="935.76" y="580.54" width="7.13" height="18.71" fill="#0060ff"/>
<rect x="942.29" y="580.54" width="20.19" height="18.71" fill="#0050ff"/>
<rect x="961.88" y="580.54" width="33.25" height="18.71" fill="#0040ff"/>
<rect x="994.53" y="580.54" width="20.19" height="18.71" fill="#0050ff"/>
<rect x="1014.11" y="580.54" width="7.13" height="18.71" fill="#0060ff"/>
<rect x="1020.64" y="580.54" width="7.13" height="18.71" fill="#0070ff"/>
<rect x="1027.17" y="580.54" width="13.66" height="18.71" fill="#0080ff"/>
<rect x="1040.23" y="580.54" width="7.13" height="18.71" fill="#008fff"/>
<rect x="1046.76" y="580.54" width="7.13" height="18.71" fill="#009fff"/>
<rect x="1053.29" y="580.54" width="7.13" height="18.71" fill="#00afff"/>
<rect x="1059.82" y="580.54" width="7.13" height="18.71" fill="#00bfff"/>
<rect x="1066.35" y="580.54" width="7.13" height="18.71" fill="#00cfff"/>
<rect x="1072.88" y="580.54" width="7.13" height="18.71" fill="#00dfff"/>
<rect x="1079.41" y="580.54" width="7.13" height="18.71" fill="#00ffff"/>
<rect x="1085.94" y="580.54" width="7.13" height="18.71" fill="#10ffef"/>
<rect x="1092.47" y="580.54" width="7.13" height="18.71" fill="#30ffcf"/>
<rect x="1099" y="580.54" width="85.48" height="18.71" fill="#40ffbf"/>
<rect x="1183.88" y="580.54" width="7.13" height="18.71" fill="#30ffcf"/>
<rect x="1190.41" y="580.54" width="7.13" height="18.71" fill="#10ffef"/>
<rect x="1196.94" y="580.54" width="13.06" height="18.71" fill="#00ffff"/>
<rect x="811.7" y="598.65" width="13.66" height="18.71" fill="#bf0000"/>
<rect x="824.76" y="598.65" width="13.66" height="18.71" fill="#cf0000"/>
<rect x="837.82" y="598.65" width="7.13" height="18.71" fill="#df0000"/>
<rect x="844.35" y="598.65" width="13.66" height="18.71" fill="#ef0000"/>
<rect x="857.41" y="598.65" width="7.13" height="18.71" fill="#ff1000"/>
<rect x="863.94" y="598.65" width="7.13" height="18.71" fill="#ff4000"/>
<rect x="870.47" y="598.65" width="7.13" height="18.71" fill="#ff8f00"/>
<rect x="877" y="598.65" width="7.13" height="18.71" fill="#ffdf00"/>
<rect x="883.52" y="598.65" width="7.13" height="18.71" fill="#efff10"/>
<rect x="890.05" y="598.65" width="7.13" height="18.71" fill="#bfff40"/>
<rect x="896.58" y="598.65" width="7.13" height="18.71" fill="#8fff70"/>
<rect x="903.11" y="598.65" width="7.13" height="18.71" fill="#50ffaf"/>
<rect x="909.64" y="598.65" width="7.13" height="18.71" fill="#10ffef"/>
<rect x="916.17" y="598.65" width="7.13" height="18.71" fill="#00dfff"/>
<rect x="922.7" y="598.65" width="7.13" height="18.71" fill="#00afff"/>
<rect x="929.23" y="598.65" width="7.13" height="18.71" fill="#008fff"/>
<rect x="935.76" y="598.65" width="7.13" height="18.71" fill="#0060ff"/>
<rect x="942.29" y="598.65" width="52.84" height="18.71" fill="#0030ff"/>
<rect x="994.53" y="598.65" width="7.13" height="18.71" fill="#0020ff"/>
<rect x="1001.06" y="598.65" width="13.66" height="18.71" fill="#0030ff"/>
<rect x="1014.11" y="598.65" width="7.13" height="18.71" fill="#0040ff"/>
<rect x="1020.64" y="598.65" width="13.66" height="18.71" fill="#0050ff"/>
<rect x="1033.7" y="598.65" width="7.13" height="18.71" fill="#0060ff"/>
<rect x="1040.23" y="598.65" width="13.66" height="18.71" fill="#0070ff"/>
<rect x="1053.29" y="598.65" width="7.13" height="18.71" fill="#0080ff"/>
<rect x="1059.82" y="598.65" width="7.13" height="18.71" fill="#008fff"/>
<rect x="1066.35" y="598.65" width="7.13" height="18.71" fill="#00afff"/>
<rect x="1072.88" y="598.65" width="7.13" height="18.71" fill="#00cfff"/>
<rect x="1079.41" y="598.65" width="7.13" height="18.71" fill="#00dfff"/>
<rect x="1085.94" y="598.65" width="7.13" height="18.71" fill="#00efff"/>
<rect x="1092.47" y="598.65" width="92.01" height="18.71" fill="#00ffff"/>
<rect x="1183.88" y="598.65" width="7.13" height="18.71" fill="#00efff"/>
<rect x="1190.41" y="598.65" width="19.59" height="18.71" fill="#00dfff"/>
<rect x="811.7" y="616.76" width="13.66" height="18.71" fill="#bf0000"/>
<rect x="824.76" y="616.76" width="13.66" height="18.71" fill="#cf0000"/>
<rect x="837.82" y="616.76" width="13.66" height="18.71" fill="#df0000"/>
<rect x="850.88" y="616.76" width="13.66" height="18.71" fill="#ef0000"/>
<rect x="863.94" y="616.76" width="7.13" height="18.71" fill="#ff1000"/>
<rect x="870.47" y="616.76" width="7.13" height="18.71" fill="#ff4000"/>
<rect x="877" y="616.76" width="7.13" height="18.71" fill="#ff8f00"/>
<rect x="883.52" y="616.76" width="7.13" height="18.71" fill="#ffdf00"/>
<rect x="890.05" y="616.76" width="7.13" height="18.71" fill="#efff10"/>
<rect x="896.58" y="616.76" width="7.13" height="18.71" fill="#bfff40"/>
<rect x="903.11" y="616.76" width="7.13" height="18.71" fill="#8fff70"/>
<rect x="909.64" y="616.76" width="7.13" height="18.71" fill="#50ffaf"/>
<rect x="916.17" y="616.76" width="7.13" height="18.71" fill="#00ffff"/>
<rect x="922.7" y="616.76" width="7.13" height="18.71" fill="#00cfff"/>
<rect x="929.23" y="616.76" width="7.13" height="18.71" fill="#009fff"/>
<rect x="935.76" y="616.76" width="7.13" height="18.71" fill="#0070ff"/>
<rect x="942.29" y="616.76" width="7.13" height="18.71" fill="#0050ff"/>
<rect x="948.82" y="616.76" width="7.13" height="18.71" fill="#0030ff"/>
<rect x="955.35" y="616.76" width="33.25" height="18.71" fill="#0020ff"/>
<rect x="988" y="616.76" width="13.66" height="18.71" fill="#0010ff"/>
<rect x="1001.06" y="616.76" width="13.66" height="18.71" fill="#0020ff"/>
<rect x="1014.11" y="616.76" width="13.66" height="18.71" fill="#0030ff"/>
<rect x="1027.17" y="616.76" width="7.13" height="18.71" fill="#0040ff"/>
<rect x="1033.7" y="616.76" width="7.13" height="18.71" fill="#0050ff"/>
<rect x="1040.23" y="616.76" width="13.66" height="18.71" fill="#0060ff"/>
<rect x="1053.29" y="616.76" width="7.13" height="18.71" fill="#0070ff"/>
<rect x="1059.82" y="616.76" width="7.13" height="18.71" fill="#0080ff"/>
<rect x="1066.35" y="616.76" width="7.13" height="18.71" fill="#008fff"/>
<rect x="1072.88" y="616.76" width="7.13" height="18.71" fill="#009fff"/>
<rect x="1079.41" y="616.76" width="7.13" height="18.71" fill="#00afff"/>
<rect x="1085.94" y="616.76" width="20.19" height="18.71" fill="#00bfff"/>
<rect x="1105.53" y="616.76" width="13.66" height="18.71" fill="#00cfff"/>
<rect x="1118.59" y="616.76" width="13.66" height="18.71" fill="#00dfff"/>
<rect x="1131.65" y="616.76" width="7.13" height="18.71" fill="#00efff"/>
<rect x="1138.18" y="616.76" width="13.66" height="18.71" fill="#00ffff"/>
<rect x="1151.23" y="616.76" width="20.19" height="18.71" fill="#10ffef"/>
<rect x="1170.82" y="616.76" width="7.13" height="18.71" fill="#00ffff"/>
<rect x="1177.35" y="616.76" width="7.13" height="18.71" fill="#00efff"/>
<rect x="1183.88" y="616.76" width="13.66" height="18.71" fill="#00dfff"/>
<rect x="1196.94" y="616.76" width="13.06" height="18.71" fill="#00cfff"/>
<rect x="811.7" y="634.87" width="13.66" height="18.71" fill="#bf0000"/>
<rect x="824.76" y="634.87" width="13.66" height="18.71" fill="#cf0000"/>
<rect x="837.82" y="634.87" width="20.19" height="18.71" fill="#df0000"/>
<rect x="857.41" y="634.87" width="7.13" height="18.71" fill="#ef0000"/>
<rect x="863.94" y="634.87" width="7.13" height="18.71" fill="#ff0000"/>
<rect x="870.47" y="634.87" width="7.13" height="18.71" fill="#ff2000"/>
<rect x="877" y="634.87" width="7.13" height="18.71" fill="#ff5000"/>
<rect x="883.52" y="634.87" width="7.13" height="18.71" fill="#ff8f00"/>
<rect x="890.05" y="634.87" width="7.13" height="18.71" fill="#ffcf00"/>
<rect x="896.58" y="634.87" width="7.13" height="18.71" fill="#efff10"/>
<rect x="903.11" y="634.87" width="7.13" height="18.71" fill="#bfff40"/>
<rect x="909.64" y="634.87" width="7.13" height="18.71" fill="#80ff80"/>
<rect x="916.17" y="634.87" width="7.13" height="18.71" fill="#40ffbf"/>
<rect x="922.7" y="634.87" width="7.13" height="18.71" fill="#00ffff"/>
<rect x="929.23" y="634.87" width="7.13" height="18.71" fill="#00bfff"/>
<rect x="935.76" y="634.87" width="7.13" height="18.71" fill="#008fff"/>
<rect x="942.29" y="634.87" width="7.13" height="18.71" fill="#0060ff"/>
<rect x="948.82" y="634.87" width="7.13" height="18.71" fill="#0030ff"/>
<rect x="955.35" y="634.87" width="7.13" height="18.71" fill="#0020ff"/>
<rect x="961.88" y="634.87" width="59.37" height="18.71" fill="#0010ff"/>
<rect x="1020.64" y="634.87" width="13.66" height="18.71" fill="#0020ff"/>
<rect x="1033.7" y="634.87" width="13.66" height="18.71" fill="#0030ff"/>
<rect x="1046.76" y="634.87" width="7.13" height="18.71" fill="#0040ff"/>
<rect x="1053.29" y="634.87" width="7.13" height="18.71" fill="#0050ff"/>
<rect x="1059.82" y="634.87" width="7.13" height="18.71" fill="#0060ff"/>
<rect x="1066.35" y="634.87" width="7.13" height="18.71" fill="#0070ff"/>
<rect x="1072.88" y="634.87" width="7.13" height="18.71" fill="#0080ff"/>
<rect x="1079.41" y="634.87" width="7.13" height="18.71" fill="#008fff"/>
<rect x="1085.94" y="634.87" width="7.13" height="18.71" fill="#009fff"/>
<rect x="1092.47" y="634.87" width="13.66" height="18.71" fill="#00afff"/>
<rect x="1105.53" y="634.87" width="7.13" height="18.71" fill="#00bfff"/>
<rect x="1112.06" y="634.87" width="13.66" height="18.71" fill="#00cfff"/>
<rect x="1125.12" y="634.87" width="7.13" height="18.71" fill="#00dfff"/>
<rect x="1131.65" y="634.87" width="59.37" height="18.71" fill="#00efff"/>
<rect x="1190.41" y="634.87" width="19.59" height="18.71" fill="#00dfff"/>
<rect x="811.7" y="652.98" width="13.66" height="18.71" fill="#bf0000"/>
<rect x="824.76" y="652.98" width="20.19" height="18.71" fill="#cf0000"/>
<rect x="844.35" y="652.98" width="20.19" height="18.71" fill="#df0000"/>
<rect x="863.94" y="652.98" width="13.66" height="18.71" fill="#ef0000"/>
<rect x="877" y="652.98" width="7.13" height="18.71" fill="#ff1000"/>
<rect x="883.52" y="652.98" width="7.13" height="18.71" fill="#ff4000"/>
<rect x="890.05" y="652.98" width="7.13" height="18.71" fill="#ff8000"/>
<rect x="896.58" y="652.98" width="7.13" height="18.71" fill="#ffbf00"/>
<rect x="903.11" y="652.98" width="7.13" height="18.71" fill="#ffef00"/>
<rect x="909.64" y="652.98" width="7.13" height="18.71" fill="#cfff30"/>
<rect x="916.17" y="652.98" width="7.13" height="18.71" fill="#9fff60"/>
<rect x="922.7" y="652.98" width="7.13" height="18.71" fill="#60ff9f"/>
<rect x="929.23" y="652.98" width="7.13" height="18.71" fill="#00efff"/>
<rect x="935.76" y="652.98" width="7.13" height="18.71" fill="#00afff"/>
<rect x="942.29" y="652.98" width="7.13" height="18.71" fill="#0080ff"/>
<rect x="948.82" y="652.98" width="7.13" height="18.71" fill="#0060ff"/>
<rect x="955.35" y="652.98" width="7.13" height="18.71" fill="#0050ff"/>
<rect x="961.88" y="652.98" width="7.13" height="18.71" fill="#0040ff"/>
<rect x="968.41" y="652.98" width="7.13" height="18.71" fill="#0030ff"/>
<rect x="974.94" y="652.98" width="72.42" height="18.71" fill="#0020ff"/>
<rect x="1046.76" y="652.98" width="13.66" height="18.71" fill="#0030ff"/>
<rect x="1059.82" y="652.98" width="7.13" height="18.71" fill="#0040ff"/>
<rect x="1066.35" y="652.98" width="7.13" height="18.71" fill="#0050ff"/>
<rect x="1072.88" y="652.98" width="7.13" height="18.71" fill="#0060ff"/>
<rect x="1079.41" y="652.98" width="7.13" height="18.71" fill="#0070ff"/>
<rect x="1085.94" y="652.98" width="7.13" height="18.71" fill="#0080ff"/>
<rect x="1092.47" y="652.98" width="7.13" height="18.71" fill="#008fff"/>
<rect x="1099" y="652.98" width="7.13" height="18.71" fill="#009fff"/>
<rect x="1105.53" y="652.98" width="7.13" height="18.71" fill="#00afff"/>
<rect x="1112.06" y="652.98" width="13.66" height="18.71" fill="#00bfff"/>
<rect x="1125.12" y="652.98" width="13.66" height="18.71" fill="#00cfff"/>
<rect x="1138.18" y="652.98" width="7.13" height="18.71" fill="#00dfff"/>
<rect x="1144.7" y="652.98" width="59.37" height="18.71" fill="#00efff"/>
<rect x="1203.47" y="652.98" width="6.53" height="18.71" fill="#00dfff"/>
<rect x="811.7" y="671.09" width="13.66" height="18.71" fill="#bf0000"/>
<rect x="824.76" y="671.09" width="20.19" height="18.71" fill="#cf0000"/>
<rect x="844.35" y="671.09" width="26.72" height="18.71" fill="#df0000"/>
<rect x="870.47" y="671.09" width="7.13" height="18.71" fill="#ef0000"/>
<rect x="877" y="671.09" width="7.13" height="18.71" fill="#ff0000"/>
<rect x="883.52" y="671.09" width="7.13" height="18.71" fill="#ff2000"/>
<rect x="890.05" y="671.09" width="7.13" height="18.71" fill="#ff4000"/>
<rect x="896.58" y="671.09" width="7.13" height="18.71" fill="#ff8000"/>
<rect x="903.11" y="671.09" width="7.13" height="18.71" fill="#ffaf00"/>
<rect x="909.64" y="671.09" width="7.13" height="18.71" fill="#ffef00"/>
<rect x="916.17" y="671.09" width="7.13" height="18.71" fill="#cfff30"/>
<rect x="922.7" y="671.09" width="7.13" height="18.71" fill="#80ff80"/>
<rect x="929.23" y="671.09" width="7.13" height="18.71" fill="#20ffdf"/>
<rect x="935.76" y="671.09" width="7.13" height="18.71" fill="#00efff"/>
<rect x="942.29" y="671.09" width="7.13" height="18.71" fill="#00bfff"/>
<rect x="948.82" y="671.09" width="7.13" height="18.71" fill="#008fff"/>
<rect x="955.35" y="671.09" width="7.13" height="18.71" fill="#0080ff"/>
<rect x="961.88" y="671.09" width="7.13" height="18.71" fill="#0070ff"/>
<rect x="968.41" y="671.09" width="7.13" height="18.71" fill="#0060ff"/>
<rect x="974.94" y="671.09" width="7.13" height="18.71" fill="#0050ff"/>
<rect x="981.47" y="671.09" width="7.13" height="18.71" fill="#0040ff"/>
<rect x="988" y="671.09" width="13.66" height="18.71" fill="#0030ff"/>
<rect x="1001.06" y="671.09" width="52.84" height="18.71" fill="#0020ff"/>
<rect x="1053.29" y="671.09" width="7.13" height="18.71" fill="#0030ff"/>
<rect x="1059.82" y="671.09" width="13.66" height="18.71" fill="#0040ff"/>
<rect x="1072.88" y="671.09" width="7.13" height="18.71" fill="#0050ff"/>
<rect x="1079.41" y="671.09" width="7.13" height="18.71" fill="#0060ff"/>
<rect x="1085.94" y="671.09" width="7.13" height="18.71" fill="#0070ff"/>
<rect x="1092.47" y="671.09" width="7.13" height="18.71" fill="#0080ff"/>
<rect x="1099" y="671.09" width="7.13" height="18.71" fill="#008fff"/>
<rect x="1105.53" y="671.09" width="13.66" height="18.71" fill="#009fff"/>
<rect x="1118.59" y="671.09" width="7.13" height="18.71" fill="#00afff"/>
<rect x="1125.12" y="671.09" width="7.13" height="18.71" fill="#00bfff"/>
<rect x="1131.65" y="671.09" width="13.66" height="18.71" fill="#00cfff"/>
<rect x="1144.7" y="671.09" width="65.3" height="18.71" fill="#00dfff"/>
<rect x="811.7" y="689.2" width="7.13" height="18.71" fill="#af0000"/>
<rect x="818.23" y="689.2" width="26.72" height="18.71" fill="#bf0000"/>
<rect x="844.35" y="689.2" width="13.66" height="18.71" fill="#cf0000"/>
<rect x="857.41" y="689.2" width="7.13" height="18.71" fill="#df0000"/>
<rect x="863.94" y="689.2" width="13.66" height="18.71" fill="#ef0000"/>
<rect x="877" y="689.2" width="7.13" height="18.71" fill="#ff1000"/>
<rect x="883.52" y="689.2" width="7.13" height="18.71" fill="#ff2000"/>
<rect x="890.05" y="689.2" width="7.13" height="18.71" fill="#ff5000"/>
<rect x="896.58" y="689.2" width="7.13" height="18.71" fill="#ff8f00"/>
<rect x="903.11" y="689.2" width="7.13" height="18.71" fill="#ffbf00"/>
<rect x="909.64" y="689.2" width="7.13" height="18.71" fill="#ffef00"/>
<rect x="916.17" y="689.2" width="7.13" height="18.71" fill="#cfff30"/>
<rect x="922.7" y="689.2" width="7.13" height="18.71" fill="#9fff60"/>
<rect x="929.23" y="689.2" width="7.13" height="18.71" fill="#70ff8f"/>
<rect x="935.76" y="689.2" width="7.13" height="18.71" fill="#40ffbf"/>
<rect x="942.29" y="689.2" width="7.13" height="18.71" fill="#10ffef"/>
<rect x="948.82" y="689.2" width="7.13" height="18.71" fill="#00dfff"/>
<rect x="955.35" y="689.2" width="7.13" height="18.71" fill="#00cfff"/>
<rect x="961.88" y="689.2" width="7.13" height="18.71" fill="#00bfff"/>
<rect x="968.41" y="689.2" width="7.13" height="18.71" fill="#009fff"/>
<rect x="974.94" y="689.2" width="7.13" height="18.71" fill="#008fff"/>
<rect x="981.47" y="689.2" width="7.13" height="18.71" fill="#0080ff"/>
<rect x="988" y="689.2" width="7.13" height="18.71" fill="#0060ff"/>
<rect x="994.53" y="689.2" width="7.13" height="18.71" fill="#0050ff"/>
<rect x="1001.06" y="689.2" width="20.19" height="18.71" fill="#0040ff"/>
<rect x="1020.64" y="689.2" width="46.31" height="18.71" fill="#0030ff"/>
<rect x="1066.35" y="689.2" width="20.19" height="18.71" fill="#0040ff"/>
<rect x="1085.94" y="689.2" width="13.66" height="18.71" fill="#0050ff"/>
<rect x="1099" y="689.2" width="7.13" height="18.71" fill="#0060ff"/>
<rect x="1105.53" y="689.2" width="13.66" height="18.71" fill="#0080ff"/>
<rect x="1118.59" y="689.2" width="13.66" height="18.71" fill="#008fff"/>
<rect x="1131.65" y="689.2" width="13.66" height="18.71" fill="#009fff"/>
<rect x="1144.7" y="689.2" width="13.66" height="18.71" fill="#00afff"/>
<rect x="1157.76" y="689.2" width="20.19" height="18.71" fill="#00bfff"/>
<rect x="1177.35" y="689.2" width="20.19" height="18.71" fill="#00cfff"/>
<rect x="1196.94" y="689.2" width="13.06" height="18.71" fill="#00dfff"/>
<rect x="811.7" y="707.31" width="7.13" height="18.71" fill="#af0000"/>
<rect x="818.23" y="707.31" width="26.72" height="18.71" fill="#bf0000"/>
<rect x="844.35" y="707.31" width="13.66" height="18.71" fill="#cf0000"/>
<rect x="857.41" y="707.31" width="13.66" height="18.71" fill="#df0000"/>
<rect x="870.47" y="707.31" width="7.13" height="18.71" fill="#ef0000"/>
<rect x="877" y="707.31" width="7.13" height="18.71" fill="#ff0000"/>
<rect x="883.52" y="707.31" width="7.13" height="18.71" fill="#ff2000"/>
<rect x="890.05" y="707.31" width="7.13" height="18.71" fill="#ff4000"/>
<rect x="896.58" y="707.31" width="7.13" height="18.71" fill="#ff7000"/>
<rect x="903.11" y="707.31" width="7.13" height="18.71" fill="#ff9f00"/>
<rect x="909.64" y="707.31" width="7.13" height="18.71" fill="#ffbf00"/>
<rect x="916.17" y="707.31" width="7.13" height="18.71" fill="#ffef00"/>
<rect x="922.7" y="707.31" width="7.13" height="18.71" fill="#dfff20"/>
<rect x="929.23" y="707.31" width="7.13" height="18.71" fill="#afff50"/>
<rect x="935.76" y="707.31" width="7.13" height="18.71" fill="#80ff80"/>
<rect x="942.29" y="707.31" width="7.13" height="18.71" fill="#50ffaf"/>
<rect x="948.82" y="707.31" width="7.13" height="18.71" fill="#20ffdf"/>
<rect x="955.35" y="707.31" width="7.13" height="18.71" fill="#00efff"/>
<rect x="961.88" y="707.31" width="7.13" height="18.71" fill="#00dfff"/>
<rect x="968.41" y="707.31" width="7.13" height="18.71" fill="#00cfff"/>
<rect x="974.94" y="707.31" width="7.13" height="18.71" fill="#00afff"/>
<rect x="981.47" y="707.31" width="7.13" height="18.71" fill="#009fff"/>
<rect x="988" y="707.31" width="7.13" height="18.71" fill="#008fff"/>
<rect x="994.53" y="707.31" width="7.13" height="18.71" fill="#0080ff"/>
<rect x="1001.06" y="707.31" width="7.13" height="18.71" fill="#0070ff"/>
<rect x="1007.59" y="707.31" width="13.66" height="18.71" fill="#0060ff"/>
<rect x="1020.64" y="707.31" width="33.25" height="18.71" fill="#0050ff"/>
<rect x="1053.29" y="707.31" width="13.66" height="18.71" fill="#0040ff"/>
<rect x="1066.35" y="707.31" width="26.72" height="18.71" fill="#0050ff"/>
<rect x="1092.47" y="707.31" width="13.66" height="18.71" fill="#0060ff"/>
<rect x="1105.53" y="707.31" width="7.13" height="18.71" fill="#0070ff"/>
<rect x="1112.06" y="707.31" width="7.13" height="18.71" fill="#0080ff"/>
<rect x="1118.59" y="707.31" width="7.13" height="18.71" fill="#008fff"/>
<rect x="1125.12" y="707.31" width="20.19" height="18.71" fill="#009fff"/>
<rect x="1144.7" y="707.31" width="26.72" height="18.71" fill="#00afff"/>
<rect x="1170.82" y="707.31" width="20.19" height="18.71" fill="#00bfff"/>
<rect x="1190.41" y="707.31" width="19.59" height="18.71" fill="#00cfff"/>
<rect x="811.7" y="725.42" width="7.13" height="18.71" fill="#af0000"/>
<rect x="818.23" y="725.42" width="33.25" height="18.71" fill="#bf0000"/>
<rect x="850.88" y="725.42" width="20.19" height="18.71" fill="#cf0000"/>
<rect x="870.47" y="725.42" width="7.13" height="18.71" fill="#df0000"/>
<rect x="877" y="725.42" width="7.13" height="18.71" fill="#ef0000"/>
<rect x="883.52" y="725.42" width="7.13" height="18.71" fill="#ff0000"/>
<rect x="890.05" y="725.42" width="7.13" height="18.71" fill="#ff2000"/>
<rect x="896.58" y="725.42" width="7.13" height="18.71" fill="#ff3000"/>
<rect x="903.11" y="725.42" width="7.13" height="18.71" fill="#ff6000"/>
<rect x="909.64" y="725.42" width="7.13" height="18.71" fill="#ff8000"/>
<rect x="916.17" y="725.42" width="7.13" height="18.71" fill="#ff9f00"/>
<rect x="922.7" y="725.42" width="7.13" height="18.71" fill="#ffcf00"/>
<rect x="929.23" y="725.42" width="7.13" height="18.71" fill="#ffef00"/>
<rect x="935.76" y="725.42" width="7.13" height="18.71" fill="#efff10"/>
<rect x="942.29" y="725.42" width="7.13" height="18.71" fill="#bfff40"/>
<rect x="948.82" y="725.42" width="7.13" height="18.71" fill="#9fff60"/>
<rect x="955.35" y="725.42" width="7.13" height="18.71" fill="#70ff8f"/>
<rect x="961.88" y="725.42" width="7.13" height="18.71" fill="#40ffbf"/>
<rect x="968.41" y="725.42" width="7.13" height="18.71" fill="#20ffdf"/>
<rect x="974.94" y="725.42" width="7.13" height="18.71" fill="#00ffff"/>
<rect x="981.47" y="725.42" width="7.13" height="18.71" fill="#00efff"/>
<rect x="988" y="725.42" width="13.66" height="18.71" fill="#00cfff"/>
<rect x="1001.06" y="725.42" width="7.13" height="18.71" fill="#00bfff"/>
<rect x="1007.59" y="725.42" width="7.13" height="18.71" fill="#00afff"/>
<rect x="1014.11" y="725.42" width="7.13" height="18.71" fill="#009fff"/>
<rect x="1020.64" y="725.42" width="13.66" height="18.71" fill="#008fff"/>
<rect x="1033.7" y="725.42" width="13.66" height="18.71" fill="#0080ff"/>
<rect x="1046.76" y="725.42" width="39.78" height="18.71" fill="#0070ff"/>
<rect x="1085.94" y="725.42" width="26.72" height="18.71" fill="#0080ff"/>
<rect x="1112.06" y="725.42" width="26.72" height="18.71" fill="#008fff"/>
<rect x="1138.18" y="725.42" width="20.19" height="18.71" fill="#009fff"/>
<rect x="1157.76" y="725.42" width="13.66" height="18.71" fill="#00afff"/>
<rect x="1170.82" y="725.42" width="20.19" height="18.71" fill="#00bfff"/>
<rect x="1190.41" y="725.42" width="19.59" height="18.71" fill="#00cfff"/>
<rect x="811.7" y="743.53" width="7.13" height="18.71" fill="#af0000"/>
<rect x="818.23" y="743.53" width="33.25" height="18.71" fill="#bf0000"/>
<rect x="850.88" y="743.53" width="20.19" height="18.71" fill="#cf0000"/>
<rect x="870.47" y="743.53" width="7.13" height="18.71" fill="#df0000"/>
<rect x="877" y="743.53" width="13.66" height="18.71" fill="#ef0000"/>
<rect x="890.05" y="743.53" width="7.13" height="18.71" fill="#ff0000"/>
<rect x="896.58" y="743.53" width="7.13" height="18.71" fill="#ff2000"/>
<rect x="903.11" y="743.53" width="7.13" height="18.71" fill="#ff4000"/>
<rect x="909.64" y="743.53" width="7.13" height="18.71" fill="#ff6000"/>
<rect x="916.17" y="743.53" width="7.13" height="18.71" fill="#ff7000"/>
<rect x="922.7" y="743.53" width="7.13" height="18.71" fill="#ff8f00"/>
<rect x="929.23" y="743.53" width="7.13" height="18.71" fill="#ffaf00"/>
<rect x="935.76" y="743.53" width="7.13" height="18.71" fill="#ffbf00"/>
<rect x="942.29" y="743.53" width="7.13" height="18.71" fill="#ffdf00"/>
<rect x="948.82" y="743.53" width="7.13" height="18.71" fill="#ffff00"/>
<rect x="955.35" y="743.53" width="7.13" height="18.71" fill="#dfff20"/>
<rect x="961.88" y="743.53" width="7.13" height="18.71" fill="#bfff40"/>
<rect x="968.41" y="743.53" width="7.13" height="18.71" fill="#9fff60"/>
<rect x="974.94" y="743.53" width="7.13" height="18.71" fill="#80ff80"/>
<rect x="981.47" y="743.53" width="7.13" height="18.71" fill="#60ff9f"/>
<rect x="988" y="743.53" width="7.13" height="18.71" fill="#40ffbf"/>
<rect x="994.53" y="743.53" width="7.13" height="18.71" fill="#20ffdf"/>
<rect x="1001.06" y="743.53" width="7.13" height="18.71" fill="#10ffef"/>
<rect x="1007.59" y="743.53" width="13.66" height="18.71" fill="#00efff"/>
<rect x="1020.64" y="743.53" width="7.13" height="18.71" fill="#00dfff"/>
<rect x="1027.17" y="743.53" width="13.66" height="18.71" fill="#00cfff"/>
<rect x="1040.23" y="743.53" width="7.13" height="18.71" fill="#00bfff"/>
<rect x="1046.76" y="743.53" width="7.13" height="18.71" fill="#00afff"/>
<rect x="1053.29" y="743.53" width="13.66" height="18.71" fill="#009fff"/>
<rect x="1066.35" y="743.53" width="59.37" height="18.71" fill="#008fff"/>
<rect x="1125.12" y="743.53" width="26.72" height="18.71" fill="#009fff"/>
<rect x="1151.23" y="743.53" width="13.66" height="18.71" fill="#00afff"/>
<rect x="1164.29" y="743.53" width="7.13" height="18.71" fill="#00bfff"/>
<rect x="1170.82" y="743.53" width="13.66" height="18.71" fill="#00cfff"/>
<rect x="1183.88" y="743.53" width="13.66" height="18.71" fill="#00dfff"/>
<rect x="1196.94" y="743.53" width="13.06" height="18.71" fill="#00efff"/>
<rect x="811.7" y="761.64" width="7.13" height="18.71" fill="#af0000"/>
<rect x="818.23" y="761.64" width="33.25" height="18.71" fill="#bf0000"/>
<rect x="850.88" y="761.64" width="20.19" height="18.71" fill="#cf0000"/>
<rect x="870.47" y="761.64" width="13.66" height="18.71" fill="#df0000"/>
<rect x="883.52" y="761.64" width="13.66" height="18.71" fill="#ef0000"/>
<rect x="896.58" y="761.64" width="7.13" height="18.71" fill="#ff0000"/>
<rect x="903.11" y="761.64" width="7.13" height="18.71" fill="#ff2000"/>
<rect x="909.64" y="761.64" width="7.13" height="18.71" fill="#ff3000"/>
<rect x="916.17" y="761.64" width="7.13" height="18.71" fill="#ff4000"/>
<rect x="922.7" y="761.64" width="7.13" height="18.71" fill="#ff6000"/>
<rect x="929.23" y="761.64" width="7.13" height="18.71" fill="#ff8000"/>
<rect x="935.76" y="761.64" width="7.13" height="18.71" fill="#ff8f00"/>
<rect x="942.29" y="761.64" width="7.13" height="18.71" fill="#ff9f00"/>
<rect x="948.82" y="761.64" width="7.13" height="18.71" fill="#ffaf00"/>
<rect x="955.35" y="761.64" width="7.13" height="18.71" fill="#ffcf00"/>
<rect x="961.88" y="761.64" width="7.13" height="18.71" fill="#ffdf00"/>
<rect x="968.41" y="761.64" width="7.13" height="18.71" fill="#ffef00"/>
<rect x="974.94" y="761.64" width="7.13" height="18.71" fill="#ffff00"/>
<rect x="981.47" y="761.64" width="7.13" height="18.71" fill="#efff10"/>
<rect x="988" y="761.64" width="7.13" height="18.71" fill="#cfff30"/>
<rect x="994.53" y="761.64" width="7.13" height="18.71" fill="#bfff40"/>
<rect x="1001.06" y="761.64" width="7.13" height="18.71" fill="#9fff60"/>
<rect x="1007.59" y="761.64" width="7.13" height="18.71" fill="#80ff80"/>
<rect x="1014.11" y="761.64" width="7.13" height="18.71" fill="#70ff8f"/>
<rect x="1020.64" y="761.64" width="7.13" height="18.71" fill="#60ff9f"/>
<rect x="1027.17" y="761.64" width="7.13" height="18.71" fill="#40ffbf"/>
<rect x="1033.7" y="761.64" width="7.13" height="18.71" fill="#30ffcf"/>
<rect x="1040.23" y="761.64" width="7.13" height="18.71" fill="#20ffdf"/>
<rect x="1046.76" y="761.64" width="7.13" height="18.71" fill="#10ffef"/>
<rect x="1053.29" y="761.64" width="7.13" height="18.71" fill="#00ffff"/>
<rect x="1059.82" y="761.64" width="13.66" height="18.71" fill="#00efff"/>
<rect x="1072.88" y="761.64" width="7.13" height="18.71" fill="#00dfff"/>
<rect x="1079.41" y="761.64" width="13.66" height="18.71" fill="#00cfff"/>
<rect x="1092.47" y="761.64" width="72.42" height="18.71" fill="#00bfff"/>
<rect x="1164.29" y="761.64" width="20.19" height="18.71" fill="#00cfff"/>
<rect x="1183.88" y="761.64" width="26.12" height="18.71" fill="#00dfff"/>
<rect x="811.7" y="779.75" width="7.13" height="18.71" fill="#af0000"/>
<rect x="818.23" y="779.75" width="33.25" height="18.71" fill="#bf0000"/>
<rect x="850.88" y="779.75" width="26.72" height="18.71" fill="#cf0000"/>
<rect x="877" y="779.75" width="20.19" height="18.71" fill="#df0000"/>
<rect x="896.58" y="779.75" width="7.13" height="18.71" fill="#ef0000"/>
<rect x="903.11" y="779.75" width="7.13" height="18.71" fill="#ff0000"/>
<rect x="909.64" y="779.75" width="7.13" height="18.71" fill="#ff1000"/>
<rect x="916.17" y="779.75" width="7.13" height="18.71" fill="#ff2000"/>
<rect x="922.7" y="779.75" width="7.13" height="18.71" fill="#ff3000"/>
<rect x="929.23" y="779.75" width="7.13" height="18.71" fill="#ff5000"/>
<rect x="935.76" y="779.75" width="7.13" height="18.71" fill="#ff6000"/>
<rect x="942.29" y="779.75" width="7.13" height="18.71" fill="#ff8000"/>
<rect x="948.82" y="779.75" width="7.13" height="18.71" fill="#ff8f00"/>
<rect x="955.35" y="779.75" width="7.13" height="18.71" fill="#ff9f00"/>
<rect x="961.88" y="779.75" width="7.13" height="18.71" fill="#ffaf00"/>
<rect x="968.41" y="779.75" width="7.13" height="18.71" fill="#ffbf00"/>
<rect x="974.94" y="779.75" width="7.13" height="18.71" fill="#ffcf00"/>
<rect x="981.47" y="779.75" width="7.13" height="18.71" fill="#ffdf00"/>
<rect x="988" y="779.75" width="7.13" height="18.71" fill="#ffef00"/>
<rect x="994.53" y="779.75" width="13.66" height="18.71" fill="#ffff00"/>
<rect x="1007.59" y="779.75" width="7.13" height="18.71" fill="#efff10"/>
<rect x="1014.11" y="779.75" width="7.13" height="18.71" fill="#cfff30"/>
<rect x="1020.64" y="779.75" width="7.13" height="18.71" fill="#bfff40"/>
<rect x="1027.17" y="779.75" width="7.13" height="18.71" fill="#afff50"/>
<rect x="1033.7" y="779.75" width="7.13" height="18.71" fill="#9fff60"/>
<rect x="1040.23" y="779.75" width="7.13" height="18.71" fill="#8fff70"/>
<rect x="1046.76" y="779.75" width="7.13" height="18.71" fill="#80ff80"/>
<rect x="1053.29" y="779.75" width="7.13" height="18.71" fill="#70ff8f"/>
<rect x="1059.82" y="779.75" width="7.13" height="18.71" fill="#60ff9f"/>
<rect x="1066.35" y="779.75" width="7.13" height="18.71" fill="#50ffaf"/>
<rect x="1072.88" y="779.75" width="7.13" height="18.71" fill="#40ffbf"/>
<rect x="1079.41" y="779.75" width="7.13" height="18.71" fill="#30ffcf"/>
<rect x="1085.94" y="779.75" width="7.13" height="18.71" fill="#20ffdf"/>
<rect x="1092.47" y="779.75" width="46.31" height="18.71" fill="#10ffef"/>
<rect x="1138.18" y="779.75" width="52.84" height="18.71" fill="#00ffff"/>
<rect x="1190.41" y="779.75" width="19.59" height="18.71" fill="#10ffef"/>
<rect x="811.7" y="797.86" width="7.13" height="18.71" fill="#af0000"/>
<rect x="818.23" y="797.86" width="33.25" height="18.71" fill="#bf0000"/>
<rect x="850.88" y="797.86" width="26.72" height="18.71" fill="#cf0000"/>
<rect x="877" y="797.86" width="20.19" height="18.71" fill="#df0000"/>
<rect x="896.58" y="797.86" width="13.66" height="18.71" fill="#ef0000"/>
<rect x="909.64" y="797.86" width="7.13" height="18.71" fill="#ff0000"/>
<rect x="916.17" y="797.86" width="7.13" height="18.71" fill="#ff1000"/>
<rect x="922.7" y="797.86" width="7.13" height="18.71" fill="#ff2000"/>
<rect x="929.23" y="797.86" width="7.13" height="18.71" fill="#ff3000"/>
<rect x="935.76" y="797.86" width="7.13" height="18.71" fill="#ff4000"/>
<rect x="942.29" y="797.86" width="7.13" height="18.71" fill="#ff6000"/>
<rect x="948.82" y="797.86" width="7.13" height="18.71" fill="#ff7000"/>
<rect x="955.35" y="797.86" width="7.13" height="18.71" fill="#ff8000"/>
<rect x="961.88" y="797.86" width="7.13" height="18.71" fill="#ff8f00"/>
<rect x="968.41" y="797.86" width="7.13" height="18.71" fill="#ff9f00"/>
<rect x="974.94" y="797.86" width="13.66" height="18.71" fill="#ffaf00"/>
<rect x="988" y="797.86" width="7.13" height="18.71" fill="#ffbf00"/>
<rect x="994.53" y="797.86" width="7.13" height="18.71" fill="#ffcf00"/>
<rect x="1001.06" y="797.86" width="13.66" height="18.71" fill="#ffdf00"/>
<rect x="1014.11" y="797.86" width="7.13" height="18.71" fill="#ffef00"/>
<rect x="1020.64" y="797.86" width="7.13" height="18.71" fill="#ffff00"/>
<rect x="1027.17" y="797.86" width="7.13" height="18.71" fill="#efff10"/>
<rect x="1033.7" y="797.86" width="7.13" height="18.71" fill="#dfff20"/>
<rect x="1040.23" y="797.86" width="7.13" height="18.71" fill="#bfff40"/>
<rect x="1046.76" y="797.86" width="7.13" height="18.71" fill="#afff50"/>
<rect x="1053.29" y="797.86" width="7.13" height="18.71" fill="#9fff60"/>
<rect x="1059.82" y="797.86" width="13.66" height="18.71" fill="#8fff70"/>
<rect x="1072.88" y="797.86" width="7.13" height="18.71" fill="#80ff80"/>
<rect x="1079.41" y="797.86" width="7.13" height="18.71" fill="#70ff8f"/>
<rect x="1085.94" y="797.86" width="7.13" height="18.71" fill="#60ff9f"/>
<rect x="1092.47" y="797.86" width="7.13" height="18.71" fill="#50ffaf"/>
<rect x="1099" y="797.86" width="13.66" height="18.71" fill="#40ffbf"/>
<rect x="1112.06" y="797.86" width="13.66" height="18.71" fill="#30ffcf"/>
<rect x="1125.12" y="797.86" width="13.66" height="18.71" fill="#20ffdf"/>
<rect x="1138.18" y="797.86" width="33.25" height="18.71" fill="#10ffef"/>
<rect x="1170.82" y="797.86" width="26.72" height="18.71" fill="#20ffdf"/>
<rect x="1196.94" y="797.86" width="13.06" height="18.71" fill="#30ffcf"/>
<rect x="811.7" y="815.97" width="7.13" height="18.71" fill="#af0000"/>
<rect x="818.23" y="815.97" width="33.25" height="18.71" fill="#bf0000"/>
<rect x="850.88" y="815.97" width="26.72" height="18.71" fill="#cf0000"/>
<rect x="877" y="815.97" width="26.72" height="18.71" fill="#df0000"/>
<rect x="903.11" y="815.97" width="13.66" height="18.71" fill="#ef0000"/>
<rect x="916.17" y="815.97" width="7.13" height="18.71" fill="#ff0000"/>
<rect x="922.7" y="815.97" width="7.13" height="18.71" fill="#ff1000"/>
<rect x="929.23" y="815.97" width="7.13" height="18.71" fill="#ff2000"/>
<rect x="935.76" y="815.97" width="7.13" height="18.71" fill="#ff3000"/>
<rect x="942.29" y="815.97" width="7.13" height="18.71" fill="#ff4000"/>
<rect x="948.82" y="815.97" width="7.13" height="18.71" fill="#ff5000"/>
<rect x="955.35" y="815.97" width="7.13" height="18.71" fill="#ff6000"/>
<rect x="961.88" y="815.97" width="7.13" height="18.71" fill="#ff7000"/>
<rect x="968.41" y="815.97" width="7.13" height="18.71" fill="#ff8000"/>
<rect x="974.94" y="815.97" width="7.13" height="18.71" fill="#ff8f00"/>
<rect x="981.47" y="815.97" width="13.66" height="18.71" fill="#ff9f00"/>
<rect x="994.53" y="815.97" width="7.13" height="18.71" fill="#ffaf00"/>
<rect x="1001.06" y="815.97" width="7.13" height="18.71" fill="#ffbf00"/>
<rect x="1007.59" y="815.97" width="13.66" height="18.71" fill="#ffcf00"/>
<rect x="1020.64" y="815.97" width="7.13" height="18.71" fill="#ffdf00"/>
<rect x="1027.17" y="815.97" width="7.13" height="18.71" fill="#ffef00"/>
<rect x="1033.7" y="815.97" width="7.13" height="18.71" fill="#ffff00"/>
<rect x="1040.23" y="815.97" width="7.13" height="18.71" fill="#efff10"/>
<rect x="1046.76" y="815.97" width="7.13" height="18.71" fill="#dfff20"/>
<rect x="1053.29" y="815.97" width="13.66" height="18.71" fill="#cfff30"/>
<rect x="1066.35" y="815.97" width="7.13" height="18.71" fill="#bfff40"/>
<rect x="1072.88" y="815.97" width="13.66" height="18.71" fill="#afff50"/>
<rect x="1085.94" y="815.97" width="13.66" height="18.71" fill="#9fff60"/>
<rect x="1099" y="815.97" width="13.66" height="18.71" fill="#8fff70"/>
<rect x="1112.06" y="815.97" width="13.66" height="18.71" fill="#80ff80"/>
<rect x="1125.12" y="815.97" width="20.19" height="18.71" fill="#70ff8f"/>
<rect x="1144.7" y="815.97" width="33.25" height="18.71" fill="#60ff9f"/>
<rect x="1177.35" y="815.97" width="32.65" height="18.71" fill="#50ffaf"/>
<rect x="811.7" y="834.08" width="7.13" height="18.71" fill="#af0000"/>
<rect x="818.23" y="834.08" width="33.25" height="18.71" fill="#bf0000"/>
<rect x="850.88" y="834.08" width="26.72" height="18.71" fill="#cf0000"/>
<rect x="877" y="834.08" width="33.25" height="18.71" fill="#df0000"/>
<rect x="909.64" y="834.08" width="13.66" height="18.71" fill="#ef0000"/>
<rect x="922.7" y="834.08" width="7.13" height="18.71" fill="#ff0000"/>
<rect x="929.23" y="834.08" width="7.13" height="18.71" fill="#ff1000"/>
<rect x="935.76" y="834.08" width="7.13" height="18.71" fill="#ff2000"/>
<rect x="942.29" y="834.08" width="7.13" height="18.71" fill="#ff3000"/>
<rect x="948.82" y="834.08" width="7.13" height="18.71" fill="#ff4000"/>
<rect x="955.35" y="834.08" width="7.13" height="18.71" fill="#ff5000"/>
<rect x="961.88" y="834.08" width="7.13" height="18.71" fill="#ff6000"/>
<rect x="968.41" y="834.08" width="7.13" height="18.71" fill="#ff7000"/>
<rect x="974.94" y="834.08" width="7.13" height="18.71" fill="#ff8000"/>
<rect x="981.47" y="834.08" width="13.66" height="18.71" fill="#ff8f00"/>
<rect x="994.53" y="834.08" width="7.13" height="18.71" fill="#ff9f00"/>
<rect x="1001.06" y="834.08" width="13.66" height="18.71" fill="#ffaf00"/>
<rect x="1014.11" y="834.08" width="7.13" height="18.71" fill="#ffbf00"/>
<rect x="1020.64" y="834.08" width="13.66" height="18.71" fill="#ffcf00"/>
<rect x="1033.7" y="834.08" width="7.13" height="18.71" fill="#ffdf00"/>
<rect x="1040.23" y="834.08" width="7.13" height="18.71" fill="#ffef00"/>
<rect x="1046.76" y="834.08" width="7.13" height="18.71" fill="#ffff00"/>
<rect x="1053.29" y="834.08" width="13.66" height="18.71" fill="#efff10"/>
<rect x="1066.35" y="834.08" width="7.13" height="18.71" fill="#dfff20"/>
<rect x="1072.88" y="834.08" width="13.66" height="18.71" fill="#cfff30"/>
<rect x="1085.94" y="834.08" width="20.19" height="18.71" fill="#bfff40"/>
<rect x="1105.53" y="834.08" width="20.19" height="18.71" fill="#afff50"/>
<rect x="1125.12" y="834.08" width="26.72" height="18.71" fill="#9fff60"/>
<rect x="1151.23" y="834.08" width="26.72" height="18.71" fill="#8fff70"/>
<rect x="1177.35" y="834.08" width="32.65" height="18.71" fill="#80ff80"/>
<rect x="811.7" y="852.19" width="7.13" height="18.11" fill="#af0000"/>
<rect x="818.23" y="852.19" width="33.25" height="18.11" fill="#bf0000"/>
<rect x="850.88" y="852.19" width="26.72" height="18.11" fill="#cf0000"/>
<rect x="877" y="852.19" width="39.78" height="18.11" fill="#df0000"/>
<rect x="916.17" y="852.19" width="7.13" height="18.11" fill="#ef0000"/>
<rect x="922.7" y="852.19" width="13.66" height="18.11" fill="#ff0000"/>
<rect x="935.76" y="852.19" width="7.13" height="18.11" fill="#ff1000"/>
<rect x="942.29" y="852.19" width="7.13" height="18.11" fill="#ff2000"/>
<rect x="948.82" y="852.19" width="7.13" height="18.11" fill="#ff3000"/>
<rect x="955.35" y="852.19" width="7.13" height="18.11" fill="#ff4000"/>
<rect x="961.88" y="852.19" width="7.13" height="18.11" fill="#ff5000"/>
<rect x="968.41" y="852.19" width="7.13" height="18.11" fill="#ff6000"/>
<rect x="974.94" y="852.19" width="7.13" height="18.11" fill="#ff7000"/>
<rect x="981.47" y="852.19" width="13.66" height="18.11" fill="#ff8000"/>
<rect x="994.53" y="852.19" width="7.13" height="18.11" fill="#ff8f00"/>
<rect x="1001.06" y="852.19" width="13.66" height="18.11" fill="#ff9f00"/>
<rect x="1014.11" y="852.19" width="7.13" height="18.11" fill="#ffaf00"/>
<rect x="1020.64" y="852.19" width="13.66" height="18.11" fill="#ffbf00"/>
<rect x="1033.7" y="852.19" width="7.13" height="18.11" fill="#ffcf00"/>
<rect x="1040.23" y="852.19" width="7.13" height="18.11" fill="#ffdf00"/>
<rect x="1046.76" y="852.19" width="7.13" height="18.11" fill="#ffef00"/>
<rect x="1053.29" y="852.19" width="7.13" height="18.11" fill="#ffff00"/>
<rect x="1059.82" y="852.19" width="20.19" height="18.11" fill="#efff10"/>
<rect x="1079.41" y="852.19" width="13.66" height="18.11" fill="#dfff20"/>
<rect x="1092.47" y="852.19" width="20.19" height="18.11" fill="#cfff30"/>
<rect x="1112.06" y="852.19" width="20.19" height="18.11" fill="#bfff40"/>
<rect x="1131.65" y="852.19" width="20.19" height="18.11" fill="#afff50"/>
<rect x="1151.23" y="852.19" width="20.19" height="18.11" fill="#9fff60"/>
<rect x="1170.82" y="852.19" width="39.18" height="18.11" fill="#8fff70"/>
</g>
<g>
<rect x="535.9" y="373.94" width="26.7" height="5.66" fill="#00008f"/>
<rect x="535.9" y="368.28" width="26.7" height="6.26" fill="#00009f"/>
<rect x="535.9" y="362.62" width="26.7" height="6.26" fill="#0000af"/>
<rect x="535.9" y="356.96" width="26.7" height="6.26" fill="#0000bf"/>
<rect x="535.9" y="351.3" width="26.7" height="6.26" fill="#0000cf"/>
<rect x="535.9" y="345.64" width="26.7" height="6.26" fill="#0000df"/>
<rect x="535.9" y="339.98" width="26.7" height="6.26" fill="#0000ef"/>
<rect x="535.9" y="334.33" width="26.7" height="6.26" fill="#0000ff"/>
<rect x="535.9" y="328.67" width="26.7" height="6.26" fill="#0010ff"/>
<rect x="535.9" y="323.01" width="26.7" height="6.26" fill="#0020ff"/>
<rect x="535.9" y="317.35" width="26.7" height="6.26" fill="#0030ff"/>
<rect x="535.9" y="311.69" width="26.7" height="6.26" fill="#0040ff"/>
<rect x="535.9" y="306.03" width="26.7" height="6.26" fill="#0050ff"/>
<rect x="535.9" y="300.37" width="26.7" height="6.26" fill="#0060ff"/>
<rect x="535.9" y="294.71" width="26.7" height="6.26" fill="#0070ff"/>
<rect x="535.9" y="289.05" width="26.7" height="6.26" fill="#0080ff"/>
<rect x="535.9" y="283.39" width="26.7" height="6.26" fill="#008fff"/>
<rect x="535.9" y="277.73" width="26.7" height="6.26" fill="#009fff"/>
<rect x="535.9" y="272.07" width="26.7" height="6.26" fill="#00afff"/>
<rect x="535.9" y="266.41" width="26.7" height="6.26" fill="#00bfff"/>
<rect x="535.9" y="260.75" width="26.7" height="6.26" fill="#00cfff"/>
<rect x="535.9" y="255.09" width="26.7" height="6.26" fill="#00dfff"/>
<rect x="535.9" y="249.43" width="26.7" height="6.26" fill="#00efff"/>
<rect x="535.9" y="243.78" width="26.7" height="6.26" fill="#00ffff"/>
<rect x="535.9" y="238.12" width="26.7" height="6.26" fill="#10ffef"/>
<rect x="535.9" y="232.46" width="26.7" height="6.26" fill="#20ffdf"/>
<rect x="535.9" y="226.8" width="26.7" height="6.26" fill="#30ffcf"/>
<rect x="535.9" y="221.14" width="26.7" height="6.26" fill="#40ffbf"/>
<rect x="535.9" y="215.48" width="26.7" height="6.26" fill="#50ffaf"/>
<rect x="535.9" y="209.82" width="26.7" height="6.26" fill="#60ff9f"/>
<rect x="535.9" y="204.16" width="26.7" height="6.26" fill="#70ff8f"/>
<rect x="535.9" y="198.5" width="26.7" height="6.26" fill="#80ff80"/>
<rect x="535.9" y="192.84" width="26.7" height="6.26" fill="#8fff70"/>
<rect x="535.9" y="187.18" width="26.7" height="6.26" fill="#9fff60"/>
<rect x="535.9" y="181.52" width="26.7" height="6.26" fill="#afff50"/>
<rect x="535.9" y="175.86" width="26.7" height="6.26" fill="#bfff40"/>
<rect x="535.9" y="170.2" width="26.7" height="6.26" fill="#cfff30"/>
<rect x="535.9" y="164.54" width="26.7" height="6.26" fill="#dfff20"/>
<rect x="535.9" y="158.88" width="26.7" height="6.26" fill="#efff10"/>
<rect x="535.9" y="153.23" width="26.7" height="6.26" fill="#ffff00"/>
<rect x="535.9" y="147.57" width="26.7" height="6.26" fill="#ffef00"/>
<rect x="535.9" y="141.91" width="26.7" height="6.26" fill="#ffdf00"/>
<rect x="535.9" y="136.25" width="26.7" height="6.26" fill="#ffcf00"/>
<rect x="535.9" y="130.59" width="26.7" height="6.26" fill="#ffbf00"/>
<rect x="535.9" y="124.93" width="26.7" height="6.26" fill="#ffaf00"/>
<rect x="535.9" y="119.27" width="26.7" height="6.26" fill="#ff9f00"/>
<rect x="535.9" y="113.61" width="26.7" height="6.26" fill="#ff8f00"/>
<rect x="535.9" y="107.95" width="26.7" height="6.26" fill="#ff8000"/>
<rect x="535.9" y="102.29" width="26.7" height="6.26" fill="#ff7000"/>
<rect x="535.9" y="96.63" width="26.7" height="6.26" fill="#ff6000"/>
<rect x="535.9" y="90.97" width="26.7" height="6.26" fill="#ff5000"/>
<rect x="535.9" y="85.31" width="26.7" height="6.26" fill="#ff4000"/>
<rect x="535.9" y="79.65" width="26.7" height="6.26" fill="#ff3000"/>
<rect x="535.9" y="73.99" width="26.7" height="6.26" fill="#ff2000"/>
<rect x="535.9" y="68.33" width="26.7" height="6.26" fill="#ff1000"/>
<rect x="535.9" y="62.68" width="26.7" height="6.26" fill="#ff0000"/>
<rect x="535.9" y="57.02" width="26.7" height="6.26" fill="#ef0000"/>
<rect x="535.9" y="51.36" width="26.7" height="6.26" fill="#df0000"/>
<rect x="535.9" y="45.7" width="26.7" height="6.26" fill="#cf0000"/>
<rect x="535.9" y="40.04" width="26.7" height="6.26" fill="#bf0000"/>
<rect x="535.9" y="34.38" width="26.7" height="6.26" fill="#af0000"/>
<rect x="535.9" y="28.72" width="26.7" height="6.26" fill="#9f0000"/>
<rect x="535.9" y="23.06" width="26.7" height="6.26" fill="#8f0000"/>
<rect x="535.9" y="17.4" width="26.7" height="6.26" fill="#800000"/>
<rect x="535.9" y="17.4" width="26.7" height="362.2" fill="none" stroke="#555" stroke-width="0.8"/>
<path d="M559.1 349.4H562.6" stroke="#555" stroke-width="1.2"/>
<path d="M559.1 299.1H562.6" stroke="#555" stroke-width="1.2"/>
<path d="M559.1 248.8H562.6" stroke="#555" stroke-width="1.2"/>
<path d="M559.1 198.5H562.6" stroke="#555" stroke-width="1.2"/>
<path d="M559.1 148.2H562.6" stroke="#555" stroke-width="1.2"/>
<path d="M559.1 97.9H562.6" stroke="#555" stroke-width="1.2"/>
<path d="M559.1 47.6H562.6" stroke="#555" stroke-width="1.2"/>
</g>
<g>
<rect x="1268.8" y="378.65" width="27.2" height="5.65" fill="#00008f"/>
<rect x="1268.8" y="373.01" width="27.2" height="6.25" fill="#00009f"/>
<rect x="1268.8" y="367.36" width="27.2" height="6.25" fill="#0000af"/>
<rect x="1268.8" y="361.72" width="27.2" height="6.25" fill="#0000bf"/>
<rect x="1268.8" y="356.07" width="27.2" height="6.25" fill="#0000cf"/>
<rect x="1268.8" y="350.43" width="27.2" height="6.25" fill="#0000df"/>
<rect x="1268.8" y="344.78" width="27.2" height="6.25" fill="#0000ef"/>
<rect x="1268.8" y="339.14" width="27.2" height="6.25" fill="#0000ff"/>
<rect x="1268.8" y="333.49" width="27.2" height="6.25" fill="#0010ff"/>
<rect x="1268.8" y="327.85" width="27.2" height="6.25" fill="#0020ff"/>
<rect x="1268.8" y="322.2" width="27.2" height="6.25" fill="#0030ff"/>
<rect x="1268.8" y="316.56" width="27.2" height="6.25" fill="#0040ff"/>
<rect x="1268.8" y="310.91" width="27.2" height="6.25" fill="#0050ff"/>
<rect x="1268.8" y="305.27" width="27.2" height="6.25" fill="#0060ff"/>
<rect x="1268.8" y="299.62" width="27.2" height="6.25" fill="#0070ff"/>
<rect x="1268.8" y="293.98" width="27.2" height="6.25" fill="#0080ff"/>
<rect x="1268.8" y="288.33" width="27.2" height="6.25" fill="#008fff"/>
<rect x="1268.8" y="282.68" width="27.2" height="6.25" fill="#009fff"/>
<rect x="1268.8" y="277.04" width="27.2" height="6.25" fill="#00afff"/>
<rect x="1268.8" y="271.39" width="27.2" height="6.25" fill="#00bfff"/>
<rect x="1268.8" y="265.75" width="27.2" height="6.25" fill="#00cfff"/>
<rect x="1268.8" y="260.1" width="27.2" height="6.25" fill="#00dfff"/>
<rect x="1268.8" y="254.46" width="27.2" height="6.25" fill="#00efff"/>
<rect x="1268.8" y="248.81" width="27.2" height="6.25" fill="#00ffff"/>
<rect x="1268.8" y="243.17" width="27.2" height="6.25" fill="#10ffef"/>
<rect x="1268.8" y="237.52" width="27.2" height="6.25" fill="#20ffdf"/>
<rect x="1268.8" y="231.88" width="27.2" height="6.25" fill="#30ffcf"/>
<rect x="1268.8" y="226.23" width="27.2" height="6.25" fill="#40ffbf"/>
<rect x="1268.8" y="220.59" width="27.2" height="6.25" fill="#50ffaf"/>
<rect x="1268.8" y="214.94" width="27.2" height="6.25" fill="#60ff9f"/>
<rect x="1268.8" y="209.3" width="27.2" height="6.25" fill="#70ff8f"/>
<rect x="1268.8" y="203.65" width="27.2" height="6.25" fill="#80ff80"/>
<rect x="1268.8" y="198" width="27.2" height="6.25" fill="#8fff70"/>
<rect x="1268.8" y="192.36" width="27.2" height="6.25" fill="#9fff60"/>
<rect x="1268.8" y="186.71" width="27.2" height="6.25" fill="#afff50"/>
<rect x="1268.8" y="181.07" width="27.2" height="6.25" fill="#bfff40"/>
<rect x="1268.8" y="175.42" width="27.2" height="6.25" fill="#cfff30"/>
<rect x="1268.8" y="169.78" width="27.2" height="6.25" fill="#dfff20"/>
<rect x="1268.8" y="164.13" width="27.2" height="6.25" fill="#efff10"/>
<rect x="1268.8" y="158.49" width="27.2" height="6.25" fill="#ffff00"/>
<rect x="1268.8" y="152.84" width="27.2" height="6.25" fill="#ffef00"/>
<rect x="1268.8" y="147.2" width="27.2" height="6.25" fill="#ffdf00"/>
<rect x="1268.8" y="141.55" width="27.2" height="6.25" fill="#ffcf00"/>
<rect x="1268.8" y="135.91" width="27.2" height="6.25" fill="#ffbf00"/>
<rect x="1268.8" y="130.26" width="27.2" height="6.25" fill="#ffaf00"/>
<rect x="1268.8" y="124.62" width="27.2" height="6.25" fill="#ff9f00"/>
<rect x="1268.8" y="118.97" width="27.2" height="6.25" fill="#ff8f00"/>
<rect x="1268.8" y="113.33" width="27.2" height="6.25" fill="#ff8000"/>
<rect x="1268.8" y="107.68" width="27.2" height="6.25" fill="#ff7000"/>
<rect x="1268.8" y="102.03" width="27.2" height="6.25" fill="#ff6000"/>
<rect x="1268.8" y="96.39" width="27.2" height="6.25" fill="#ff5000"/>
<rect x="1268.8" y="90.74" width="27.2" height="6.25" fill="#ff4000"/>
<rect x="1268.8" y="85.1" width="27.2" height="6.25" fill="#ff3000"/>
<rect x="1268.8" y="79.45" width="27.2" height="6.25" fill="#ff2000"/>
<rect x="1268.8" y="73.81" width="27.2" height="6.25" fill="#ff1000"/>
<rect x="1268.8" y="68.16" width="27.2" height="6.25" fill="#ff0000"/>
<rect x="1268.8" y="62.52" width="27.2" height="6.25" fill="#ef0000"/>
<rect x="1268.8" y="56.87" width="27.2" height="6.25" fill="#df0000"/>
<rect x="1268.8" y="51.23" width="27.2" height="6.25" fill="#cf0000"/>
<rect x="1268.8" y="45.58" width="27.2" height="6.25" fill="#bf0000"/>
<rect x="1268.8" y="39.94" width="27.2" height="6.25" fill="#af0000"/>
<rect x="1268.8" y="34.29" width="27.2" height="6.25" fill="#9f0000"/>
<rect x="1268.8" y="28.65" width="27.2" height="6.25" fill="#8f0000"/>
<rect x="1268.8" y="23" width="27.2" height="6.25" fill="#800000"/>
<rect x="1268.8" y="23" width="27.2" height="361.3" fill="none" stroke="#555" stroke-width="0.8"/>
<path d="M1292.5 354.25H1296" stroke="#555" stroke-width="1.2"/>
<path d="M1292.5 304.05H1296" stroke="#555" stroke-width="1.2"/>
<path d="M1292.5 253.85H1296" stroke="#555" stroke-width="1.2"/>
<path d="M1292.5 203.65H1296" stroke="#555" stroke-width="1.2"/>
<path d="M1292.5 153.45H1296" stroke="#555" stroke-width="1.2"/>
<path d="M1292.5 103.25H1296" stroke="#555" stroke-width="1.2"/>
<path d="M1292.5 53.05H1296" stroke="#555" stroke-width="1.2"/>
</g>
<g>
<rect x="546" y="858.15" width="27.2" height="5.65" fill="#00008f"/>
<rect x="546" y="852.49" width="27.2" height="6.25" fill="#00009f"/>
<rect x="546" y="846.84" width="27.2" height="6.25" fill="#0000af"/>
<rect x="546" y="841.18" width="27.2" height="6.25" fill="#0000bf"/>
<rect x="546" y="835.53" width="27.2" height="6.25" fill="#0000cf"/>
<rect x="546" y="829.87" width="27.2" height="6.25" fill="#0000df"/>
<rect x="546" y="824.22" width="27.2" height="6.25" fill="#0000ef"/>
<rect x="546" y="818.56" width="27.2" height="6.25" fill="#0000ff"/>
<rect x="546" y="812.91" width="27.2" height="6.25" fill="#0010ff"/>
<rect x="546" y="807.25" width="27.2" height="6.25" fill="#0020ff"/>
<rect x="546" y="801.6" width="27.2" height="6.25" fill="#0030ff"/>
<rect x="546" y="795.94" width="27.2" height="6.25" fill="#0040ff"/>
<rect x="546" y="790.29" width="27.2" height="6.25" fill="#0050ff"/>
<rect x="546" y="784.63" width="27.2" height="6.25" fill="#0060ff"/>
<rect x="546" y="778.98" width="27.2" height="6.25" fill="#0070ff"/>
<rect x="546" y="773.32" width="27.2" height="6.25" fill="#0080ff"/>
<rect x="546" y="767.67" width="27.2" height="6.25" fill="#008fff"/>
<rect x="546" y="762.02" width="27.2" height="6.25" fill="#009fff"/>
<rect x="546" y="756.36" width="27.2" height="6.25" fill="#00afff"/>
<rect x="546" y="750.71" width="27.2" height="6.25" fill="#00bfff"/>
<rect x="546" y="745.05" width="27.2" height="6.25" fill="#00cfff"/>
<rect x="546" y="739.4" width="27.2" height="6.25" fill="#00dfff"/>
<rect x="546" y="733.74" width="27.2" height="6.25" fill="#00efff"/>
<rect x="546" y="728.09" width="27.2" height="6.25" fill="#00ffff"/>
<rect x="546" y="722.43" width="27.2" height="6.25" fill="#10ffef"/>
<rect x="546" y="716.78" width="27.2" height="6.25" fill="#20ffdf"/>
<rect x="546" y="711.12" width="27.2" height="6.25" fill="#30ffcf"/>
<rect x="546" y="705.47" width="27.2" height="6.25" fill="#40ffbf"/>
<rect x="546" y="699.81" width="27.2" height="6.25" fill="#50ffaf"/>
<rect x="546" y="694.16" width="27.2" height="6.25" fill="#60ff9f"/>
<rect x="546" y="688.5" width="27.2" height="6.25" fill="#70ff8f"/>
<rect x="546" y="682.85" width="27.2" height="6.25" fill="#80ff80"/>
<rect x="546" y="677.2" width="27.2" height="6.25" fill="#8fff70"/>
<rect x="546" y="671.54" width="27.2" height="6.25" fill="#9fff60"/>
<rect x="546" y="665.89" width="27.2" height="6.25" fill="#afff50"/>
<rect x="546" y="660.23" width="27.2" height="6.25" fill="#bfff40"/>
<rect x="546" y="654.58" width="27.2" height="6.25" fill="#cfff30"/>
<rect x="546" y="648.92" width="27.2" height="6.25" fill="#dfff20"/>
<rect x="546" y="643.27" width="27.2" height="6.25" fill="#efff10"/>
<rect x="546" y="637.61" width="27.2" height="6.25" fill="#ffff00"/>
<rect x="546" y="631.96" width="27.2" height="6.25" fill="#ffef00"/>
<rect x="546" y="626.3" width="27.2" height="6.25" fill="#ffdf00"/>
<rect x="546" y="620.65" width="27.2" height="6.25" fill="#ffcf00"/>
<rect x="546" y="614.99" width="27.2" height="6.25" fill="#ffbf00"/>
<rect x="546" y="609.34" width="27.2" height="6.25" fill="#ffaf00"/>
<rect x="546" y="603.68" width="27.2" height="6.25" fill="#ff9f00"/>
<rect x="546" y="598.03" width="27.2" height="6.25" fill="#ff8f00"/>
<rect x="546" y="592.38" width="27.2" height="6.25" fill="#ff8000"/>
<rect x="546" y="586.72" width="27.2" height="6.25" fill="#ff7000"/>
<rect x="546" y="581.07" width="27.2" height="6.25" fill="#ff6000"/>
<rect x="546" y="575.41" width="27.2" height="6.25" fill="#ff5000"/>
<rect x="546" y="569.76" width="27.2" height="6.25" fill="#ff4000"/>
<rect x="546" y="564.1" width="27.2" height="6.25" fill="#ff3000"/>
<rect x="546" y="558.45" width="27.2" height="6.25" fill="#ff2000"/>
<rect x="546" y="552.79" width="27.2" height="6.25" fill="#ff1000"/>
<rect x="546" y="547.14" width="27.2" height="6.25" fill="#ff0000"/>
<rect x="546" y="541.48" width="27.2" height="6.25" fill="#ef0000"/>
<rect x="546" y="535.83" width="27.2" height="6.25" fill="#df0000"/>
<rect x="546" y="530.17" width="27.2" height="6.25" fill="#cf0000"/>
<rect x="546" y="524.52" width="27.2" height="6.25" fill="#bf0000"/>
<rect x="546" y="518.86" width="27.2" height="6.25" fill="#af0000"/>
<rect x="546" y="513.21" width="27.2" height="6.25" fill="#9f0000"/>
<rect x="546" y="507.55" width="27.2" height="6.25" fill="#8f0000"/>
<rect x="546" y="501.9" width="27.2" height="6.25" fill="#800000"/>
<rect x="546" y="501.9" width="27.2" height="361.9" fill="none" stroke="#555" stroke-width="0.8"/>
<path d="M569.7 574.28H573.2" stroke="#555" stroke-width="1.2"/>
<path d="M569.7 646.66H573.2" stroke="#555" stroke-width="1.2"/>
<path d="M569.7 719.04H573.2" stroke="#555" stroke-width="1.2"/>
<path d="M569.7 791.42H573.2" stroke="#555" stroke-width="1.2"/>
</g>
<g>
<rect x="1250.8" y="864.54" width="27.6" height="5.66" fill="#00008f"/>
<rect x="1250.8" y="858.88" width="27.6" height="6.26" fill="#00009f"/>
<rect x="1250.8" y="853.23" width="27.6" height="6.26" fill="#0000af"/>
<rect x="1250.8" y="847.57" width="27.6" height="6.26" fill="#0000bf"/>
<rect x="1250.8" y="841.91" width="27.6" height="6.26" fill="#0000cf"/>
<rect x="1250.8" y="836.25" width="27.6" height="6.26" fill="#0000df"/>
<rect x="1250.8" y="830.6" width="27.6" height="6.26" fill="#0000ef"/>
<rect x="1250.8" y="824.94" width="27.6" height="6.26" fill="#0000ff"/>
<rect x="1250.8" y="819.28" width="27.6" height="6.26" fill="#0010ff"/>
<rect x="1250.8" y="813.62" width="27.6" height="6.26" fill="#0020ff"/>
<rect x="1250.8" y="807.96" width="27.6" height="6.26" fill="#0030ff"/>
<rect x="1250.8" y="802.31" width="27.6" height="6.26" fill="#0040ff"/>
<rect x="1250.8" y="796.65" width="27.6" height="6.26" fill="#0050ff"/>
<rect x="1250.8" y="790.99" width="27.6" height="6.26" fill="#0060ff"/>
<rect x="1250.8" y="785.33" width="27.6" height="6.26" fill="#0070ff"/>
<rect x="1250.8" y="779.68" width="27.6" height="6.26" fill="#0080ff"/>
<rect x="1250.8" y="774.02" width="27.6" height="6.26" fill="#008fff"/>
<rect x="1250.8" y="768.36" width="27.6" height="6.26" fill="#009fff"/>
<rect x="1250.8" y="762.7" width="27.6" height="6.26" fill="#00afff"/>
<rect x="1250.8" y="757.04" width="27.6" height="6.26" fill="#00bfff"/>
<rect x="1250.8" y="751.39" width="27.6" height="6.26" fill="#00cfff"/>
<rect x="1250.8" y="745.73" width="27.6" height="6.26" fill="#00dfff"/>
<rect x="1250.8" y="740.07" width="27.6" height="6.26" fill="#00efff"/>
<rect x="1250.8" y="734.41" width="27.6" height="6.26" fill="#00ffff"/>
<rect x="1250.8" y="728.75" width="27.6" height="6.26" fill="#10ffef"/>
<rect x="1250.8" y="723.1" width="27.6" height="6.26" fill="#20ffdf"/>
<rect x="1250.8" y="717.44" width="27.6" height="6.26" fill="#30ffcf"/>
<rect x="1250.8" y="711.78" width="27.6" height="6.26" fill="#40ffbf"/>
<rect x="1250.8" y="706.12" width="27.6" height="6.26" fill="#50ffaf"/>
<rect x="1250.8" y="700.47" width="27.6" height="6.26" fill="#60ff9f"/>
<rect x="1250.8" y="694.81" width="27.6" height="6.26" fill="#70ff8f"/>
<rect x="1250.8" y="689.15" width="27.6" height="6.26" fill="#80ff80"/>
<rect x="1250.8" y="683.49" width="27.6" height="6.26" fill="#8fff70"/>
<rect x="1250.8" y="677.83" width="27.6" height="6.26" fill="#9fff60"/>
<rect x="1250.8" y="672.18" width="27.6" height="6.26" fill="#afff50"/>
<rect x="1250.8" y="666.52" width="27.6" height="6.26" fill="#bfff40"/>
<rect x="1250.8" y="660.86" width="27.6" height="6.26" fill="#cfff30"/>
<rect x="1250.8" y="655.2" width="27.6" height="6.26" fill="#dfff20"/>
<rect x="1250.8" y="649.55" width="27.6" height="6.26" fill="#efff10"/>
<rect x="1250.8" y="643.89" width="27.6" height="6.26" fill="#ffff00"/>
<rect x="1250.8" y="638.23" width="27.6" height="6.26" fill="#ffef00"/>
<rect x="1250.8" y="632.57" width="27.6" height="6.26" fill="#ffdf00"/>
<rect x="1250.8" y="626.91" width="27.6" height="6.26" fill="#ffcf00"/>
<rect x="1250.8" y="621.26" width="27.6" height="6.26" fill="#ffbf00"/>
<rect x="1250.8" y="615.6" width="27.6" height="6.26" fill="#ffaf00"/>
<rect x="1250.8" y="609.94" width="27.6" height="6.26" fill="#ff9f00"/>
<rect x="1250.8" y="604.28" width="27.6" height="6.26" fill="#ff8f00"/>
<rect x="1250.8" y="598.62" width="27.6" height="6.26" fill="#ff8000"/>
<rect x="1250.8" y="592.97" width="27.6" height="6.26" fill="#ff7000"/>
<rect x="1250.8" y="587.31" width="27.6" height="6.26" fill="#ff6000"/>
<rect x="1250.8" y="581.65" width="27.6" height="6.26" fill="#ff5000"/>
<rect x="1250.8" y="575.99" width="27.6" height="6.26" fill="#ff4000"/>
<rect x="1250.8" y="570.34" width="27.6" height="6.26" fill="#ff3000"/>
<rect x="1250.8" y="564.68" width="27.6" height="6.26" fill="#ff2000"/>
<rect x="1250.8" y="559.02" width="27.6" height="6.26" fill="#ff1000"/>
<rect x="1250.8" y="553.36" width="27.6" height="6.26" fill="#ff0000"/>
<rect x="1250.8" y="547.7" width="27.6" height="6.26" fill="#ef0000"/>
<rect x="1250.8" y="542.05" width="27.6" height="6.26" fill="#df0000"/>
<rect x="1250.8" y="536.39" width="27.6" height="6.26" fill="#cf0000"/>
<rect x="1250.8" y="530.73" width="27.6" height="6.26" fill="#bf0000"/>
<rect x="1250.8" y="525.07" width="27.6" height="6.26" fill="#af0000"/>
<rect x="1250.8" y="519.42" width="27.6" height="6.26" fill="#9f0000"/>
<rect x="1250.8" y="513.76" width="27.6" height="6.26" fill="#8f0000"/>
<rect x="1250.8" y="508.1" width="27.6" height="6.26" fill="#800000"/>
<rect x="1250.8" y="508.1" width="27.6" height="362.1" fill="none" stroke="#555" stroke-width="0.8"/>
<path d="M1274.9 580.52H1278.4" stroke="#555" stroke-width="1.2"/>
<path d="M1274.9 652.94H1278.4" stroke="#555" stroke-width="1.2"/>
<path d="M1274.9 725.36H1278.4" stroke="#555" stroke-width="1.2"/>
<path d="M1274.9 797.78H1278.4" stroke="#555" stroke-width="1.2"/>
</g>
<path d="M952.5 281 H1111 V78 H952.5 Z" fill="none" stroke="#808080" stroke-width="6.5" stroke-dasharray="27.5 19.5" stroke-dashoffset="0" stroke-linejoin="miter"/>
<path d="M937.5 776 H1092 V561 H937.5 Z" fill="none" stroke="#808080" stroke-width="6.5" stroke-dasharray="27.5 19.5" stroke-dashoffset="0" stroke-linejoin="miter"/>
<text class="tk" x="88.5" y="29.27" text-anchor="end">0.45</text>
<text class="tk" x="88.5" y="149.87" text-anchor="end">0.4</text>
<text class="tk" x="88.5" y="270.47" text-anchor="end">0.35</text>
<text class="tk" x="88.5" y="391.07" text-anchor="end">0.3</text>
<text class="tk" x="97" y="418.27" text-anchor="middle">0.2</text>
<text class="tk" x="229.6" y="418.27" text-anchor="middle">0.4</text>
<text class="tk" x="362.2" y="418.27" text-anchor="middle">0.6</text>
<text class="tk" x="494.8" y="418.27" text-anchor="middle">0.8</text>
<text class="cb" x="570" y="58.06">150</text>
<text class="cb" x="570" y="108.39">100</text>
<text class="cb" x="570" y="158.72">50</text>
<text class="cb" x="570" y="209.05">0</text>
<text class="cb" x="568.8" y="259.38">−<tspan dx="-2.8">50</tspan></text>
<text class="cb" x="568.8" y="309.71">−<tspan dx="-2.8">100</tspan></text>
<text class="cb" x="568.8" y="360.04">−<tspan dx="-2.8">150</tspan></text>
<text class="tk" x="820.5" y="35.07" text-anchor="end">0.5</text>
<text class="tk" x="820.5" y="125.47" text-anchor="end">0.45</text>
<text class="tk" x="820.5" y="215.87" text-anchor="end">0.4</text>
<text class="tk" x="820.5" y="306.27" text-anchor="end">0.35</text>
<text class="tk" x="820.5" y="396.67" text-anchor="end">0.3</text>
<text class="tk" x="829" y="423.47" text-anchor="middle">0.2</text>
<text class="tk" x="962" y="423.47" text-anchor="middle">0.4</text>
<text class="tk" x="1095" y="423.47" text-anchor="middle">0.6</text>
<text class="tk" x="1228" y="423.47" text-anchor="middle">0.8</text>
<text class="cb" x="1302.8" y="63.86">150</text>
<text class="cb" x="1302.8" y="114.16">100</text>
<text class="cb" x="1302.8" y="164.46">50</text>
<text class="cb" x="1302.8" y="214.76">0</text>
<text class="cb" x="1301.6" y="265.06">−<tspan dx="-2.8">50</tspan></text>
<text class="cb" x="1301.6" y="315.36">−<tspan dx="-2.8">100</tspan></text>
<text class="cb" x="1301.6" y="365.66">−<tspan dx="-2.8">150</tspan></text>
<text class="tk" x="98" y="512.67" text-anchor="end">0.5</text>
<text class="tk" x="98" y="603.42" text-anchor="end">0.45</text>
<text class="tk" x="98" y="694.17" text-anchor="end">0.4</text>
<text class="tk" x="98" y="784.92" text-anchor="end">0.35</text>
<text class="tk" x="98" y="875.67" text-anchor="end">0.3</text>
<text class="tk" x="106.6" y="903.17" text-anchor="middle">0.2</text>
<text class="tk" x="239.6" y="903.17" text-anchor="middle">0.4</text>
<text class="tk" x="372.6" y="903.17" text-anchor="middle">0.6</text>
<text class="tk" x="505.6" y="903.17" text-anchor="middle">0.8</text>
<text class="cbb" x="579.9" y="512.16">1</text>
<text class="cbb" x="579.9" y="584.86">0.8</text>
<text class="cbb" x="579.9" y="657.56">0.6</text>
<text class="cbb" x="579.9" y="730.26">0.4</text>
<text class="cbb" x="579.9" y="802.96">0.2</text>
<text class="cbb" x="579.9" y="875.66">0</text>
<text class="tk" x="803.5" y="521.67" text-anchor="end">0.5</text>
<text class="tk" x="803.5" y="611.92" text-anchor="end">0.45</text>
<text class="tk" x="803.5" y="702.17" text-anchor="end">0.4</text>
<text class="tk" x="803.5" y="792.42" text-anchor="end">0.35</text>
<text class="tk" x="803.5" y="882.67" text-anchor="end">0.3</text>
<text class="tk" x="812" y="908.37" text-anchor="middle">0.2</text>
<text class="tk" x="944.7" y="908.37" text-anchor="middle">0.4</text>
<text class="tk" x="1077.4" y="908.37" text-anchor="middle">0.6</text>
<text class="tk" x="1210.1" y="908.37" text-anchor="middle">0.8</text>
<text class="cbb" x="1285.4" y="519.16">1</text>
<text class="cbb" x="1285.4" y="591.61">0.8</text>
<text class="cbb" x="1285.4" y="664.06">0.6</text>
<text class="cbb" x="1285.4" y="736.51">0.4</text>
<text class="cbb" x="1285.4" y="808.96">0.2</text>
<text class="cbb" x="1285.4" y="881.41">0</text>
<text class="lab" x="313.4" y="459" text-anchor="middle">Fill factor</text>
<text class="lab" x="1026.5" y="459" text-anchor="middle">Fill factor</text>
<text class="lab" x="327.8" y="946" text-anchor="middle">Fill factor</text>
<text class="lab" x="1041.2" y="946" text-anchor="middle">Fill factor</text>
<text class="lab" x="0" y="0" text-anchor="middle" transform="translate(25 198.8) rotate(-90)">Period (μm)</text>
<text class="lab" x="0" y="0" text-anchor="middle" transform="translate(758 203.3) rotate(-90)">Period (μm)</text>
<text class="lab" x="0" y="0" text-anchor="middle" transform="translate(25.2 682.8) rotate(-90)">Period (μm)</text>
<text class="lab" x="0" y="0" text-anchor="middle" transform="translate(740.3 689.2) rotate(-90)">Period</text>
<text class="cbl" x="0" y="0" text-anchor="middle" transform="translate(638 198.3) rotate(90) scale(0.96 1)">Phase (deg)</text>
<text class="cbl" x="0" y="0" text-anchor="middle" transform="translate(1377 217) rotate(90) scale(0.975 1)">Phase (deg)</text>
<text class="cbl" x="0" y="0" text-anchor="middle" transform="translate(638 683.6) rotate(90) scale(0.964 1)">Transmission</text>
<text class="cbl" x="0" y="0" text-anchor="middle" transform="translate(1358 721.5) rotate(90) scale(0.973 1)">Transmission</text>
<text class="pl" x="0" y="446">(a)</text>
<text class="pl" x="732" y="446">(b)</text>
<text class="pl" x="0" y="951.5">(c)</text>
<text class="pl" x="732" y="951">(d)</text>
</svg></body></html>
